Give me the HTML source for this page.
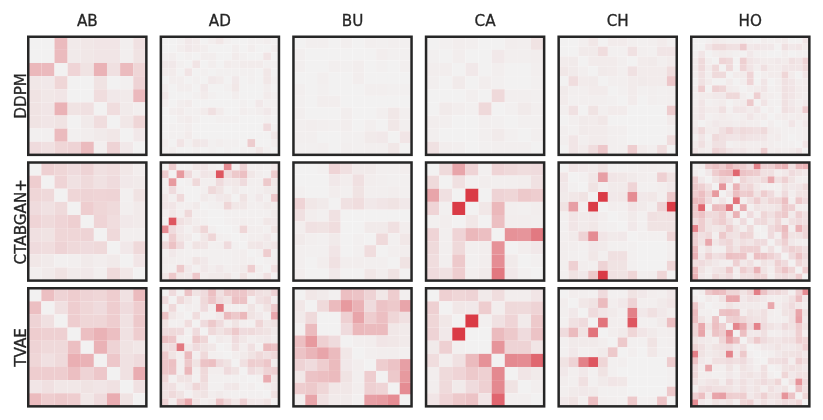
<!DOCTYPE html>
<html lang="en"><head><meta charset="utf-8"><title>Correlation difference heatmaps</title>
<style>html,body{margin:0;padding:0;background:#fff}svg{display:block}text{font-family:"DejaVu Sans","Liberation Sans",sans-serif;font-size:15.2px;fill:#262626;stroke:#262626;stroke-width:0.3px}</style></head><body>
<svg width="823" height="420" viewBox="0 0 823 420">
<rect width="823" height="420" fill="#fff"/>
<text x="87.3" y="25.6" text-anchor="middle">AB</text>
<text x="219.9" y="25.6" text-anchor="middle">AD</text>
<text x="352.5" y="25.6" text-anchor="middle">BU</text>
<text x="485.1" y="25.6" text-anchor="middle">CA</text>
<text x="617.7" y="25.6" text-anchor="middle">CH</text>
<text x="750.3" y="25.6" text-anchor="middle">HO</text>
<text transform="translate(25.5 95.9) rotate(-90)" text-anchor="middle">DDPM</text>
<text transform="translate(25.5 221.65) rotate(-90)" text-anchor="middle">CTABGAN+</text>
<text transform="translate(25.5 347.4) rotate(-90)" text-anchor="middle">TVAE</text>
<g>
<rect x="28.25" y="36.75" width="13.12" height="13.12" fill="#f2f1f1"/>
<rect x="41.37" y="36.75" width="13.12" height="13.12" fill="#f2f1f1"/>
<rect x="54.49" y="36.75" width="13.12" height="13.12" fill="#ebbbbe"/>
<rect x="67.62" y="36.75" width="13.12" height="13.12" fill="#f1eaea"/>
<rect x="80.74" y="36.75" width="13.12" height="13.12" fill="#f1e7e7"/>
<rect x="93.86" y="36.75" width="13.12" height="13.12" fill="#f1e5e6"/>
<rect x="106.98" y="36.75" width="13.12" height="13.12" fill="#f1e5e6"/>
<rect x="120.11" y="36.75" width="13.12" height="13.12" fill="#f2eeee"/>
<rect x="133.23" y="36.75" width="13.12" height="13.12" fill="#f0e1e2"/>
<rect x="28.25" y="49.87" width="13.12" height="13.12" fill="#f2f1f1"/>
<rect x="41.37" y="49.87" width="13.12" height="13.12" fill="#f2f1f1"/>
<rect x="54.49" y="49.87" width="13.12" height="13.12" fill="#ebbbbe"/>
<rect x="67.62" y="49.87" width="13.12" height="13.12" fill="#f1eaea"/>
<rect x="80.74" y="49.87" width="13.12" height="13.12" fill="#f1e7e7"/>
<rect x="93.86" y="49.87" width="13.12" height="13.12" fill="#f1e5e6"/>
<rect x="106.98" y="49.87" width="13.12" height="13.12" fill="#f1e5e6"/>
<rect x="120.11" y="49.87" width="13.12" height="13.12" fill="#f2eeee"/>
<rect x="133.23" y="49.87" width="13.12" height="13.12" fill="#f0e3e3"/>
<rect x="28.25" y="62.99" width="13.12" height="13.12" fill="#ebb8bb"/>
<rect x="41.37" y="62.99" width="13.12" height="13.12" fill="#ebb9bd"/>
<rect x="54.49" y="62.99" width="13.12" height="13.12" fill="#f2f1f1"/>
<rect x="67.62" y="62.99" width="13.12" height="13.12" fill="#efd4d6"/>
<rect x="80.74" y="62.99" width="13.12" height="13.12" fill="#f0e3e3"/>
<rect x="93.86" y="62.99" width="13.12" height="13.12" fill="#eab2b6"/>
<rect x="106.98" y="62.99" width="13.12" height="13.12" fill="#f0e0e1"/>
<rect x="120.11" y="62.99" width="13.12" height="13.12" fill="#ebbbbe"/>
<rect x="133.23" y="62.99" width="13.12" height="13.12" fill="#efd6d7"/>
<rect x="28.25" y="76.12" width="13.12" height="13.12" fill="#f1e7e7"/>
<rect x="41.37" y="76.12" width="13.12" height="13.12" fill="#f1e8e9"/>
<rect x="54.49" y="76.12" width="13.12" height="13.12" fill="#efd6d7"/>
<rect x="67.62" y="76.12" width="13.12" height="13.12" fill="#f2f1f1"/>
<rect x="80.74" y="76.12" width="13.12" height="13.12" fill="#f2f1f1"/>
<rect x="93.86" y="76.12" width="13.12" height="13.12" fill="#f0e3e3"/>
<rect x="106.98" y="76.12" width="13.12" height="13.12" fill="#f2f1f1"/>
<rect x="120.11" y="76.12" width="13.12" height="13.12" fill="#f2efef"/>
<rect x="133.23" y="76.12" width="13.12" height="13.12" fill="#eed3d5"/>
<rect x="28.25" y="89.24" width="13.12" height="13.12" fill="#f0e3e3"/>
<rect x="41.37" y="89.24" width="13.12" height="13.12" fill="#f1e7e7"/>
<rect x="54.49" y="89.24" width="13.12" height="13.12" fill="#f1e5e6"/>
<rect x="67.62" y="89.24" width="13.12" height="13.12" fill="#f2f1f1"/>
<rect x="80.74" y="89.24" width="13.12" height="13.12" fill="#f2f1f1"/>
<rect x="93.86" y="89.24" width="13.12" height="13.12" fill="#f0ddde"/>
<rect x="106.98" y="89.24" width="13.12" height="13.12" fill="#f1e8e9"/>
<rect x="120.11" y="89.24" width="13.12" height="13.12" fill="#f1eaea"/>
<rect x="133.23" y="89.24" width="13.12" height="13.12" fill="#ebb9bd"/>
<rect x="28.25" y="102.36" width="13.12" height="13.12" fill="#f0e3e3"/>
<rect x="41.37" y="102.36" width="13.12" height="13.12" fill="#f1e5e6"/>
<rect x="54.49" y="102.36" width="13.12" height="13.12" fill="#eab2b6"/>
<rect x="67.62" y="102.36" width="13.12" height="13.12" fill="#f0e3e3"/>
<rect x="80.74" y="102.36" width="13.12" height="13.12" fill="#f0e0e1"/>
<rect x="93.86" y="102.36" width="13.12" height="13.12" fill="#f2f1f1"/>
<rect x="106.98" y="102.36" width="13.12" height="13.12" fill="#f0ddde"/>
<rect x="120.11" y="102.36" width="13.12" height="13.12" fill="#f1eaea"/>
<rect x="133.23" y="102.36" width="13.12" height="13.12" fill="#f2eeee"/>
<rect x="28.25" y="115.48" width="13.12" height="13.12" fill="#f0e3e3"/>
<rect x="41.37" y="115.48" width="13.12" height="13.12" fill="#f1e5e6"/>
<rect x="54.49" y="115.48" width="13.12" height="13.12" fill="#f0e3e3"/>
<rect x="67.62" y="115.48" width="13.12" height="13.12" fill="#f2f1f1"/>
<rect x="80.74" y="115.48" width="13.12" height="13.12" fill="#f1eaea"/>
<rect x="93.86" y="115.48" width="13.12" height="13.12" fill="#f0ddde"/>
<rect x="106.98" y="115.48" width="13.12" height="13.12" fill="#f2f1f1"/>
<rect x="120.11" y="115.48" width="13.12" height="13.12" fill="#f1e7e7"/>
<rect x="133.23" y="115.48" width="13.12" height="13.12" fill="#efd6d7"/>
<rect x="28.25" y="128.61" width="13.12" height="13.12" fill="#f2efef"/>
<rect x="41.37" y="128.61" width="13.12" height="13.12" fill="#f2efef"/>
<rect x="54.49" y="128.61" width="13.12" height="13.12" fill="#ebbbbe"/>
<rect x="67.62" y="128.61" width="13.12" height="13.12" fill="#f2efef"/>
<rect x="80.74" y="128.61" width="13.12" height="13.12" fill="#f2eded"/>
<rect x="93.86" y="128.61" width="13.12" height="13.12" fill="#f1eaea"/>
<rect x="106.98" y="128.61" width="13.12" height="13.12" fill="#f1e7e7"/>
<rect x="120.11" y="128.61" width="13.12" height="13.12" fill="#f2f1f1"/>
<rect x="133.23" y="128.61" width="13.12" height="13.12" fill="#f1e8e9"/>
<rect x="28.25" y="141.73" width="13.12" height="13.12" fill="#efdbdd"/>
<rect x="41.37" y="141.73" width="13.12" height="13.12" fill="#f0e0e1"/>
<rect x="54.49" y="141.73" width="13.12" height="13.12" fill="#efd6d7"/>
<rect x="67.62" y="141.73" width="13.12" height="13.12" fill="#eed3d5"/>
<rect x="80.74" y="141.73" width="13.12" height="13.12" fill="#ebbbbe"/>
<rect x="93.86" y="141.73" width="13.12" height="13.12" fill="#f2eeee"/>
<rect x="106.98" y="141.73" width="13.12" height="13.12" fill="#eed3d5"/>
<rect x="120.11" y="141.73" width="13.12" height="13.12" fill="#f1e8e9"/>
<rect x="133.23" y="141.73" width="13.12" height="13.12" fill="#f2f1f1"/>
<rect x="28.25" y="36.75" width="118.1" height="118.1" fill="none" stroke="#262626" stroke-width="2.5"/>
</g>
<g>
<rect x="160.85" y="36.75" width="7.87" height="7.87" fill="#f2f1f1"/>
<rect x="168.72" y="36.75" width="7.87" height="7.87" fill="#f2f1f1"/>
<rect x="176.6" y="36.75" width="7.87" height="7.87" fill="#f2efef"/>
<rect x="184.47" y="36.75" width="7.87" height="7.87" fill="#f1e8e9"/>
<rect x="192.34" y="36.75" width="7.87" height="7.87" fill="#f2ebeb"/>
<rect x="200.22" y="36.75" width="7.87" height="7.87" fill="#f2f1f1"/>
<rect x="208.09" y="36.75" width="7.87" height="7.87" fill="#f2eded"/>
<rect x="215.96" y="36.75" width="7.87" height="7.87" fill="#f1e7e7"/>
<rect x="223.84" y="36.75" width="7.87" height="7.87" fill="#f2efef"/>
<rect x="231.71" y="36.75" width="7.87" height="7.87" fill="#f2f1f1"/>
<rect x="239.58" y="36.75" width="7.87" height="7.87" fill="#f2f1f1"/>
<rect x="247.46" y="36.75" width="7.87" height="7.87" fill="#f2efef"/>
<rect x="255.33" y="36.75" width="7.87" height="7.87" fill="#f2efef"/>
<rect x="263.2" y="36.75" width="7.87" height="7.87" fill="#f2eded"/>
<rect x="271.08" y="36.75" width="7.87" height="7.87" fill="#f2efef"/>
<rect x="160.85" y="44.62" width="7.87" height="7.87" fill="#f2f1f1"/>
<rect x="168.72" y="44.62" width="7.87" height="7.87" fill="#f2f1f1"/>
<rect x="176.6" y="44.62" width="7.87" height="7.87" fill="#f2eded"/>
<rect x="184.47" y="44.62" width="7.87" height="7.87" fill="#f1e8e9"/>
<rect x="192.34" y="44.62" width="7.87" height="7.87" fill="#f2ebeb"/>
<rect x="200.22" y="44.62" width="7.87" height="7.87" fill="#f2eded"/>
<rect x="208.09" y="44.62" width="7.87" height="7.87" fill="#f2f1f1"/>
<rect x="215.96" y="44.62" width="7.87" height="7.87" fill="#f2f1f1"/>
<rect x="223.84" y="44.62" width="7.87" height="7.87" fill="#f2f1f1"/>
<rect x="231.71" y="44.62" width="7.87" height="7.87" fill="#f2eded"/>
<rect x="239.58" y="44.62" width="7.87" height="7.87" fill="#f2f1f1"/>
<rect x="247.46" y="44.62" width="7.87" height="7.87" fill="#f2eded"/>
<rect x="255.33" y="44.62" width="7.87" height="7.87" fill="#f2f1f1"/>
<rect x="263.2" y="44.62" width="7.87" height="7.87" fill="#f2f1f1"/>
<rect x="271.08" y="44.62" width="7.87" height="7.87" fill="#f2eded"/>
<rect x="160.85" y="52.5" width="7.87" height="7.87" fill="#f2efef"/>
<rect x="168.72" y="52.5" width="7.87" height="7.87" fill="#f2eded"/>
<rect x="176.6" y="52.5" width="7.87" height="7.87" fill="#f2f1f1"/>
<rect x="184.47" y="52.5" width="7.87" height="7.87" fill="#f2efef"/>
<rect x="192.34" y="52.5" width="7.87" height="7.87" fill="#f2f1f1"/>
<rect x="200.22" y="52.5" width="7.87" height="7.87" fill="#f2eded"/>
<rect x="208.09" y="52.5" width="7.87" height="7.87" fill="#f2eded"/>
<rect x="215.96" y="52.5" width="7.87" height="7.87" fill="#f2f1f1"/>
<rect x="223.84" y="52.5" width="7.87" height="7.87" fill="#f2f1f1"/>
<rect x="231.71" y="52.5" width="7.87" height="7.87" fill="#f2ebeb"/>
<rect x="239.58" y="52.5" width="7.87" height="7.87" fill="#f2efef"/>
<rect x="247.46" y="52.5" width="7.87" height="7.87" fill="#f2f1f1"/>
<rect x="255.33" y="52.5" width="7.87" height="7.87" fill="#f2f1f1"/>
<rect x="263.2" y="52.5" width="7.87" height="7.87" fill="#f1e4e5"/>
<rect x="271.08" y="52.5" width="7.87" height="7.87" fill="#f2f1f1"/>
<rect x="160.85" y="60.37" width="7.87" height="7.87" fill="#f1e8e9"/>
<rect x="168.72" y="60.37" width="7.87" height="7.87" fill="#f1e8e9"/>
<rect x="176.6" y="60.37" width="7.87" height="7.87" fill="#f2efef"/>
<rect x="184.47" y="60.37" width="7.87" height="7.87" fill="#f2f1f1"/>
<rect x="192.34" y="60.37" width="7.87" height="7.87" fill="#f1e4e5"/>
<rect x="200.22" y="60.37" width="7.87" height="7.87" fill="#f2f1f1"/>
<rect x="208.09" y="60.37" width="7.87" height="7.87" fill="#f2eded"/>
<rect x="215.96" y="60.37" width="7.87" height="7.87" fill="#f2f1f1"/>
<rect x="223.84" y="60.37" width="7.87" height="7.87" fill="#f2ebeb"/>
<rect x="231.71" y="60.37" width="7.87" height="7.87" fill="#f2eded"/>
<rect x="239.58" y="60.37" width="7.87" height="7.87" fill="#f2ebeb"/>
<rect x="247.46" y="60.37" width="7.87" height="7.87" fill="#f2ebeb"/>
<rect x="255.33" y="60.37" width="7.87" height="7.87" fill="#f2ebeb"/>
<rect x="263.2" y="60.37" width="7.87" height="7.87" fill="#f2efef"/>
<rect x="271.08" y="60.37" width="7.87" height="7.87" fill="#f2efef"/>
<rect x="160.85" y="68.24" width="7.87" height="7.87" fill="#f2ebeb"/>
<rect x="168.72" y="68.24" width="7.87" height="7.87" fill="#f2ebeb"/>
<rect x="176.6" y="68.24" width="7.87" height="7.87" fill="#f2f1f1"/>
<rect x="184.47" y="68.24" width="7.87" height="7.87" fill="#f1e4e5"/>
<rect x="192.34" y="68.24" width="7.87" height="7.87" fill="#f2f1f1"/>
<rect x="200.22" y="68.24" width="7.87" height="7.87" fill="#f2efef"/>
<rect x="208.09" y="68.24" width="7.87" height="7.87" fill="#f2f1f1"/>
<rect x="215.96" y="68.24" width="7.87" height="7.87" fill="#f2efef"/>
<rect x="223.84" y="68.24" width="7.87" height="7.87" fill="#f2efef"/>
<rect x="231.71" y="68.24" width="7.87" height="7.87" fill="#f2efef"/>
<rect x="239.58" y="68.24" width="7.87" height="7.87" fill="#f2efef"/>
<rect x="247.46" y="68.24" width="7.87" height="7.87" fill="#f2efef"/>
<rect x="255.33" y="68.24" width="7.87" height="7.87" fill="#f2f1f1"/>
<rect x="263.2" y="68.24" width="7.87" height="7.87" fill="#f1e7e7"/>
<rect x="271.08" y="68.24" width="7.87" height="7.87" fill="#f2f1f1"/>
<rect x="160.85" y="76.12" width="7.87" height="7.87" fill="#f2f1f1"/>
<rect x="168.72" y="76.12" width="7.87" height="7.87" fill="#f2eded"/>
<rect x="176.6" y="76.12" width="7.87" height="7.87" fill="#f2eded"/>
<rect x="184.47" y="76.12" width="7.87" height="7.87" fill="#f2f1f1"/>
<rect x="192.34" y="76.12" width="7.87" height="7.87" fill="#f2efef"/>
<rect x="200.22" y="76.12" width="7.87" height="7.87" fill="#f2f1f1"/>
<rect x="208.09" y="76.12" width="7.87" height="7.87" fill="#f1e8e9"/>
<rect x="215.96" y="76.12" width="7.87" height="7.87" fill="#f2ebeb"/>
<rect x="223.84" y="76.12" width="7.87" height="7.87" fill="#f2f1f1"/>
<rect x="231.71" y="76.12" width="7.87" height="7.87" fill="#f1e8e9"/>
<rect x="239.58" y="76.12" width="7.87" height="7.87" fill="#f2f1f1"/>
<rect x="247.46" y="76.12" width="7.87" height="7.87" fill="#f2efef"/>
<rect x="255.33" y="76.12" width="7.87" height="7.87" fill="#f2f1f1"/>
<rect x="263.2" y="76.12" width="7.87" height="7.87" fill="#f1e7e7"/>
<rect x="271.08" y="76.12" width="7.87" height="7.87" fill="#f2efef"/>
<rect x="160.85" y="83.99" width="7.87" height="7.87" fill="#f2eded"/>
<rect x="168.72" y="83.99" width="7.87" height="7.87" fill="#f2f1f1"/>
<rect x="176.6" y="83.99" width="7.87" height="7.87" fill="#f2eded"/>
<rect x="184.47" y="83.99" width="7.87" height="7.87" fill="#f2eded"/>
<rect x="192.34" y="83.99" width="7.87" height="7.87" fill="#f2f1f1"/>
<rect x="200.22" y="83.99" width="7.87" height="7.87" fill="#f1e8e9"/>
<rect x="208.09" y="83.99" width="7.87" height="7.87" fill="#f2f1f1"/>
<rect x="215.96" y="83.99" width="7.87" height="7.87" fill="#f2f1f1"/>
<rect x="223.84" y="83.99" width="7.87" height="7.87" fill="#f2efef"/>
<rect x="231.71" y="83.99" width="7.87" height="7.87" fill="#f1e7e7"/>
<rect x="239.58" y="83.99" width="7.87" height="7.87" fill="#f2f1f1"/>
<rect x="247.46" y="83.99" width="7.87" height="7.87" fill="#f2f1f1"/>
<rect x="255.33" y="83.99" width="7.87" height="7.87" fill="#f2f1f1"/>
<rect x="263.2" y="83.99" width="7.87" height="7.87" fill="#f2eded"/>
<rect x="271.08" y="83.99" width="7.87" height="7.87" fill="#f2f1f1"/>
<rect x="160.85" y="91.86" width="7.87" height="7.87" fill="#f1e8e9"/>
<rect x="168.72" y="91.86" width="7.87" height="7.87" fill="#f2f1f1"/>
<rect x="176.6" y="91.86" width="7.87" height="7.87" fill="#f2f1f1"/>
<rect x="184.47" y="91.86" width="7.87" height="7.87" fill="#f2f1f1"/>
<rect x="192.34" y="91.86" width="7.87" height="7.87" fill="#f2efef"/>
<rect x="200.22" y="91.86" width="7.87" height="7.87" fill="#f2ebeb"/>
<rect x="208.09" y="91.86" width="7.87" height="7.87" fill="#f2efef"/>
<rect x="215.96" y="91.86" width="7.87" height="7.87" fill="#f2f1f1"/>
<rect x="223.84" y="91.86" width="7.87" height="7.87" fill="#f2f1f1"/>
<rect x="231.71" y="91.86" width="7.87" height="7.87" fill="#f2eded"/>
<rect x="239.58" y="91.86" width="7.87" height="7.87" fill="#f2f1f1"/>
<rect x="247.46" y="91.86" width="7.87" height="7.87" fill="#f2f1f1"/>
<rect x="255.33" y="91.86" width="7.87" height="7.87" fill="#f2f1f1"/>
<rect x="263.2" y="91.86" width="7.87" height="7.87" fill="#f2ebeb"/>
<rect x="271.08" y="91.86" width="7.87" height="7.87" fill="#f2efef"/>
<rect x="160.85" y="99.74" width="7.87" height="7.87" fill="#f2eded"/>
<rect x="168.72" y="99.74" width="7.87" height="7.87" fill="#f2f1f1"/>
<rect x="176.6" y="99.74" width="7.87" height="7.87" fill="#f2eded"/>
<rect x="184.47" y="99.74" width="7.87" height="7.87" fill="#f2ebeb"/>
<rect x="192.34" y="99.74" width="7.87" height="7.87" fill="#f2f1f1"/>
<rect x="200.22" y="99.74" width="7.87" height="7.87" fill="#f2f1f1"/>
<rect x="208.09" y="99.74" width="7.87" height="7.87" fill="#f2f1f1"/>
<rect x="215.96" y="99.74" width="7.87" height="7.87" fill="#f2f1f1"/>
<rect x="223.84" y="99.74" width="7.87" height="7.87" fill="#f2f1f1"/>
<rect x="231.71" y="99.74" width="7.87" height="7.87" fill="#f2f1f1"/>
<rect x="239.58" y="99.74" width="7.87" height="7.87" fill="#f2efef"/>
<rect x="247.46" y="99.74" width="7.87" height="7.87" fill="#f2f1f1"/>
<rect x="255.33" y="99.74" width="7.87" height="7.87" fill="#f1e8e9"/>
<rect x="263.2" y="99.74" width="7.87" height="7.87" fill="#f2efef"/>
<rect x="271.08" y="99.74" width="7.87" height="7.87" fill="#f2efef"/>
<rect x="160.85" y="107.61" width="7.87" height="7.87" fill="#f2f1f1"/>
<rect x="168.72" y="107.61" width="7.87" height="7.87" fill="#f2eded"/>
<rect x="176.6" y="107.61" width="7.87" height="7.87" fill="#f2ebeb"/>
<rect x="184.47" y="107.61" width="7.87" height="7.87" fill="#f2efef"/>
<rect x="192.34" y="107.61" width="7.87" height="7.87" fill="#f2efef"/>
<rect x="200.22" y="107.61" width="7.87" height="7.87" fill="#f2ebeb"/>
<rect x="208.09" y="107.61" width="7.87" height="7.87" fill="#f0e0e1"/>
<rect x="215.96" y="107.61" width="7.87" height="7.87" fill="#f2ebeb"/>
<rect x="223.84" y="107.61" width="7.87" height="7.87" fill="#f2f1f1"/>
<rect x="231.71" y="107.61" width="7.87" height="7.87" fill="#f2f1f1"/>
<rect x="239.58" y="107.61" width="7.87" height="7.87" fill="#f2eded"/>
<rect x="247.46" y="107.61" width="7.87" height="7.87" fill="#f2efef"/>
<rect x="255.33" y="107.61" width="7.87" height="7.87" fill="#f2eded"/>
<rect x="263.2" y="107.61" width="7.87" height="7.87" fill="#f1e8e9"/>
<rect x="271.08" y="107.61" width="7.87" height="7.87" fill="#f2efef"/>
<rect x="160.85" y="115.48" width="7.87" height="7.87" fill="#f2f1f1"/>
<rect x="168.72" y="115.48" width="7.87" height="7.87" fill="#f2f1f1"/>
<rect x="176.6" y="115.48" width="7.87" height="7.87" fill="#f2eded"/>
<rect x="184.47" y="115.48" width="7.87" height="7.87" fill="#f2ebeb"/>
<rect x="192.34" y="115.48" width="7.87" height="7.87" fill="#f2efef"/>
<rect x="200.22" y="115.48" width="7.87" height="7.87" fill="#f2f1f1"/>
<rect x="208.09" y="115.48" width="7.87" height="7.87" fill="#f2f1f1"/>
<rect x="215.96" y="115.48" width="7.87" height="7.87" fill="#f2efef"/>
<rect x="223.84" y="115.48" width="7.87" height="7.87" fill="#f2efef"/>
<rect x="231.71" y="115.48" width="7.87" height="7.87" fill="#f2efef"/>
<rect x="239.58" y="115.48" width="7.87" height="7.87" fill="#f2f1f1"/>
<rect x="247.46" y="115.48" width="7.87" height="7.87" fill="#f2f1f1"/>
<rect x="255.33" y="115.48" width="7.87" height="7.87" fill="#f2f1f1"/>
<rect x="263.2" y="115.48" width="7.87" height="7.87" fill="#f2efef"/>
<rect x="271.08" y="115.48" width="7.87" height="7.87" fill="#f2f1f1"/>
<rect x="160.85" y="123.36" width="7.87" height="7.87" fill="#f2f1f1"/>
<rect x="168.72" y="123.36" width="7.87" height="7.87" fill="#f2efef"/>
<rect x="176.6" y="123.36" width="7.87" height="7.87" fill="#f2efef"/>
<rect x="184.47" y="123.36" width="7.87" height="7.87" fill="#f2eded"/>
<rect x="192.34" y="123.36" width="7.87" height="7.87" fill="#f2f1f1"/>
<rect x="200.22" y="123.36" width="7.87" height="7.87" fill="#f2f1f1"/>
<rect x="208.09" y="123.36" width="7.87" height="7.87" fill="#f2f1f1"/>
<rect x="215.96" y="123.36" width="7.87" height="7.87" fill="#f2f1f1"/>
<rect x="223.84" y="123.36" width="7.87" height="7.87" fill="#f2f1f1"/>
<rect x="231.71" y="123.36" width="7.87" height="7.87" fill="#f2f1f1"/>
<rect x="239.58" y="123.36" width="7.87" height="7.87" fill="#f2f1f1"/>
<rect x="247.46" y="123.36" width="7.87" height="7.87" fill="#f2f1f1"/>
<rect x="255.33" y="123.36" width="7.87" height="7.87" fill="#f2f1f1"/>
<rect x="263.2" y="123.36" width="7.87" height="7.87" fill="#efdbdd"/>
<rect x="271.08" y="123.36" width="7.87" height="7.87" fill="#f2efef"/>
<rect x="160.85" y="131.23" width="7.87" height="7.87" fill="#f2f1f1"/>
<rect x="168.72" y="131.23" width="7.87" height="7.87" fill="#f2efef"/>
<rect x="176.6" y="131.23" width="7.87" height="7.87" fill="#f2efef"/>
<rect x="184.47" y="131.23" width="7.87" height="7.87" fill="#f2ebeb"/>
<rect x="192.34" y="131.23" width="7.87" height="7.87" fill="#f2f1f1"/>
<rect x="200.22" y="131.23" width="7.87" height="7.87" fill="#f2f1f1"/>
<rect x="208.09" y="131.23" width="7.87" height="7.87" fill="#f2f1f1"/>
<rect x="215.96" y="131.23" width="7.87" height="7.87" fill="#f2f1f1"/>
<rect x="223.84" y="131.23" width="7.87" height="7.87" fill="#f2f1f1"/>
<rect x="231.71" y="131.23" width="7.87" height="7.87" fill="#f2f1f1"/>
<rect x="239.58" y="131.23" width="7.87" height="7.87" fill="#f2f1f1"/>
<rect x="247.46" y="131.23" width="7.87" height="7.87" fill="#f2f1f1"/>
<rect x="255.33" y="131.23" width="7.87" height="7.87" fill="#f2f1f1"/>
<rect x="263.2" y="131.23" width="7.87" height="7.87" fill="#f2f1f1"/>
<rect x="271.08" y="131.23" width="7.87" height="7.87" fill="#f1e7e7"/>
<rect x="160.85" y="139.1" width="7.87" height="7.87" fill="#f2eded"/>
<rect x="168.72" y="139.1" width="7.87" height="7.87" fill="#f2f1f1"/>
<rect x="176.6" y="139.1" width="7.87" height="7.87" fill="#f1e4e5"/>
<rect x="184.47" y="139.1" width="7.87" height="7.87" fill="#f2efef"/>
<rect x="192.34" y="139.1" width="7.87" height="7.87" fill="#f1e7e7"/>
<rect x="200.22" y="139.1" width="7.87" height="7.87" fill="#f1e8e9"/>
<rect x="208.09" y="139.1" width="7.87" height="7.87" fill="#f2efef"/>
<rect x="215.96" y="139.1" width="7.87" height="7.87" fill="#f2eded"/>
<rect x="223.84" y="139.1" width="7.87" height="7.87" fill="#f2efef"/>
<rect x="231.71" y="139.1" width="7.87" height="7.87" fill="#f2efef"/>
<rect x="239.58" y="139.1" width="7.87" height="7.87" fill="#f2f1f1"/>
<rect x="247.46" y="139.1" width="7.87" height="7.87" fill="#edccce"/>
<rect x="255.33" y="139.1" width="7.87" height="7.87" fill="#f2f1f1"/>
<rect x="263.2" y="139.1" width="7.87" height="7.87" fill="#f2f1f1"/>
<rect x="271.08" y="139.1" width="7.87" height="7.87" fill="#f2eded"/>
<rect x="160.85" y="146.98" width="7.87" height="7.87" fill="#f2efef"/>
<rect x="168.72" y="146.98" width="7.87" height="7.87" fill="#f2eded"/>
<rect x="176.6" y="146.98" width="7.87" height="7.87" fill="#f2f1f1"/>
<rect x="184.47" y="146.98" width="7.87" height="7.87" fill="#f2f1f1"/>
<rect x="192.34" y="146.98" width="7.87" height="7.87" fill="#f2efef"/>
<rect x="200.22" y="146.98" width="7.87" height="7.87" fill="#f2f1f1"/>
<rect x="208.09" y="146.98" width="7.87" height="7.87" fill="#f2efef"/>
<rect x="215.96" y="146.98" width="7.87" height="7.87" fill="#f2f1f1"/>
<rect x="223.84" y="146.98" width="7.87" height="7.87" fill="#f2efef"/>
<rect x="231.71" y="146.98" width="7.87" height="7.87" fill="#f2f1f1"/>
<rect x="239.58" y="146.98" width="7.87" height="7.87" fill="#f2efef"/>
<rect x="247.46" y="146.98" width="7.87" height="7.87" fill="#f2efef"/>
<rect x="255.33" y="146.98" width="7.87" height="7.87" fill="#f1e7e7"/>
<rect x="263.2" y="146.98" width="7.87" height="7.87" fill="#f2efef"/>
<rect x="271.08" y="146.98" width="7.87" height="7.87" fill="#f2f1f1"/>
<rect x="160.85" y="36.75" width="118.1" height="118.1" fill="none" stroke="#262626" stroke-width="2.5"/>
</g>
<g>
<rect x="293.45" y="36.75" width="11.81" height="11.81" fill="#f2f1f1"/>
<rect x="305.26" y="36.75" width="11.81" height="11.81" fill="#f2eeee"/>
<rect x="317.07" y="36.75" width="11.81" height="11.81" fill="#f2eeee"/>
<rect x="328.88" y="36.75" width="11.81" height="11.81" fill="#f2f1f1"/>
<rect x="340.69" y="36.75" width="11.81" height="11.81" fill="#f2eeee"/>
<rect x="352.5" y="36.75" width="11.81" height="11.81" fill="#f2f1f1"/>
<rect x="364.31" y="36.75" width="11.81" height="11.81" fill="#f2eeee"/>
<rect x="376.12" y="36.75" width="11.81" height="11.81" fill="#f2efef"/>
<rect x="387.93" y="36.75" width="11.81" height="11.81" fill="#f2eeee"/>
<rect x="399.74" y="36.75" width="11.81" height="11.81" fill="#f2efef"/>
<rect x="293.45" y="48.56" width="11.81" height="11.81" fill="#f2eeee"/>
<rect x="305.26" y="48.56" width="11.81" height="11.81" fill="#f2f1f1"/>
<rect x="317.07" y="48.56" width="11.81" height="11.81" fill="#f2f1f1"/>
<rect x="328.88" y="48.56" width="11.81" height="11.81" fill="#f2f1f1"/>
<rect x="340.69" y="48.56" width="11.81" height="11.81" fill="#f2f1f1"/>
<rect x="352.5" y="48.56" width="11.81" height="11.81" fill="#f2f1f1"/>
<rect x="364.31" y="48.56" width="11.81" height="11.81" fill="#f2f1f1"/>
<rect x="376.12" y="48.56" width="11.81" height="11.81" fill="#f2eded"/>
<rect x="387.93" y="48.56" width="11.81" height="11.81" fill="#f2efef"/>
<rect x="399.74" y="48.56" width="11.81" height="11.81" fill="#f2efef"/>
<rect x="293.45" y="60.37" width="11.81" height="11.81" fill="#f2eeee"/>
<rect x="305.26" y="60.37" width="11.81" height="11.81" fill="#f2f1f1"/>
<rect x="317.07" y="60.37" width="11.81" height="11.81" fill="#f2f1f1"/>
<rect x="328.88" y="60.37" width="11.81" height="11.81" fill="#f2eeee"/>
<rect x="340.69" y="60.37" width="11.81" height="11.81" fill="#f2efef"/>
<rect x="352.5" y="60.37" width="11.81" height="11.81" fill="#f2eded"/>
<rect x="364.31" y="60.37" width="11.81" height="11.81" fill="#f2f1f1"/>
<rect x="376.12" y="60.37" width="11.81" height="11.81" fill="#f2efef"/>
<rect x="387.93" y="60.37" width="11.81" height="11.81" fill="#f2f1f1"/>
<rect x="399.74" y="60.37" width="11.81" height="11.81" fill="#f2eeee"/>
<rect x="293.45" y="72.18" width="11.81" height="11.81" fill="#f2f1f1"/>
<rect x="305.26" y="72.18" width="11.81" height="11.81" fill="#f2f1f1"/>
<rect x="317.07" y="72.18" width="11.81" height="11.81" fill="#f2eeee"/>
<rect x="328.88" y="72.18" width="11.81" height="11.81" fill="#f2f1f1"/>
<rect x="340.69" y="72.18" width="11.81" height="11.81" fill="#f2f1f1"/>
<rect x="352.5" y="72.18" width="11.81" height="11.81" fill="#f2eded"/>
<rect x="364.31" y="72.18" width="11.81" height="11.81" fill="#f2f1f1"/>
<rect x="376.12" y="72.18" width="11.81" height="11.81" fill="#f2f1f1"/>
<rect x="387.93" y="72.18" width="11.81" height="11.81" fill="#f2f1f1"/>
<rect x="399.74" y="72.18" width="11.81" height="11.81" fill="#f2f1f1"/>
<rect x="293.45" y="83.99" width="11.81" height="11.81" fill="#f2eeee"/>
<rect x="305.26" y="83.99" width="11.81" height="11.81" fill="#f2f1f1"/>
<rect x="317.07" y="83.99" width="11.81" height="11.81" fill="#f2efef"/>
<rect x="328.88" y="83.99" width="11.81" height="11.81" fill="#f2f1f1"/>
<rect x="340.69" y="83.99" width="11.81" height="11.81" fill="#f2f1f1"/>
<rect x="352.5" y="83.99" width="11.81" height="11.81" fill="#f2f1f1"/>
<rect x="364.31" y="83.99" width="11.81" height="11.81" fill="#f2eeee"/>
<rect x="376.12" y="83.99" width="11.81" height="11.81" fill="#f2eeee"/>
<rect x="387.93" y="83.99" width="11.81" height="11.81" fill="#f2efef"/>
<rect x="399.74" y="83.99" width="11.81" height="11.81" fill="#f2efef"/>
<rect x="293.45" y="95.8" width="11.81" height="11.81" fill="#f2efef"/>
<rect x="305.26" y="95.8" width="11.81" height="11.81" fill="#f2f1f1"/>
<rect x="317.07" y="95.8" width="11.81" height="11.81" fill="#f2eded"/>
<rect x="328.88" y="95.8" width="11.81" height="11.81" fill="#f2eded"/>
<rect x="340.69" y="95.8" width="11.81" height="11.81" fill="#f2f1f1"/>
<rect x="352.5" y="95.8" width="11.81" height="11.81" fill="#f2f1f1"/>
<rect x="364.31" y="95.8" width="11.81" height="11.81" fill="#f2f1f1"/>
<rect x="376.12" y="95.8" width="11.81" height="11.81" fill="#f2f1f1"/>
<rect x="387.93" y="95.8" width="11.81" height="11.81" fill="#f2f1f1"/>
<rect x="399.74" y="95.8" width="11.81" height="11.81" fill="#f2f1f1"/>
<rect x="293.45" y="107.61" width="11.81" height="11.81" fill="#f2eeee"/>
<rect x="305.26" y="107.61" width="11.81" height="11.81" fill="#f2f1f1"/>
<rect x="317.07" y="107.61" width="11.81" height="11.81" fill="#f2f1f1"/>
<rect x="328.88" y="107.61" width="11.81" height="11.81" fill="#f2f1f1"/>
<rect x="340.69" y="107.61" width="11.81" height="11.81" fill="#f2eded"/>
<rect x="352.5" y="107.61" width="11.81" height="11.81" fill="#f2f1f1"/>
<rect x="364.31" y="107.61" width="11.81" height="11.81" fill="#f2f1f1"/>
<rect x="376.12" y="107.61" width="11.81" height="11.81" fill="#f2eeee"/>
<rect x="387.93" y="107.61" width="11.81" height="11.81" fill="#f1e7e7"/>
<rect x="399.74" y="107.61" width="11.81" height="11.81" fill="#f2eeee"/>
<rect x="293.45" y="119.42" width="11.81" height="11.81" fill="#f2eeee"/>
<rect x="305.26" y="119.42" width="11.81" height="11.81" fill="#f2eded"/>
<rect x="317.07" y="119.42" width="11.81" height="11.81" fill="#f2eeee"/>
<rect x="328.88" y="119.42" width="11.81" height="11.81" fill="#f2efef"/>
<rect x="340.69" y="119.42" width="11.81" height="11.81" fill="#f2eded"/>
<rect x="352.5" y="119.42" width="11.81" height="11.81" fill="#f2f1f1"/>
<rect x="364.31" y="119.42" width="11.81" height="11.81" fill="#f2eeee"/>
<rect x="376.12" y="119.42" width="11.81" height="11.81" fill="#f2f1f1"/>
<rect x="387.93" y="119.42" width="11.81" height="11.81" fill="#f1e7e7"/>
<rect x="399.74" y="119.42" width="11.81" height="11.81" fill="#f2eeee"/>
<rect x="293.45" y="131.23" width="11.81" height="11.81" fill="#f2eeee"/>
<rect x="305.26" y="131.23" width="11.81" height="11.81" fill="#f2eeee"/>
<rect x="317.07" y="131.23" width="11.81" height="11.81" fill="#f2f1f1"/>
<rect x="328.88" y="131.23" width="11.81" height="11.81" fill="#f2f1f1"/>
<rect x="340.69" y="131.23" width="11.81" height="11.81" fill="#f2efef"/>
<rect x="352.5" y="131.23" width="11.81" height="11.81" fill="#f2efef"/>
<rect x="364.31" y="131.23" width="11.81" height="11.81" fill="#f1eaea"/>
<rect x="376.12" y="131.23" width="11.81" height="11.81" fill="#f1e8e9"/>
<rect x="387.93" y="131.23" width="11.81" height="11.81" fill="#f2f1f1"/>
<rect x="399.74" y="131.23" width="11.81" height="11.81" fill="#f1e5e6"/>
<rect x="293.45" y="143.04" width="11.81" height="11.81" fill="#f2efef"/>
<rect x="305.26" y="143.04" width="11.81" height="11.81" fill="#f2efef"/>
<rect x="317.07" y="143.04" width="11.81" height="11.81" fill="#f2eeee"/>
<rect x="328.88" y="143.04" width="11.81" height="11.81" fill="#f2f1f1"/>
<rect x="340.69" y="143.04" width="11.81" height="11.81" fill="#f2eeee"/>
<rect x="352.5" y="143.04" width="11.81" height="11.81" fill="#f2efef"/>
<rect x="364.31" y="143.04" width="11.81" height="11.81" fill="#f2eeee"/>
<rect x="376.12" y="143.04" width="11.81" height="11.81" fill="#f2eeee"/>
<rect x="387.93" y="143.04" width="11.81" height="11.81" fill="#f1e7e7"/>
<rect x="399.74" y="143.04" width="11.81" height="11.81" fill="#f2f1f1"/>
<rect x="293.45" y="36.75" width="118.1" height="118.1" fill="none" stroke="#262626" stroke-width="2.5"/>
</g>
<g>
<rect x="426.05" y="36.75" width="13.12" height="13.12" fill="#f2f1f1"/>
<rect x="439.17" y="36.75" width="13.12" height="13.12" fill="#f2efef"/>
<rect x="452.29" y="36.75" width="13.12" height="13.12" fill="#f2eded"/>
<rect x="465.42" y="36.75" width="13.12" height="13.12" fill="#f2eeee"/>
<rect x="478.54" y="36.75" width="13.12" height="13.12" fill="#f2f1f1"/>
<rect x="491.66" y="36.75" width="13.12" height="13.12" fill="#f2f1f1"/>
<rect x="504.78" y="36.75" width="13.12" height="13.12" fill="#f2eded"/>
<rect x="517.91" y="36.75" width="13.12" height="13.12" fill="#f2eeee"/>
<rect x="531.03" y="36.75" width="13.12" height="13.12" fill="#f0e3e3"/>
<rect x="426.05" y="49.87" width="13.12" height="13.12" fill="#f2efef"/>
<rect x="439.17" y="49.87" width="13.12" height="13.12" fill="#f2f1f1"/>
<rect x="452.29" y="49.87" width="13.12" height="13.12" fill="#f2eded"/>
<rect x="465.42" y="49.87" width="13.12" height="13.12" fill="#f2f1f1"/>
<rect x="478.54" y="49.87" width="13.12" height="13.12" fill="#f2f1f1"/>
<rect x="491.66" y="49.87" width="13.12" height="13.12" fill="#f1e8e9"/>
<rect x="504.78" y="49.87" width="13.12" height="13.12" fill="#f2eeee"/>
<rect x="517.91" y="49.87" width="13.12" height="13.12" fill="#f2eeee"/>
<rect x="531.03" y="49.87" width="13.12" height="13.12" fill="#f2eded"/>
<rect x="426.05" y="62.99" width="13.12" height="13.12" fill="#f2eded"/>
<rect x="439.17" y="62.99" width="13.12" height="13.12" fill="#f2eded"/>
<rect x="452.29" y="62.99" width="13.12" height="13.12" fill="#f2f1f1"/>
<rect x="465.42" y="62.99" width="13.12" height="13.12" fill="#f1e8e9"/>
<rect x="478.54" y="62.99" width="13.12" height="13.12" fill="#f2f1f1"/>
<rect x="491.66" y="62.99" width="13.12" height="13.12" fill="#f2eeee"/>
<rect x="504.78" y="62.99" width="13.12" height="13.12" fill="#f2f1f1"/>
<rect x="517.91" y="62.99" width="13.12" height="13.12" fill="#f2f1f1"/>
<rect x="531.03" y="62.99" width="13.12" height="13.12" fill="#f2eeee"/>
<rect x="426.05" y="76.12" width="13.12" height="13.12" fill="#f2eeee"/>
<rect x="439.17" y="76.12" width="13.12" height="13.12" fill="#f2f1f1"/>
<rect x="452.29" y="76.12" width="13.12" height="13.12" fill="#f1eaea"/>
<rect x="465.42" y="76.12" width="13.12" height="13.12" fill="#f2f1f1"/>
<rect x="478.54" y="76.12" width="13.12" height="13.12" fill="#f2eded"/>
<rect x="491.66" y="76.12" width="13.12" height="13.12" fill="#f2efef"/>
<rect x="504.78" y="76.12" width="13.12" height="13.12" fill="#f2f1f1"/>
<rect x="517.91" y="76.12" width="13.12" height="13.12" fill="#f2f1f1"/>
<rect x="531.03" y="76.12" width="13.12" height="13.12" fill="#f2efef"/>
<rect x="426.05" y="89.24" width="13.12" height="13.12" fill="#f2f1f1"/>
<rect x="439.17" y="89.24" width="13.12" height="13.12" fill="#f2f1f1"/>
<rect x="452.29" y="89.24" width="13.12" height="13.12" fill="#f2f1f1"/>
<rect x="465.42" y="89.24" width="13.12" height="13.12" fill="#f2eeee"/>
<rect x="478.54" y="89.24" width="13.12" height="13.12" fill="#f2f1f1"/>
<rect x="491.66" y="89.24" width="13.12" height="13.12" fill="#efd9da"/>
<rect x="504.78" y="89.24" width="13.12" height="13.12" fill="#f2eeee"/>
<rect x="517.91" y="89.24" width="13.12" height="13.12" fill="#f2eeee"/>
<rect x="531.03" y="89.24" width="13.12" height="13.12" fill="#f2efef"/>
<rect x="426.05" y="102.36" width="13.12" height="13.12" fill="#f2f1f1"/>
<rect x="439.17" y="102.36" width="13.12" height="13.12" fill="#f1eaea"/>
<rect x="452.29" y="102.36" width="13.12" height="13.12" fill="#f2eded"/>
<rect x="465.42" y="102.36" width="13.12" height="13.12" fill="#f2efef"/>
<rect x="478.54" y="102.36" width="13.12" height="13.12" fill="#efd9da"/>
<rect x="491.66" y="102.36" width="13.12" height="13.12" fill="#f2f1f1"/>
<rect x="504.78" y="102.36" width="13.12" height="13.12" fill="#f2efef"/>
<rect x="517.91" y="102.36" width="13.12" height="13.12" fill="#f1eaea"/>
<rect x="531.03" y="102.36" width="13.12" height="13.12" fill="#f2eeee"/>
<rect x="426.05" y="115.48" width="13.12" height="13.12" fill="#f2eded"/>
<rect x="439.17" y="115.48" width="13.12" height="13.12" fill="#f2eeee"/>
<rect x="452.29" y="115.48" width="13.12" height="13.12" fill="#f2f1f1"/>
<rect x="465.42" y="115.48" width="13.12" height="13.12" fill="#f2f1f1"/>
<rect x="478.54" y="115.48" width="13.12" height="13.12" fill="#f2eeee"/>
<rect x="491.66" y="115.48" width="13.12" height="13.12" fill="#f2efef"/>
<rect x="504.78" y="115.48" width="13.12" height="13.12" fill="#f2f1f1"/>
<rect x="517.91" y="115.48" width="13.12" height="13.12" fill="#f2efef"/>
<rect x="531.03" y="115.48" width="13.12" height="13.12" fill="#f2efef"/>
<rect x="426.05" y="128.61" width="13.12" height="13.12" fill="#f2eeee"/>
<rect x="439.17" y="128.61" width="13.12" height="13.12" fill="#f2f1f1"/>
<rect x="452.29" y="128.61" width="13.12" height="13.12" fill="#f2f1f1"/>
<rect x="465.42" y="128.61" width="13.12" height="13.12" fill="#f2f1f1"/>
<rect x="478.54" y="128.61" width="13.12" height="13.12" fill="#f2eeee"/>
<rect x="491.66" y="128.61" width="13.12" height="13.12" fill="#f1eaea"/>
<rect x="504.78" y="128.61" width="13.12" height="13.12" fill="#f2efef"/>
<rect x="517.91" y="128.61" width="13.12" height="13.12" fill="#f2f1f1"/>
<rect x="531.03" y="128.61" width="13.12" height="13.12" fill="#f2eeee"/>
<rect x="426.05" y="141.73" width="13.12" height="13.12" fill="#f0e1e2"/>
<rect x="439.17" y="141.73" width="13.12" height="13.12" fill="#f2eded"/>
<rect x="452.29" y="141.73" width="13.12" height="13.12" fill="#f2eeee"/>
<rect x="465.42" y="141.73" width="13.12" height="13.12" fill="#f2f1f1"/>
<rect x="478.54" y="141.73" width="13.12" height="13.12" fill="#f2efef"/>
<rect x="491.66" y="141.73" width="13.12" height="13.12" fill="#f2eeee"/>
<rect x="504.78" y="141.73" width="13.12" height="13.12" fill="#f2eeee"/>
<rect x="517.91" y="141.73" width="13.12" height="13.12" fill="#f2eeee"/>
<rect x="531.03" y="141.73" width="13.12" height="13.12" fill="#f2f1f1"/>
<rect x="426.05" y="36.75" width="118.1" height="118.1" fill="none" stroke="#262626" stroke-width="2.5"/>
</g>
<g>
<rect x="558.65" y="36.75" width="9.84" height="9.84" fill="#f2f1f1"/>
<rect x="568.49" y="36.75" width="9.84" height="9.84" fill="#f2f1f1"/>
<rect x="578.33" y="36.75" width="9.84" height="9.84" fill="#f2eeee"/>
<rect x="588.17" y="36.75" width="9.84" height="9.84" fill="#f1e7e7"/>
<rect x="598.02" y="36.75" width="9.84" height="9.84" fill="#f2f1f1"/>
<rect x="607.86" y="36.75" width="9.84" height="9.84" fill="#f2ebeb"/>
<rect x="617.7" y="36.75" width="9.84" height="9.84" fill="#f2ebeb"/>
<rect x="627.54" y="36.75" width="9.84" height="9.84" fill="#f2eeee"/>
<rect x="637.38" y="36.75" width="9.84" height="9.84" fill="#f2efef"/>
<rect x="647.23" y="36.75" width="9.84" height="9.84" fill="#f2eeee"/>
<rect x="657.07" y="36.75" width="9.84" height="9.84" fill="#f2ebeb"/>
<rect x="666.91" y="36.75" width="9.84" height="9.84" fill="#f2efef"/>
<rect x="558.65" y="46.59" width="9.84" height="9.84" fill="#f2f1f1"/>
<rect x="568.49" y="46.59" width="9.84" height="9.84" fill="#f2f1f1"/>
<rect x="578.33" y="46.59" width="9.84" height="9.84" fill="#f1eaea"/>
<rect x="588.17" y="46.59" width="9.84" height="9.84" fill="#f1eaea"/>
<rect x="598.02" y="46.59" width="9.84" height="9.84" fill="#f0ddde"/>
<rect x="607.86" y="46.59" width="9.84" height="9.84" fill="#f2efef"/>
<rect x="617.7" y="46.59" width="9.84" height="9.84" fill="#f2efef"/>
<rect x="627.54" y="46.59" width="9.84" height="9.84" fill="#f0e1e2"/>
<rect x="637.38" y="46.59" width="9.84" height="9.84" fill="#f2eeee"/>
<rect x="647.23" y="46.59" width="9.84" height="9.84" fill="#f2efef"/>
<rect x="657.07" y="46.59" width="9.84" height="9.84" fill="#f1e5e6"/>
<rect x="666.91" y="46.59" width="9.84" height="9.84" fill="#f1e5e6"/>
<rect x="558.65" y="56.43" width="9.84" height="9.84" fill="#f2ebeb"/>
<rect x="568.49" y="56.43" width="9.84" height="9.84" fill="#f1eaea"/>
<rect x="578.33" y="56.43" width="9.84" height="9.84" fill="#f2f1f1"/>
<rect x="588.17" y="56.43" width="9.84" height="9.84" fill="#f2ebeb"/>
<rect x="598.02" y="56.43" width="9.84" height="9.84" fill="#f2ebeb"/>
<rect x="607.86" y="56.43" width="9.84" height="9.84" fill="#f2ebeb"/>
<rect x="617.7" y="56.43" width="9.84" height="9.84" fill="#f2eeee"/>
<rect x="627.54" y="56.43" width="9.84" height="9.84" fill="#f2f1f1"/>
<rect x="637.38" y="56.43" width="9.84" height="9.84" fill="#f2ebeb"/>
<rect x="647.23" y="56.43" width="9.84" height="9.84" fill="#f1eaea"/>
<rect x="657.07" y="56.43" width="9.84" height="9.84" fill="#f2eeee"/>
<rect x="666.91" y="56.43" width="9.84" height="9.84" fill="#f2ebeb"/>
<rect x="558.65" y="66.28" width="9.84" height="9.84" fill="#f1e7e7"/>
<rect x="568.49" y="66.28" width="9.84" height="9.84" fill="#f1eaea"/>
<rect x="578.33" y="66.28" width="9.84" height="9.84" fill="#f2eeee"/>
<rect x="588.17" y="66.28" width="9.84" height="9.84" fill="#f2f1f1"/>
<rect x="598.02" y="66.28" width="9.84" height="9.84" fill="#f1eaea"/>
<rect x="607.86" y="66.28" width="9.84" height="9.84" fill="#f2ebeb"/>
<rect x="617.7" y="66.28" width="9.84" height="9.84" fill="#f2eeee"/>
<rect x="627.54" y="66.28" width="9.84" height="9.84" fill="#f0e1e2"/>
<rect x="637.38" y="66.28" width="9.84" height="9.84" fill="#f2ebeb"/>
<rect x="647.23" y="66.28" width="9.84" height="9.84" fill="#f2ebeb"/>
<rect x="657.07" y="66.28" width="9.84" height="9.84" fill="#f2ebeb"/>
<rect x="666.91" y="66.28" width="9.84" height="9.84" fill="#f0ddde"/>
<rect x="558.65" y="76.12" width="9.84" height="9.84" fill="#f2f1f1"/>
<rect x="568.49" y="76.12" width="9.84" height="9.84" fill="#f0ddde"/>
<rect x="578.33" y="76.12" width="9.84" height="9.84" fill="#f2ebeb"/>
<rect x="588.17" y="76.12" width="9.84" height="9.84" fill="#f1eaea"/>
<rect x="598.02" y="76.12" width="9.84" height="9.84" fill="#f2f1f1"/>
<rect x="607.86" y="76.12" width="9.84" height="9.84" fill="#f2eeee"/>
<rect x="617.7" y="76.12" width="9.84" height="9.84" fill="#f2eeee"/>
<rect x="627.54" y="76.12" width="9.84" height="9.84" fill="#f2ebeb"/>
<rect x="637.38" y="76.12" width="9.84" height="9.84" fill="#f1eaea"/>
<rect x="647.23" y="76.12" width="9.84" height="9.84" fill="#f2ebeb"/>
<rect x="657.07" y="76.12" width="9.84" height="9.84" fill="#f2ebeb"/>
<rect x="666.91" y="76.12" width="9.84" height="9.84" fill="#edc7ca"/>
<rect x="558.65" y="85.96" width="9.84" height="9.84" fill="#f1eaea"/>
<rect x="568.49" y="85.96" width="9.84" height="9.84" fill="#f2eeee"/>
<rect x="578.33" y="85.96" width="9.84" height="9.84" fill="#f2eeee"/>
<rect x="588.17" y="85.96" width="9.84" height="9.84" fill="#f2ebeb"/>
<rect x="598.02" y="85.96" width="9.84" height="9.84" fill="#f2ebeb"/>
<rect x="607.86" y="85.96" width="9.84" height="9.84" fill="#f2f1f1"/>
<rect x="617.7" y="85.96" width="9.84" height="9.84" fill="#f2efef"/>
<rect x="627.54" y="85.96" width="9.84" height="9.84" fill="#f2ebeb"/>
<rect x="637.38" y="85.96" width="9.84" height="9.84" fill="#f2efef"/>
<rect x="647.23" y="85.96" width="9.84" height="9.84" fill="#f2eeee"/>
<rect x="657.07" y="85.96" width="9.84" height="9.84" fill="#f2efef"/>
<rect x="666.91" y="85.96" width="9.84" height="9.84" fill="#f2eeee"/>
<rect x="558.65" y="95.8" width="9.84" height="9.84" fill="#f2ebeb"/>
<rect x="568.49" y="95.8" width="9.84" height="9.84" fill="#f2efef"/>
<rect x="578.33" y="95.8" width="9.84" height="9.84" fill="#f2eeee"/>
<rect x="588.17" y="95.8" width="9.84" height="9.84" fill="#f2eeee"/>
<rect x="598.02" y="95.8" width="9.84" height="9.84" fill="#f2eeee"/>
<rect x="607.86" y="95.8" width="9.84" height="9.84" fill="#f2efef"/>
<rect x="617.7" y="95.8" width="9.84" height="9.84" fill="#f2f1f1"/>
<rect x="627.54" y="95.8" width="9.84" height="9.84" fill="#f2ebeb"/>
<rect x="637.38" y="95.8" width="9.84" height="9.84" fill="#f2f1f1"/>
<rect x="647.23" y="95.8" width="9.84" height="9.84" fill="#f2eeee"/>
<rect x="657.07" y="95.8" width="9.84" height="9.84" fill="#f2efef"/>
<rect x="666.91" y="95.8" width="9.84" height="9.84" fill="#f2eeee"/>
<rect x="558.65" y="105.64" width="9.84" height="9.84" fill="#f2eeee"/>
<rect x="568.49" y="105.64" width="9.84" height="9.84" fill="#f0e1e2"/>
<rect x="578.33" y="105.64" width="9.84" height="9.84" fill="#f2f1f1"/>
<rect x="588.17" y="105.64" width="9.84" height="9.84" fill="#f0e3e3"/>
<rect x="598.02" y="105.64" width="9.84" height="9.84" fill="#f2eeee"/>
<rect x="607.86" y="105.64" width="9.84" height="9.84" fill="#f2ebeb"/>
<rect x="617.7" y="105.64" width="9.84" height="9.84" fill="#f2ebeb"/>
<rect x="627.54" y="105.64" width="9.84" height="9.84" fill="#f2f1f1"/>
<rect x="637.38" y="105.64" width="9.84" height="9.84" fill="#f2f1f1"/>
<rect x="647.23" y="105.64" width="9.84" height="9.84" fill="#f2f1f1"/>
<rect x="657.07" y="105.64" width="9.84" height="9.84" fill="#f2f1f1"/>
<rect x="666.91" y="105.64" width="9.84" height="9.84" fill="#eecdcf"/>
<rect x="558.65" y="115.48" width="9.84" height="9.84" fill="#f2f1f1"/>
<rect x="568.49" y="115.48" width="9.84" height="9.84" fill="#f2eeee"/>
<rect x="578.33" y="115.48" width="9.84" height="9.84" fill="#f1eaea"/>
<rect x="588.17" y="115.48" width="9.84" height="9.84" fill="#f2ebeb"/>
<rect x="598.02" y="115.48" width="9.84" height="9.84" fill="#f1e7e7"/>
<rect x="607.86" y="115.48" width="9.84" height="9.84" fill="#f2f1f1"/>
<rect x="617.7" y="115.48" width="9.84" height="9.84" fill="#f2f1f1"/>
<rect x="627.54" y="115.48" width="9.84" height="9.84" fill="#f2f1f1"/>
<rect x="637.38" y="115.48" width="9.84" height="9.84" fill="#f2f1f1"/>
<rect x="647.23" y="115.48" width="9.84" height="9.84" fill="#f2f1f1"/>
<rect x="657.07" y="115.48" width="9.84" height="9.84" fill="#f2f1f1"/>
<rect x="666.91" y="115.48" width="9.84" height="9.84" fill="#f2ebeb"/>
<rect x="558.65" y="125.33" width="9.84" height="9.84" fill="#f2eeee"/>
<rect x="568.49" y="125.33" width="9.84" height="9.84" fill="#f2efef"/>
<rect x="578.33" y="125.33" width="9.84" height="9.84" fill="#f1eaea"/>
<rect x="588.17" y="125.33" width="9.84" height="9.84" fill="#f2ebeb"/>
<rect x="598.02" y="125.33" width="9.84" height="9.84" fill="#f2ebeb"/>
<rect x="607.86" y="125.33" width="9.84" height="9.84" fill="#f2eeee"/>
<rect x="617.7" y="125.33" width="9.84" height="9.84" fill="#f2eeee"/>
<rect x="627.54" y="125.33" width="9.84" height="9.84" fill="#f2f1f1"/>
<rect x="637.38" y="125.33" width="9.84" height="9.84" fill="#f2f1f1"/>
<rect x="647.23" y="125.33" width="9.84" height="9.84" fill="#f2f1f1"/>
<rect x="657.07" y="125.33" width="9.84" height="9.84" fill="#f2f1f1"/>
<rect x="666.91" y="125.33" width="9.84" height="9.84" fill="#f2efef"/>
<rect x="558.65" y="135.17" width="9.84" height="9.84" fill="#f2eeee"/>
<rect x="568.49" y="135.17" width="9.84" height="9.84" fill="#f1e5e6"/>
<rect x="578.33" y="135.17" width="9.84" height="9.84" fill="#f2eeee"/>
<rect x="588.17" y="135.17" width="9.84" height="9.84" fill="#f2ebeb"/>
<rect x="598.02" y="135.17" width="9.84" height="9.84" fill="#f2ebeb"/>
<rect x="607.86" y="135.17" width="9.84" height="9.84" fill="#f2eeee"/>
<rect x="617.7" y="135.17" width="9.84" height="9.84" fill="#f2efef"/>
<rect x="627.54" y="135.17" width="9.84" height="9.84" fill="#f2f1f1"/>
<rect x="637.38" y="135.17" width="9.84" height="9.84" fill="#f2f1f1"/>
<rect x="647.23" y="135.17" width="9.84" height="9.84" fill="#f2f1f1"/>
<rect x="657.07" y="135.17" width="9.84" height="9.84" fill="#f2f1f1"/>
<rect x="666.91" y="135.17" width="9.84" height="9.84" fill="#f0ddde"/>
<rect x="558.65" y="145.01" width="9.84" height="9.84" fill="#f2f1f1"/>
<rect x="568.49" y="145.01" width="9.84" height="9.84" fill="#f1e5e6"/>
<rect x="578.33" y="145.01" width="9.84" height="9.84" fill="#f2ebeb"/>
<rect x="588.17" y="145.01" width="9.84" height="9.84" fill="#f0ddde"/>
<rect x="598.02" y="145.01" width="9.84" height="9.84" fill="#edc7ca"/>
<rect x="607.86" y="145.01" width="9.84" height="9.84" fill="#f2eeee"/>
<rect x="617.7" y="145.01" width="9.84" height="9.84" fill="#f2eeee"/>
<rect x="627.54" y="145.01" width="9.84" height="9.84" fill="#eecdcf"/>
<rect x="637.38" y="145.01" width="9.84" height="9.84" fill="#f2ebeb"/>
<rect x="647.23" y="145.01" width="9.84" height="9.84" fill="#f2eeee"/>
<rect x="657.07" y="145.01" width="9.84" height="9.84" fill="#f0ddde"/>
<rect x="666.91" y="145.01" width="9.84" height="9.84" fill="#f2f1f1"/>
<rect x="558.65" y="36.75" width="118.1" height="118.1" fill="none" stroke="#262626" stroke-width="2.5"/>
</g>
<g>
<rect x="691.25" y="36.75" width="6.95" height="6.95" fill="#f2f1f1"/>
<rect x="698.2" y="36.75" width="6.95" height="6.95" fill="#f2f1f1"/>
<rect x="705.14" y="36.75" width="6.95" height="6.95" fill="#f2efef"/>
<rect x="712.09" y="36.75" width="6.95" height="6.95" fill="#f2ebeb"/>
<rect x="719.04" y="36.75" width="6.95" height="6.95" fill="#f2eded"/>
<rect x="725.99" y="36.75" width="6.95" height="6.95" fill="#f2efef"/>
<rect x="732.93" y="36.75" width="6.95" height="6.95" fill="#f2efef"/>
<rect x="739.88" y="36.75" width="6.95" height="6.95" fill="#f2eded"/>
<rect x="746.83" y="36.75" width="6.95" height="6.95" fill="#f2efef"/>
<rect x="753.77" y="36.75" width="6.95" height="6.95" fill="#f2f1f1"/>
<rect x="760.72" y="36.75" width="6.95" height="6.95" fill="#f2eded"/>
<rect x="767.67" y="36.75" width="6.95" height="6.95" fill="#f2efef"/>
<rect x="774.61" y="36.75" width="6.95" height="6.95" fill="#f2eded"/>
<rect x="781.56" y="36.75" width="6.95" height="6.95" fill="#f2ebeb"/>
<rect x="788.51" y="36.75" width="6.95" height="6.95" fill="#f2f1f1"/>
<rect x="795.46" y="36.75" width="6.95" height="6.95" fill="#f2f1f1"/>
<rect x="802.4" y="36.75" width="6.95" height="6.95" fill="#f1e5e6"/>
<rect x="691.25" y="43.7" width="6.95" height="6.95" fill="#f2f1f1"/>
<rect x="698.2" y="43.7" width="6.95" height="6.95" fill="#f2f1f1"/>
<rect x="705.14" y="43.7" width="6.95" height="6.95" fill="#f1e5e6"/>
<rect x="712.09" y="43.7" width="6.95" height="6.95" fill="#efdadb"/>
<rect x="719.04" y="43.7" width="6.95" height="6.95" fill="#efdadb"/>
<rect x="725.99" y="43.7" width="6.95" height="6.95" fill="#f0e0e1"/>
<rect x="732.93" y="43.7" width="6.95" height="6.95" fill="#f0e1e2"/>
<rect x="739.88" y="43.7" width="6.95" height="6.95" fill="#edcacd"/>
<rect x="746.83" y="43.7" width="6.95" height="6.95" fill="#f1e8e9"/>
<rect x="753.77" y="43.7" width="6.95" height="6.95" fill="#f1e5e6"/>
<rect x="760.72" y="43.7" width="6.95" height="6.95" fill="#f1e8e9"/>
<rect x="767.67" y="43.7" width="6.95" height="6.95" fill="#f1e8e9"/>
<rect x="774.61" y="43.7" width="6.95" height="6.95" fill="#f2f1f1"/>
<rect x="781.56" y="43.7" width="6.95" height="6.95" fill="#f0e0e1"/>
<rect x="788.51" y="43.7" width="6.95" height="6.95" fill="#f1e8e9"/>
<rect x="795.46" y="43.7" width="6.95" height="6.95" fill="#f1e5e6"/>
<rect x="802.4" y="43.7" width="6.95" height="6.95" fill="#f2ebeb"/>
<rect x="691.25" y="50.64" width="6.95" height="6.95" fill="#f2efef"/>
<rect x="698.2" y="50.64" width="6.95" height="6.95" fill="#f1e5e6"/>
<rect x="705.14" y="50.64" width="6.95" height="6.95" fill="#f2f1f1"/>
<rect x="712.09" y="50.64" width="6.95" height="6.95" fill="#f2eded"/>
<rect x="719.04" y="50.64" width="6.95" height="6.95" fill="#f2ebeb"/>
<rect x="725.99" y="50.64" width="6.95" height="6.95" fill="#f2eded"/>
<rect x="732.93" y="50.64" width="6.95" height="6.95" fill="#f2efef"/>
<rect x="739.88" y="50.64" width="6.95" height="6.95" fill="#f2f1f1"/>
<rect x="746.83" y="50.64" width="6.95" height="6.95" fill="#f1e8e9"/>
<rect x="753.77" y="50.64" width="6.95" height="6.95" fill="#f2efef"/>
<rect x="760.72" y="50.64" width="6.95" height="6.95" fill="#f2efef"/>
<rect x="767.67" y="50.64" width="6.95" height="6.95" fill="#f2f1f1"/>
<rect x="774.61" y="50.64" width="6.95" height="6.95" fill="#f2f1f1"/>
<rect x="781.56" y="50.64" width="6.95" height="6.95" fill="#f2eded"/>
<rect x="788.51" y="50.64" width="6.95" height="6.95" fill="#f2f1f1"/>
<rect x="795.46" y="50.64" width="6.95" height="6.95" fill="#f2efef"/>
<rect x="802.4" y="50.64" width="6.95" height="6.95" fill="#f2efef"/>
<rect x="691.25" y="57.59" width="6.95" height="6.95" fill="#f2ebeb"/>
<rect x="698.2" y="57.59" width="6.95" height="6.95" fill="#efdadb"/>
<rect x="705.14" y="57.59" width="6.95" height="6.95" fill="#f2eded"/>
<rect x="712.09" y="57.59" width="6.95" height="6.95" fill="#f2f1f1"/>
<rect x="719.04" y="57.59" width="6.95" height="6.95" fill="#efd4d6"/>
<rect x="725.99" y="57.59" width="6.95" height="6.95" fill="#efd9da"/>
<rect x="732.93" y="57.59" width="6.95" height="6.95" fill="#f2f1f1"/>
<rect x="739.88" y="57.59" width="6.95" height="6.95" fill="#eecfd1"/>
<rect x="746.83" y="57.59" width="6.95" height="6.95" fill="#f1e4e5"/>
<rect x="753.77" y="57.59" width="6.95" height="6.95" fill="#f1e8e9"/>
<rect x="760.72" y="57.59" width="6.95" height="6.95" fill="#f2ebeb"/>
<rect x="767.67" y="57.59" width="6.95" height="6.95" fill="#f2ebeb"/>
<rect x="774.61" y="57.59" width="6.95" height="6.95" fill="#f1e8e9"/>
<rect x="781.56" y="57.59" width="6.95" height="6.95" fill="#f2ebeb"/>
<rect x="788.51" y="57.59" width="6.95" height="6.95" fill="#f0e0e1"/>
<rect x="795.46" y="57.59" width="6.95" height="6.95" fill="#f1e5e6"/>
<rect x="802.4" y="57.59" width="6.95" height="6.95" fill="#efd4d6"/>
<rect x="691.25" y="64.54" width="6.95" height="6.95" fill="#f2ebeb"/>
<rect x="698.2" y="64.54" width="6.95" height="6.95" fill="#efdadb"/>
<rect x="705.14" y="64.54" width="6.95" height="6.95" fill="#f2ebeb"/>
<rect x="712.09" y="64.54" width="6.95" height="6.95" fill="#efd9da"/>
<rect x="719.04" y="64.54" width="6.95" height="6.95" fill="#f2f1f1"/>
<rect x="725.99" y="64.54" width="6.95" height="6.95" fill="#efd9da"/>
<rect x="732.93" y="64.54" width="6.95" height="6.95" fill="#f2f1f1"/>
<rect x="739.88" y="64.54" width="6.95" height="6.95" fill="#efd4d6"/>
<rect x="746.83" y="64.54" width="6.95" height="6.95" fill="#f1e4e5"/>
<rect x="753.77" y="64.54" width="6.95" height="6.95" fill="#f2eded"/>
<rect x="760.72" y="64.54" width="6.95" height="6.95" fill="#f0e0e1"/>
<rect x="767.67" y="64.54" width="6.95" height="6.95" fill="#f2ebeb"/>
<rect x="774.61" y="64.54" width="6.95" height="6.95" fill="#f2ebeb"/>
<rect x="781.56" y="64.54" width="6.95" height="6.95" fill="#f1e5e6"/>
<rect x="788.51" y="64.54" width="6.95" height="6.95" fill="#f1e5e6"/>
<rect x="795.46" y="64.54" width="6.95" height="6.95" fill="#f1e5e6"/>
<rect x="802.4" y="64.54" width="6.95" height="6.95" fill="#efdadb"/>
<rect x="691.25" y="71.49" width="6.95" height="6.95" fill="#f2eded"/>
<rect x="698.2" y="71.49" width="6.95" height="6.95" fill="#f0e0e1"/>
<rect x="705.14" y="71.49" width="6.95" height="6.95" fill="#f2eded"/>
<rect x="712.09" y="71.49" width="6.95" height="6.95" fill="#efdadb"/>
<rect x="719.04" y="71.49" width="6.95" height="6.95" fill="#efdadb"/>
<rect x="725.99" y="71.49" width="6.95" height="6.95" fill="#f2f1f1"/>
<rect x="732.93" y="71.49" width="6.95" height="6.95" fill="#f2ebeb"/>
<rect x="739.88" y="71.49" width="6.95" height="6.95" fill="#f2ebeb"/>
<rect x="746.83" y="71.49" width="6.95" height="6.95" fill="#efd4d6"/>
<rect x="753.77" y="71.49" width="6.95" height="6.95" fill="#f2f1f1"/>
<rect x="760.72" y="71.49" width="6.95" height="6.95" fill="#f2eded"/>
<rect x="767.67" y="71.49" width="6.95" height="6.95" fill="#f2ebeb"/>
<rect x="774.61" y="71.49" width="6.95" height="6.95" fill="#f2ebeb"/>
<rect x="781.56" y="71.49" width="6.95" height="6.95" fill="#efd6d7"/>
<rect x="788.51" y="71.49" width="6.95" height="6.95" fill="#f2ebeb"/>
<rect x="795.46" y="71.49" width="6.95" height="6.95" fill="#f2f1f1"/>
<rect x="802.4" y="71.49" width="6.95" height="6.95" fill="#f1e5e6"/>
<rect x="691.25" y="78.43" width="6.95" height="6.95" fill="#f2efef"/>
<rect x="698.2" y="78.43" width="6.95" height="6.95" fill="#f0e1e2"/>
<rect x="705.14" y="78.43" width="6.95" height="6.95" fill="#f2ebeb"/>
<rect x="712.09" y="78.43" width="6.95" height="6.95" fill="#f2f1f1"/>
<rect x="719.04" y="78.43" width="6.95" height="6.95" fill="#f2f1f1"/>
<rect x="725.99" y="78.43" width="6.95" height="6.95" fill="#f2ebeb"/>
<rect x="732.93" y="78.43" width="6.95" height="6.95" fill="#f2f1f1"/>
<rect x="739.88" y="78.43" width="6.95" height="6.95" fill="#f2eded"/>
<rect x="746.83" y="78.43" width="6.95" height="6.95" fill="#efd4d6"/>
<rect x="753.77" y="78.43" width="6.95" height="6.95" fill="#f2f1f1"/>
<rect x="760.72" y="78.43" width="6.95" height="6.95" fill="#f1e5e6"/>
<rect x="767.67" y="78.43" width="6.95" height="6.95" fill="#f2f1f1"/>
<rect x="774.61" y="78.43" width="6.95" height="6.95" fill="#f2eded"/>
<rect x="781.56" y="78.43" width="6.95" height="6.95" fill="#f0e1e2"/>
<rect x="788.51" y="78.43" width="6.95" height="6.95" fill="#f1e5e6"/>
<rect x="795.46" y="78.43" width="6.95" height="6.95" fill="#f2eded"/>
<rect x="802.4" y="78.43" width="6.95" height="6.95" fill="#f2ebeb"/>
<rect x="691.25" y="85.38" width="6.95" height="6.95" fill="#f2eded"/>
<rect x="698.2" y="85.38" width="6.95" height="6.95" fill="#eecdcf"/>
<rect x="705.14" y="85.38" width="6.95" height="6.95" fill="#f2f1f1"/>
<rect x="712.09" y="85.38" width="6.95" height="6.95" fill="#eed1d3"/>
<rect x="719.04" y="85.38" width="6.95" height="6.95" fill="#efd6d7"/>
<rect x="725.99" y="85.38" width="6.95" height="6.95" fill="#f2ebeb"/>
<rect x="732.93" y="85.38" width="6.95" height="6.95" fill="#f2eded"/>
<rect x="739.88" y="85.38" width="6.95" height="6.95" fill="#f2f1f1"/>
<rect x="746.83" y="85.38" width="6.95" height="6.95" fill="#f2eded"/>
<rect x="753.77" y="85.38" width="6.95" height="6.95" fill="#f2ebeb"/>
<rect x="760.72" y="85.38" width="6.95" height="6.95" fill="#f1e5e6"/>
<rect x="767.67" y="85.38" width="6.95" height="6.95" fill="#f2efef"/>
<rect x="774.61" y="85.38" width="6.95" height="6.95" fill="#f2eded"/>
<rect x="781.56" y="85.38" width="6.95" height="6.95" fill="#f0e1e2"/>
<rect x="788.51" y="85.38" width="6.95" height="6.95" fill="#f1e4e5"/>
<rect x="795.46" y="85.38" width="6.95" height="6.95" fill="#f2ebeb"/>
<rect x="802.4" y="85.38" width="6.95" height="6.95" fill="#f2ebeb"/>
<rect x="691.25" y="92.33" width="6.95" height="6.95" fill="#f2efef"/>
<rect x="698.2" y="92.33" width="6.95" height="6.95" fill="#f2ebeb"/>
<rect x="705.14" y="92.33" width="6.95" height="6.95" fill="#f2ebeb"/>
<rect x="712.09" y="92.33" width="6.95" height="6.95" fill="#f1e8e9"/>
<rect x="719.04" y="92.33" width="6.95" height="6.95" fill="#f1e8e9"/>
<rect x="725.99" y="92.33" width="6.95" height="6.95" fill="#efd9da"/>
<rect x="732.93" y="92.33" width="6.95" height="6.95" fill="#efd9da"/>
<rect x="739.88" y="92.33" width="6.95" height="6.95" fill="#f2eded"/>
<rect x="746.83" y="92.33" width="6.95" height="6.95" fill="#f2f1f1"/>
<rect x="753.77" y="92.33" width="6.95" height="6.95" fill="#eecfd1"/>
<rect x="760.72" y="92.33" width="6.95" height="6.95" fill="#f2ebeb"/>
<rect x="767.67" y="92.33" width="6.95" height="6.95" fill="#f2eded"/>
<rect x="774.61" y="92.33" width="6.95" height="6.95" fill="#f2efef"/>
<rect x="781.56" y="92.33" width="6.95" height="6.95" fill="#f0e1e2"/>
<rect x="788.51" y="92.33" width="6.95" height="6.95" fill="#f1e5e6"/>
<rect x="795.46" y="92.33" width="6.95" height="6.95" fill="#f2ebeb"/>
<rect x="802.4" y="92.33" width="6.95" height="6.95" fill="#f2eded"/>
<rect x="691.25" y="99.27" width="6.95" height="6.95" fill="#f2eded"/>
<rect x="698.2" y="99.27" width="6.95" height="6.95" fill="#f1e5e6"/>
<rect x="705.14" y="99.27" width="6.95" height="6.95" fill="#f2efef"/>
<rect x="712.09" y="99.27" width="6.95" height="6.95" fill="#f2eded"/>
<rect x="719.04" y="99.27" width="6.95" height="6.95" fill="#f2ebeb"/>
<rect x="725.99" y="99.27" width="6.95" height="6.95" fill="#f2f1f1"/>
<rect x="732.93" y="99.27" width="6.95" height="6.95" fill="#f2eded"/>
<rect x="739.88" y="99.27" width="6.95" height="6.95" fill="#f2ebeb"/>
<rect x="746.83" y="99.27" width="6.95" height="6.95" fill="#edc9cb"/>
<rect x="753.77" y="99.27" width="6.95" height="6.95" fill="#f2f1f1"/>
<rect x="760.72" y="99.27" width="6.95" height="6.95" fill="#f1e4e5"/>
<rect x="767.67" y="99.27" width="6.95" height="6.95" fill="#f2efef"/>
<rect x="774.61" y="99.27" width="6.95" height="6.95" fill="#f2efef"/>
<rect x="781.56" y="99.27" width="6.95" height="6.95" fill="#f0e1e2"/>
<rect x="788.51" y="99.27" width="6.95" height="6.95" fill="#f1e8e9"/>
<rect x="795.46" y="99.27" width="6.95" height="6.95" fill="#f2eded"/>
<rect x="802.4" y="99.27" width="6.95" height="6.95" fill="#f1e8e9"/>
<rect x="691.25" y="106.22" width="6.95" height="6.95" fill="#f2ebeb"/>
<rect x="698.2" y="106.22" width="6.95" height="6.95" fill="#f1e5e6"/>
<rect x="705.14" y="106.22" width="6.95" height="6.95" fill="#f2ebeb"/>
<rect x="712.09" y="106.22" width="6.95" height="6.95" fill="#f2ebeb"/>
<rect x="719.04" y="106.22" width="6.95" height="6.95" fill="#f0e0e1"/>
<rect x="725.99" y="106.22" width="6.95" height="6.95" fill="#f2efef"/>
<rect x="732.93" y="106.22" width="6.95" height="6.95" fill="#f1e5e6"/>
<rect x="739.88" y="106.22" width="6.95" height="6.95" fill="#f1e5e6"/>
<rect x="746.83" y="106.22" width="6.95" height="6.95" fill="#f2ebeb"/>
<rect x="753.77" y="106.22" width="6.95" height="6.95" fill="#f1e5e6"/>
<rect x="760.72" y="106.22" width="6.95" height="6.95" fill="#f2f1f1"/>
<rect x="767.67" y="106.22" width="6.95" height="6.95" fill="#f2eded"/>
<rect x="774.61" y="106.22" width="6.95" height="6.95" fill="#f2f1f1"/>
<rect x="781.56" y="106.22" width="6.95" height="6.95" fill="#f0e0e1"/>
<rect x="788.51" y="106.22" width="6.95" height="6.95" fill="#f1e5e6"/>
<rect x="795.46" y="106.22" width="6.95" height="6.95" fill="#f2ebeb"/>
<rect x="802.4" y="106.22" width="6.95" height="6.95" fill="#edcacd"/>
<rect x="691.25" y="113.17" width="6.95" height="6.95" fill="#f2ebeb"/>
<rect x="698.2" y="113.17" width="6.95" height="6.95" fill="#f1e5e6"/>
<rect x="705.14" y="113.17" width="6.95" height="6.95" fill="#f2efef"/>
<rect x="712.09" y="113.17" width="6.95" height="6.95" fill="#f2eded"/>
<rect x="719.04" y="113.17" width="6.95" height="6.95" fill="#f2ebeb"/>
<rect x="725.99" y="113.17" width="6.95" height="6.95" fill="#f2eded"/>
<rect x="732.93" y="113.17" width="6.95" height="6.95" fill="#f2efef"/>
<rect x="739.88" y="113.17" width="6.95" height="6.95" fill="#f2eded"/>
<rect x="746.83" y="113.17" width="6.95" height="6.95" fill="#f1e5e6"/>
<rect x="753.77" y="113.17" width="6.95" height="6.95" fill="#f2eded"/>
<rect x="760.72" y="113.17" width="6.95" height="6.95" fill="#f2ebeb"/>
<rect x="767.67" y="113.17" width="6.95" height="6.95" fill="#f2f1f1"/>
<rect x="774.61" y="113.17" width="6.95" height="6.95" fill="#f2eded"/>
<rect x="781.56" y="113.17" width="6.95" height="6.95" fill="#f2ebeb"/>
<rect x="788.51" y="113.17" width="6.95" height="6.95" fill="#f2eded"/>
<rect x="795.46" y="113.17" width="6.95" height="6.95" fill="#f2ebeb"/>
<rect x="802.4" y="113.17" width="6.95" height="6.95" fill="#f2ebeb"/>
<rect x="691.25" y="120.11" width="6.95" height="6.95" fill="#f2eded"/>
<rect x="698.2" y="120.11" width="6.95" height="6.95" fill="#f2f1f1"/>
<rect x="705.14" y="120.11" width="6.95" height="6.95" fill="#f2eded"/>
<rect x="712.09" y="120.11" width="6.95" height="6.95" fill="#f1e8e9"/>
<rect x="719.04" y="120.11" width="6.95" height="6.95" fill="#f2ebeb"/>
<rect x="725.99" y="120.11" width="6.95" height="6.95" fill="#f2ebeb"/>
<rect x="732.93" y="120.11" width="6.95" height="6.95" fill="#f2eded"/>
<rect x="739.88" y="120.11" width="6.95" height="6.95" fill="#f2ebeb"/>
<rect x="746.83" y="120.11" width="6.95" height="6.95" fill="#f2eded"/>
<rect x="753.77" y="120.11" width="6.95" height="6.95" fill="#f2eded"/>
<rect x="760.72" y="120.11" width="6.95" height="6.95" fill="#f2f1f1"/>
<rect x="767.67" y="120.11" width="6.95" height="6.95" fill="#f2eded"/>
<rect x="774.61" y="120.11" width="6.95" height="6.95" fill="#f2f1f1"/>
<rect x="781.56" y="120.11" width="6.95" height="6.95" fill="#f2efef"/>
<rect x="788.51" y="120.11" width="6.95" height="6.95" fill="#f1e5e6"/>
<rect x="795.46" y="120.11" width="6.95" height="6.95" fill="#f2efef"/>
<rect x="802.4" y="120.11" width="6.95" height="6.95" fill="#f1e8e9"/>
<rect x="691.25" y="127.06" width="6.95" height="6.95" fill="#f1e8e9"/>
<rect x="698.2" y="127.06" width="6.95" height="6.95" fill="#efdadb"/>
<rect x="705.14" y="127.06" width="6.95" height="6.95" fill="#f2ebeb"/>
<rect x="712.09" y="127.06" width="6.95" height="6.95" fill="#f2ebeb"/>
<rect x="719.04" y="127.06" width="6.95" height="6.95" fill="#f0e0e1"/>
<rect x="725.99" y="127.06" width="6.95" height="6.95" fill="#efd4d6"/>
<rect x="732.93" y="127.06" width="6.95" height="6.95" fill="#f0e0e1"/>
<rect x="739.88" y="127.06" width="6.95" height="6.95" fill="#efdadb"/>
<rect x="746.83" y="127.06" width="6.95" height="6.95" fill="#f0ddde"/>
<rect x="753.77" y="127.06" width="6.95" height="6.95" fill="#f0e0e1"/>
<rect x="760.72" y="127.06" width="6.95" height="6.95" fill="#efdadb"/>
<rect x="767.67" y="127.06" width="6.95" height="6.95" fill="#f2ebeb"/>
<rect x="774.61" y="127.06" width="6.95" height="6.95" fill="#f2eded"/>
<rect x="781.56" y="127.06" width="6.95" height="6.95" fill="#f2efef"/>
<rect x="788.51" y="127.06" width="6.95" height="6.95" fill="#f2efef"/>
<rect x="795.46" y="127.06" width="6.95" height="6.95" fill="#f2efef"/>
<rect x="802.4" y="127.06" width="6.95" height="6.95" fill="#f2eded"/>
<rect x="691.25" y="134.01" width="6.95" height="6.95" fill="#f2efef"/>
<rect x="698.2" y="134.01" width="6.95" height="6.95" fill="#f1e5e6"/>
<rect x="705.14" y="134.01" width="6.95" height="6.95" fill="#f2efef"/>
<rect x="712.09" y="134.01" width="6.95" height="6.95" fill="#efdadb"/>
<rect x="719.04" y="134.01" width="6.95" height="6.95" fill="#f0e0e1"/>
<rect x="725.99" y="134.01" width="6.95" height="6.95" fill="#f1e4e5"/>
<rect x="732.93" y="134.01" width="6.95" height="6.95" fill="#f1e5e6"/>
<rect x="739.88" y="134.01" width="6.95" height="6.95" fill="#f0e0e1"/>
<rect x="746.83" y="134.01" width="6.95" height="6.95" fill="#f1e4e5"/>
<rect x="753.77" y="134.01" width="6.95" height="6.95" fill="#f1e5e6"/>
<rect x="760.72" y="134.01" width="6.95" height="6.95" fill="#f1e5e6"/>
<rect x="767.67" y="134.01" width="6.95" height="6.95" fill="#f2eded"/>
<rect x="774.61" y="134.01" width="6.95" height="6.95" fill="#f2ebeb"/>
<rect x="781.56" y="134.01" width="6.95" height="6.95" fill="#f2efef"/>
<rect x="788.51" y="134.01" width="6.95" height="6.95" fill="#f2f1f1"/>
<rect x="795.46" y="134.01" width="6.95" height="6.95" fill="#f2efef"/>
<rect x="802.4" y="134.01" width="6.95" height="6.95" fill="#f2eded"/>
<rect x="691.25" y="140.96" width="6.95" height="6.95" fill="#f2ebeb"/>
<rect x="698.2" y="140.96" width="6.95" height="6.95" fill="#f0e0e1"/>
<rect x="705.14" y="140.96" width="6.95" height="6.95" fill="#f2eded"/>
<rect x="712.09" y="140.96" width="6.95" height="6.95" fill="#f0e1e2"/>
<rect x="719.04" y="140.96" width="6.95" height="6.95" fill="#f0e1e2"/>
<rect x="725.99" y="140.96" width="6.95" height="6.95" fill="#f2efef"/>
<rect x="732.93" y="140.96" width="6.95" height="6.95" fill="#f2eded"/>
<rect x="739.88" y="140.96" width="6.95" height="6.95" fill="#f2ebeb"/>
<rect x="746.83" y="140.96" width="6.95" height="6.95" fill="#f2eded"/>
<rect x="753.77" y="140.96" width="6.95" height="6.95" fill="#f2eded"/>
<rect x="760.72" y="140.96" width="6.95" height="6.95" fill="#f2ebeb"/>
<rect x="767.67" y="140.96" width="6.95" height="6.95" fill="#f2eded"/>
<rect x="774.61" y="140.96" width="6.95" height="6.95" fill="#f2efef"/>
<rect x="781.56" y="140.96" width="6.95" height="6.95" fill="#f2efef"/>
<rect x="788.51" y="140.96" width="6.95" height="6.95" fill="#f2efef"/>
<rect x="795.46" y="140.96" width="6.95" height="6.95" fill="#f2f1f1"/>
<rect x="802.4" y="140.96" width="6.95" height="6.95" fill="#f1e5e6"/>
<rect x="691.25" y="147.9" width="6.95" height="6.95" fill="#f1e5e6"/>
<rect x="698.2" y="147.9" width="6.95" height="6.95" fill="#f2ebeb"/>
<rect x="705.14" y="147.9" width="6.95" height="6.95" fill="#f2eded"/>
<rect x="712.09" y="147.9" width="6.95" height="6.95" fill="#efd4d6"/>
<rect x="719.04" y="147.9" width="6.95" height="6.95" fill="#efdadb"/>
<rect x="725.99" y="147.9" width="6.95" height="6.95" fill="#f1e4e5"/>
<rect x="732.93" y="147.9" width="6.95" height="6.95" fill="#f1e8e9"/>
<rect x="739.88" y="147.9" width="6.95" height="6.95" fill="#f1e5e6"/>
<rect x="746.83" y="147.9" width="6.95" height="6.95" fill="#f2ebeb"/>
<rect x="753.77" y="147.9" width="6.95" height="6.95" fill="#f2ebeb"/>
<rect x="760.72" y="147.9" width="6.95" height="6.95" fill="#eecdcf"/>
<rect x="767.67" y="147.9" width="6.95" height="6.95" fill="#f2eded"/>
<rect x="774.61" y="147.9" width="6.95" height="6.95" fill="#f2ebeb"/>
<rect x="781.56" y="147.9" width="6.95" height="6.95" fill="#f2eded"/>
<rect x="788.51" y="147.9" width="6.95" height="6.95" fill="#f2ebeb"/>
<rect x="795.46" y="147.9" width="6.95" height="6.95" fill="#f1e5e6"/>
<rect x="802.4" y="147.9" width="6.95" height="6.95" fill="#f2f1f1"/>
<rect x="691.25" y="36.75" width="118.1" height="118.1" fill="none" stroke="#262626" stroke-width="2.5"/>
</g>
<g>
<rect x="28.25" y="162.5" width="13.12" height="13.12" fill="#f2f1f1"/>
<rect x="41.37" y="162.5" width="13.12" height="13.12" fill="#eed0d2"/>
<rect x="54.49" y="162.5" width="13.12" height="13.12" fill="#efd6d7"/>
<rect x="67.62" y="162.5" width="13.12" height="13.12" fill="#efdbdd"/>
<rect x="80.74" y="162.5" width="13.12" height="13.12" fill="#eed3d5"/>
<rect x="93.86" y="162.5" width="13.12" height="13.12" fill="#f0e0e1"/>
<rect x="106.98" y="162.5" width="13.12" height="13.12" fill="#f0ddde"/>
<rect x="120.11" y="162.5" width="13.12" height="13.12" fill="#f1e7e7"/>
<rect x="133.23" y="162.5" width="13.12" height="13.12" fill="#f2eded"/>
<rect x="28.25" y="175.62" width="13.12" height="13.12" fill="#eecdcf"/>
<rect x="41.37" y="175.62" width="13.12" height="13.12" fill="#f2f1f1"/>
<rect x="54.49" y="175.62" width="13.12" height="13.12" fill="#efd4d6"/>
<rect x="67.62" y="175.62" width="13.12" height="13.12" fill="#f0e1e2"/>
<rect x="80.74" y="175.62" width="13.12" height="13.12" fill="#efdadb"/>
<rect x="93.86" y="175.62" width="13.12" height="13.12" fill="#f0e1e2"/>
<rect x="106.98" y="175.62" width="13.12" height="13.12" fill="#efdbdd"/>
<rect x="120.11" y="175.62" width="13.12" height="13.12" fill="#f1e8e9"/>
<rect x="133.23" y="175.62" width="13.12" height="13.12" fill="#f1eaea"/>
<rect x="28.25" y="188.74" width="13.12" height="13.12" fill="#efd6d7"/>
<rect x="41.37" y="188.74" width="13.12" height="13.12" fill="#efd9da"/>
<rect x="54.49" y="188.74" width="13.12" height="13.12" fill="#f2f1f1"/>
<rect x="67.62" y="188.74" width="13.12" height="13.12" fill="#efd6d7"/>
<rect x="80.74" y="188.74" width="13.12" height="13.12" fill="#eed3d5"/>
<rect x="93.86" y="188.74" width="13.12" height="13.12" fill="#efd4d6"/>
<rect x="106.98" y="188.74" width="13.12" height="13.12" fill="#eed3d5"/>
<rect x="120.11" y="188.74" width="13.12" height="13.12" fill="#f2efef"/>
<rect x="133.23" y="188.74" width="13.12" height="13.12" fill="#f0e3e3"/>
<rect x="28.25" y="201.87" width="13.12" height="13.12" fill="#efdbdd"/>
<rect x="41.37" y="201.87" width="13.12" height="13.12" fill="#f0e1e2"/>
<rect x="54.49" y="201.87" width="13.12" height="13.12" fill="#efdadb"/>
<rect x="67.62" y="201.87" width="13.12" height="13.12" fill="#f2f1f1"/>
<rect x="80.74" y="201.87" width="13.12" height="13.12" fill="#eecdcf"/>
<rect x="93.86" y="201.87" width="13.12" height="13.12" fill="#efd6d7"/>
<rect x="106.98" y="201.87" width="13.12" height="13.12" fill="#efdadb"/>
<rect x="120.11" y="201.87" width="13.12" height="13.12" fill="#f2eeee"/>
<rect x="133.23" y="201.87" width="13.12" height="13.12" fill="#f1eaea"/>
<rect x="28.25" y="214.99" width="13.12" height="13.12" fill="#efd4d6"/>
<rect x="41.37" y="214.99" width="13.12" height="13.12" fill="#efdadb"/>
<rect x="54.49" y="214.99" width="13.12" height="13.12" fill="#efd4d6"/>
<rect x="67.62" y="214.99" width="13.12" height="13.12" fill="#eecfd1"/>
<rect x="80.74" y="214.99" width="13.12" height="13.12" fill="#f2f1f1"/>
<rect x="93.86" y="214.99" width="13.12" height="13.12" fill="#efd4d6"/>
<rect x="106.98" y="214.99" width="13.12" height="13.12" fill="#f0ddde"/>
<rect x="120.11" y="214.99" width="13.12" height="13.12" fill="#f1e8e9"/>
<rect x="133.23" y="214.99" width="13.12" height="13.12" fill="#f1eaea"/>
<rect x="28.25" y="228.11" width="13.12" height="13.12" fill="#f0e0e1"/>
<rect x="41.37" y="228.11" width="13.12" height="13.12" fill="#f0e3e3"/>
<rect x="54.49" y="228.11" width="13.12" height="13.12" fill="#efd6d7"/>
<rect x="67.62" y="228.11" width="13.12" height="13.12" fill="#efd6d7"/>
<rect x="80.74" y="228.11" width="13.12" height="13.12" fill="#eed3d5"/>
<rect x="93.86" y="228.11" width="13.12" height="13.12" fill="#f2f1f1"/>
<rect x="106.98" y="228.11" width="13.12" height="13.12" fill="#efd9da"/>
<rect x="120.11" y="228.11" width="13.12" height="13.12" fill="#f2eeee"/>
<rect x="133.23" y="228.11" width="13.12" height="13.12" fill="#f2eeee"/>
<rect x="28.25" y="241.23" width="13.12" height="13.12" fill="#efdbdd"/>
<rect x="41.37" y="241.23" width="13.12" height="13.12" fill="#f0ddde"/>
<rect x="54.49" y="241.23" width="13.12" height="13.12" fill="#eed3d5"/>
<rect x="67.62" y="241.23" width="13.12" height="13.12" fill="#efd9da"/>
<rect x="80.74" y="241.23" width="13.12" height="13.12" fill="#efdbdd"/>
<rect x="93.86" y="241.23" width="13.12" height="13.12" fill="#efd9da"/>
<rect x="106.98" y="241.23" width="13.12" height="13.12" fill="#f2f1f1"/>
<rect x="120.11" y="241.23" width="13.12" height="13.12" fill="#f1e8e9"/>
<rect x="133.23" y="241.23" width="13.12" height="13.12" fill="#efd9da"/>
<rect x="28.25" y="254.36" width="13.12" height="13.12" fill="#f1e7e7"/>
<rect x="41.37" y="254.36" width="13.12" height="13.12" fill="#f1eaea"/>
<rect x="54.49" y="254.36" width="13.12" height="13.12" fill="#f2efef"/>
<rect x="67.62" y="254.36" width="13.12" height="13.12" fill="#f2eeee"/>
<rect x="80.74" y="254.36" width="13.12" height="13.12" fill="#f1eaea"/>
<rect x="93.86" y="254.36" width="13.12" height="13.12" fill="#f2eded"/>
<rect x="106.98" y="254.36" width="13.12" height="13.12" fill="#f1eaea"/>
<rect x="120.11" y="254.36" width="13.12" height="13.12" fill="#f2f1f1"/>
<rect x="133.23" y="254.36" width="13.12" height="13.12" fill="#f1e5e6"/>
<rect x="28.25" y="267.48" width="13.12" height="13.12" fill="#f2eeee"/>
<rect x="41.37" y="267.48" width="13.12" height="13.12" fill="#f1eaea"/>
<rect x="54.49" y="267.48" width="13.12" height="13.12" fill="#f0e3e3"/>
<rect x="67.62" y="267.48" width="13.12" height="13.12" fill="#f1eaea"/>
<rect x="80.74" y="267.48" width="13.12" height="13.12" fill="#f1e8e9"/>
<rect x="93.86" y="267.48" width="13.12" height="13.12" fill="#f2eeee"/>
<rect x="106.98" y="267.48" width="13.12" height="13.12" fill="#efdadb"/>
<rect x="120.11" y="267.48" width="13.12" height="13.12" fill="#f1e7e7"/>
<rect x="133.23" y="267.48" width="13.12" height="13.12" fill="#f2f1f1"/>
<rect x="28.25" y="162.5" width="118.1" height="118.1" fill="none" stroke="#262626" stroke-width="2.5"/>
</g>
<g>
<rect x="160.85" y="162.5" width="7.87" height="7.87" fill="#f2f1f1"/>
<rect x="168.72" y="162.5" width="7.87" height="7.87" fill="#eecdcf"/>
<rect x="176.6" y="162.5" width="7.87" height="7.87" fill="#f2efef"/>
<rect x="184.47" y="162.5" width="7.87" height="7.87" fill="#f2efef"/>
<rect x="192.34" y="162.5" width="7.87" height="7.87" fill="#f1e7e7"/>
<rect x="200.22" y="162.5" width="7.87" height="7.87" fill="#f1e5e6"/>
<rect x="208.09" y="162.5" width="7.87" height="7.87" fill="#f2eded"/>
<rect x="215.96" y="162.5" width="7.87" height="7.87" fill="#f2efef"/>
<rect x="223.84" y="162.5" width="7.87" height="7.87" fill="#e58c93"/>
<rect x="231.71" y="162.5" width="7.87" height="7.87" fill="#f2efef"/>
<rect x="239.58" y="162.5" width="7.87" height="7.87" fill="#eed3d5"/>
<rect x="247.46" y="162.5" width="7.87" height="7.87" fill="#f2eeee"/>
<rect x="255.33" y="162.5" width="7.87" height="7.87" fill="#f2eded"/>
<rect x="263.2" y="162.5" width="7.87" height="7.87" fill="#f2eeee"/>
<rect x="271.08" y="162.5" width="7.87" height="7.87" fill="#f1e8e9"/>
<rect x="160.85" y="170.37" width="7.87" height="7.87" fill="#eecdcf"/>
<rect x="168.72" y="170.37" width="7.87" height="7.87" fill="#f2f1f1"/>
<rect x="176.6" y="170.37" width="7.87" height="7.87" fill="#e79a9f"/>
<rect x="184.47" y="170.37" width="7.87" height="7.87" fill="#efdbdd"/>
<rect x="192.34" y="170.37" width="7.87" height="7.87" fill="#f2eeee"/>
<rect x="200.22" y="170.37" width="7.87" height="7.87" fill="#f1e5e6"/>
<rect x="208.09" y="170.37" width="7.87" height="7.87" fill="#f1e7e7"/>
<rect x="215.96" y="170.37" width="7.87" height="7.87" fill="#de5660"/>
<rect x="223.84" y="170.37" width="7.87" height="7.87" fill="#efdbdd"/>
<rect x="231.71" y="170.37" width="7.87" height="7.87" fill="#edc9cb"/>
<rect x="239.58" y="170.37" width="7.87" height="7.87" fill="#ecc0c3"/>
<rect x="247.46" y="170.37" width="7.87" height="7.87" fill="#f1e7e7"/>
<rect x="255.33" y="170.37" width="7.87" height="7.87" fill="#f2eded"/>
<rect x="263.2" y="170.37" width="7.87" height="7.87" fill="#f2efef"/>
<rect x="271.08" y="170.37" width="7.87" height="7.87" fill="#eecdcf"/>
<rect x="160.85" y="178.25" width="7.87" height="7.87" fill="#f2eeee"/>
<rect x="168.72" y="178.25" width="7.87" height="7.87" fill="#e79a9f"/>
<rect x="176.6" y="178.25" width="7.87" height="7.87" fill="#f2f1f1"/>
<rect x="184.47" y="178.25" width="7.87" height="7.87" fill="#f2efef"/>
<rect x="192.34" y="178.25" width="7.87" height="7.87" fill="#efd9da"/>
<rect x="200.22" y="178.25" width="7.87" height="7.87" fill="#f2eeee"/>
<rect x="208.09" y="178.25" width="7.87" height="7.87" fill="#f2eeee"/>
<rect x="215.96" y="178.25" width="7.87" height="7.87" fill="#efdbdd"/>
<rect x="223.84" y="178.25" width="7.87" height="7.87" fill="#f1e8e9"/>
<rect x="231.71" y="178.25" width="7.87" height="7.87" fill="#f1e7e7"/>
<rect x="239.58" y="178.25" width="7.87" height="7.87" fill="#efdbdd"/>
<rect x="247.46" y="178.25" width="7.87" height="7.87" fill="#f2eeee"/>
<rect x="255.33" y="178.25" width="7.87" height="7.87" fill="#f2eeee"/>
<rect x="263.2" y="178.25" width="7.87" height="7.87" fill="#edc9cb"/>
<rect x="271.08" y="178.25" width="7.87" height="7.87" fill="#f1e7e7"/>
<rect x="160.85" y="186.12" width="7.87" height="7.87" fill="#f2eded"/>
<rect x="168.72" y="186.12" width="7.87" height="7.87" fill="#efdbdd"/>
<rect x="176.6" y="186.12" width="7.87" height="7.87" fill="#f2efef"/>
<rect x="184.47" y="186.12" width="7.87" height="7.87" fill="#f2f1f1"/>
<rect x="192.34" y="186.12" width="7.87" height="7.87" fill="#f2f1f1"/>
<rect x="200.22" y="186.12" width="7.87" height="7.87" fill="#f2eeee"/>
<rect x="208.09" y="186.12" width="7.87" height="7.87" fill="#efd9da"/>
<rect x="215.96" y="186.12" width="7.87" height="7.87" fill="#f0e3e3"/>
<rect x="223.84" y="186.12" width="7.87" height="7.87" fill="#f2efef"/>
<rect x="231.71" y="186.12" width="7.87" height="7.87" fill="#f1eaea"/>
<rect x="239.58" y="186.12" width="7.87" height="7.87" fill="#f2efef"/>
<rect x="247.46" y="186.12" width="7.87" height="7.87" fill="#f2efef"/>
<rect x="255.33" y="186.12" width="7.87" height="7.87" fill="#f2eeee"/>
<rect x="263.2" y="186.12" width="7.87" height="7.87" fill="#f1eaea"/>
<rect x="271.08" y="186.12" width="7.87" height="7.87" fill="#f1eaea"/>
<rect x="160.85" y="193.99" width="7.87" height="7.87" fill="#f1e7e7"/>
<rect x="168.72" y="193.99" width="7.87" height="7.87" fill="#f2eeee"/>
<rect x="176.6" y="193.99" width="7.87" height="7.87" fill="#efd9da"/>
<rect x="184.47" y="193.99" width="7.87" height="7.87" fill="#f2f1f1"/>
<rect x="192.34" y="193.99" width="7.87" height="7.87" fill="#f2f1f1"/>
<rect x="200.22" y="193.99" width="7.87" height="7.87" fill="#f1eaea"/>
<rect x="208.09" y="193.99" width="7.87" height="7.87" fill="#f2eeee"/>
<rect x="215.96" y="193.99" width="7.87" height="7.87" fill="#f1e8e9"/>
<rect x="223.84" y="193.99" width="7.87" height="7.87" fill="#f1e7e7"/>
<rect x="231.71" y="193.99" width="7.87" height="7.87" fill="#f2f1f1"/>
<rect x="239.58" y="193.99" width="7.87" height="7.87" fill="#f0e3e3"/>
<rect x="247.46" y="193.99" width="7.87" height="7.87" fill="#f2efef"/>
<rect x="255.33" y="193.99" width="7.87" height="7.87" fill="#f1e8e9"/>
<rect x="263.2" y="193.99" width="7.87" height="7.87" fill="#f2efef"/>
<rect x="271.08" y="193.99" width="7.87" height="7.87" fill="#edc7ca"/>
<rect x="160.85" y="201.87" width="7.87" height="7.87" fill="#f1e5e6"/>
<rect x="168.72" y="201.87" width="7.87" height="7.87" fill="#f1e5e6"/>
<rect x="176.6" y="201.87" width="7.87" height="7.87" fill="#f2eeee"/>
<rect x="184.47" y="201.87" width="7.87" height="7.87" fill="#f2eeee"/>
<rect x="192.34" y="201.87" width="7.87" height="7.87" fill="#f1eaea"/>
<rect x="200.22" y="201.87" width="7.87" height="7.87" fill="#f2f1f1"/>
<rect x="208.09" y="201.87" width="7.87" height="7.87" fill="#f2efef"/>
<rect x="215.96" y="201.87" width="7.87" height="7.87" fill="#f2eeee"/>
<rect x="223.84" y="201.87" width="7.87" height="7.87" fill="#efd6d7"/>
<rect x="231.71" y="201.87" width="7.87" height="7.87" fill="#f1e7e7"/>
<rect x="239.58" y="201.87" width="7.87" height="7.87" fill="#f1e7e7"/>
<rect x="247.46" y="201.87" width="7.87" height="7.87" fill="#f2eeee"/>
<rect x="255.33" y="201.87" width="7.87" height="7.87" fill="#f2eeee"/>
<rect x="263.2" y="201.87" width="7.87" height="7.87" fill="#f1eaea"/>
<rect x="271.08" y="201.87" width="7.87" height="7.87" fill="#f2eded"/>
<rect x="160.85" y="209.74" width="7.87" height="7.87" fill="#f2eded"/>
<rect x="168.72" y="209.74" width="7.87" height="7.87" fill="#f1e7e7"/>
<rect x="176.6" y="209.74" width="7.87" height="7.87" fill="#f2eeee"/>
<rect x="184.47" y="209.74" width="7.87" height="7.87" fill="#efd9da"/>
<rect x="192.34" y="209.74" width="7.87" height="7.87" fill="#f2efef"/>
<rect x="200.22" y="209.74" width="7.87" height="7.87" fill="#f2efef"/>
<rect x="208.09" y="209.74" width="7.87" height="7.87" fill="#f2f1f1"/>
<rect x="215.96" y="209.74" width="7.87" height="7.87" fill="#f2f1f1"/>
<rect x="223.84" y="209.74" width="7.87" height="7.87" fill="#f2efef"/>
<rect x="231.71" y="209.74" width="7.87" height="7.87" fill="#f2efef"/>
<rect x="239.58" y="209.74" width="7.87" height="7.87" fill="#f2efef"/>
<rect x="247.46" y="209.74" width="7.87" height="7.87" fill="#f2efef"/>
<rect x="255.33" y="209.74" width="7.87" height="7.87" fill="#f2efef"/>
<rect x="263.2" y="209.74" width="7.87" height="7.87" fill="#f2efef"/>
<rect x="271.08" y="209.74" width="7.87" height="7.87" fill="#f1eaea"/>
<rect x="160.85" y="217.61" width="7.87" height="7.87" fill="#f2efef"/>
<rect x="168.72" y="217.61" width="7.87" height="7.87" fill="#de5660"/>
<rect x="176.6" y="217.61" width="7.87" height="7.87" fill="#f0e0e1"/>
<rect x="184.47" y="217.61" width="7.87" height="7.87" fill="#f1e7e7"/>
<rect x="192.34" y="217.61" width="7.87" height="7.87" fill="#f2eded"/>
<rect x="200.22" y="217.61" width="7.87" height="7.87" fill="#f2efef"/>
<rect x="208.09" y="217.61" width="7.87" height="7.87" fill="#f2f1f1"/>
<rect x="215.96" y="217.61" width="7.87" height="7.87" fill="#f2f1f1"/>
<rect x="223.84" y="217.61" width="7.87" height="7.87" fill="#f2efef"/>
<rect x="231.71" y="217.61" width="7.87" height="7.87" fill="#f2eeee"/>
<rect x="239.58" y="217.61" width="7.87" height="7.87" fill="#f2eded"/>
<rect x="247.46" y="217.61" width="7.87" height="7.87" fill="#f2eeee"/>
<rect x="255.33" y="217.61" width="7.87" height="7.87" fill="#f2efef"/>
<rect x="263.2" y="217.61" width="7.87" height="7.87" fill="#f1e7e7"/>
<rect x="271.08" y="217.61" width="7.87" height="7.87" fill="#f1e8e9"/>
<rect x="160.85" y="225.49" width="7.87" height="7.87" fill="#e58c93"/>
<rect x="168.72" y="225.49" width="7.87" height="7.87" fill="#efdbdd"/>
<rect x="176.6" y="225.49" width="7.87" height="7.87" fill="#f1e8e9"/>
<rect x="184.47" y="225.49" width="7.87" height="7.87" fill="#f2efef"/>
<rect x="192.34" y="225.49" width="7.87" height="7.87" fill="#f1e7e7"/>
<rect x="200.22" y="225.49" width="7.87" height="7.87" fill="#efd6d7"/>
<rect x="208.09" y="225.49" width="7.87" height="7.87" fill="#f2eeee"/>
<rect x="215.96" y="225.49" width="7.87" height="7.87" fill="#f2f1f1"/>
<rect x="223.84" y="225.49" width="7.87" height="7.87" fill="#f2f1f1"/>
<rect x="231.71" y="225.49" width="7.87" height="7.87" fill="#f2efef"/>
<rect x="239.58" y="225.49" width="7.87" height="7.87" fill="#efd6d7"/>
<rect x="247.46" y="225.49" width="7.87" height="7.87" fill="#f2eded"/>
<rect x="255.33" y="225.49" width="7.87" height="7.87" fill="#f2eded"/>
<rect x="263.2" y="225.49" width="7.87" height="7.87" fill="#f2efef"/>
<rect x="271.08" y="225.49" width="7.87" height="7.87" fill="#f0e3e3"/>
<rect x="160.85" y="233.36" width="7.87" height="7.87" fill="#f2efef"/>
<rect x="168.72" y="233.36" width="7.87" height="7.87" fill="#eecdcf"/>
<rect x="176.6" y="233.36" width="7.87" height="7.87" fill="#f1e7e7"/>
<rect x="184.47" y="233.36" width="7.87" height="7.87" fill="#f1eaea"/>
<rect x="192.34" y="233.36" width="7.87" height="7.87" fill="#f2f1f1"/>
<rect x="200.22" y="233.36" width="7.87" height="7.87" fill="#f1e7e7"/>
<rect x="208.09" y="233.36" width="7.87" height="7.87" fill="#efd6d7"/>
<rect x="215.96" y="233.36" width="7.87" height="7.87" fill="#f2eeee"/>
<rect x="223.84" y="233.36" width="7.87" height="7.87" fill="#f2efef"/>
<rect x="231.71" y="233.36" width="7.87" height="7.87" fill="#f2f1f1"/>
<rect x="239.58" y="233.36" width="7.87" height="7.87" fill="#f2efef"/>
<rect x="247.46" y="233.36" width="7.87" height="7.87" fill="#f2eded"/>
<rect x="255.33" y="233.36" width="7.87" height="7.87" fill="#f2eded"/>
<rect x="263.2" y="233.36" width="7.87" height="7.87" fill="#f1e8e9"/>
<rect x="271.08" y="233.36" width="7.87" height="7.87" fill="#f2efef"/>
<rect x="160.85" y="241.23" width="7.87" height="7.87" fill="#efd9da"/>
<rect x="168.72" y="241.23" width="7.87" height="7.87" fill="#ecc2c5"/>
<rect x="176.6" y="241.23" width="7.87" height="7.87" fill="#efdbdd"/>
<rect x="184.47" y="241.23" width="7.87" height="7.87" fill="#f2efef"/>
<rect x="192.34" y="241.23" width="7.87" height="7.87" fill="#f0e3e3"/>
<rect x="200.22" y="241.23" width="7.87" height="7.87" fill="#f1e5e6"/>
<rect x="208.09" y="241.23" width="7.87" height="7.87" fill="#f2efef"/>
<rect x="215.96" y="241.23" width="7.87" height="7.87" fill="#f2eeee"/>
<rect x="223.84" y="241.23" width="7.87" height="7.87" fill="#efdbdd"/>
<rect x="231.71" y="241.23" width="7.87" height="7.87" fill="#f2efef"/>
<rect x="239.58" y="241.23" width="7.87" height="7.87" fill="#f2f1f1"/>
<rect x="247.46" y="241.23" width="7.87" height="7.87" fill="#f1e7e7"/>
<rect x="255.33" y="241.23" width="7.87" height="7.87" fill="#f1e5e6"/>
<rect x="263.2" y="241.23" width="7.87" height="7.87" fill="#f1eaea"/>
<rect x="271.08" y="241.23" width="7.87" height="7.87" fill="#f1e5e6"/>
<rect x="160.85" y="249.11" width="7.87" height="7.87" fill="#f2efef"/>
<rect x="168.72" y="249.11" width="7.87" height="7.87" fill="#f1e8e9"/>
<rect x="176.6" y="249.11" width="7.87" height="7.87" fill="#f2eeee"/>
<rect x="184.47" y="249.11" width="7.87" height="7.87" fill="#f2efef"/>
<rect x="192.34" y="249.11" width="7.87" height="7.87" fill="#f2efef"/>
<rect x="200.22" y="249.11" width="7.87" height="7.87" fill="#f2efef"/>
<rect x="208.09" y="249.11" width="7.87" height="7.87" fill="#f2efef"/>
<rect x="215.96" y="249.11" width="7.87" height="7.87" fill="#f2efef"/>
<rect x="223.84" y="249.11" width="7.87" height="7.87" fill="#f2efef"/>
<rect x="231.71" y="249.11" width="7.87" height="7.87" fill="#f2eeee"/>
<rect x="239.58" y="249.11" width="7.87" height="7.87" fill="#f2eded"/>
<rect x="247.46" y="249.11" width="7.87" height="7.87" fill="#f2f1f1"/>
<rect x="255.33" y="249.11" width="7.87" height="7.87" fill="#f2efef"/>
<rect x="263.2" y="249.11" width="7.87" height="7.87" fill="#eecdcf"/>
<rect x="271.08" y="249.11" width="7.87" height="7.87" fill="#f2efef"/>
<rect x="160.85" y="256.98" width="7.87" height="7.87" fill="#f2eded"/>
<rect x="168.72" y="256.98" width="7.87" height="7.87" fill="#f2eded"/>
<rect x="176.6" y="256.98" width="7.87" height="7.87" fill="#f2eeee"/>
<rect x="184.47" y="256.98" width="7.87" height="7.87" fill="#f2eeee"/>
<rect x="192.34" y="256.98" width="7.87" height="7.87" fill="#f0e3e3"/>
<rect x="200.22" y="256.98" width="7.87" height="7.87" fill="#f1e8e9"/>
<rect x="208.09" y="256.98" width="7.87" height="7.87" fill="#f2efef"/>
<rect x="215.96" y="256.98" width="7.87" height="7.87" fill="#f2efef"/>
<rect x="223.84" y="256.98" width="7.87" height="7.87" fill="#f2efef"/>
<rect x="231.71" y="256.98" width="7.87" height="7.87" fill="#f2eeee"/>
<rect x="239.58" y="256.98" width="7.87" height="7.87" fill="#f2eded"/>
<rect x="247.46" y="256.98" width="7.87" height="7.87" fill="#f2eeee"/>
<rect x="255.33" y="256.98" width="7.87" height="7.87" fill="#f2f1f1"/>
<rect x="263.2" y="256.98" width="7.87" height="7.87" fill="#f2efef"/>
<rect x="271.08" y="256.98" width="7.87" height="7.87" fill="#f2eeee"/>
<rect x="160.85" y="264.85" width="7.87" height="7.87" fill="#f2eeee"/>
<rect x="168.72" y="264.85" width="7.87" height="7.87" fill="#f2efef"/>
<rect x="176.6" y="264.85" width="7.87" height="7.87" fill="#edc9cb"/>
<rect x="184.47" y="264.85" width="7.87" height="7.87" fill="#f1e8e9"/>
<rect x="192.34" y="264.85" width="7.87" height="7.87" fill="#f2efef"/>
<rect x="200.22" y="264.85" width="7.87" height="7.87" fill="#f1e8e9"/>
<rect x="208.09" y="264.85" width="7.87" height="7.87" fill="#f2eded"/>
<rect x="215.96" y="264.85" width="7.87" height="7.87" fill="#f1e8e9"/>
<rect x="223.84" y="264.85" width="7.87" height="7.87" fill="#f2eeee"/>
<rect x="231.71" y="264.85" width="7.87" height="7.87" fill="#f2eded"/>
<rect x="239.58" y="264.85" width="7.87" height="7.87" fill="#f1eaea"/>
<rect x="247.46" y="264.85" width="7.87" height="7.87" fill="#eecdcf"/>
<rect x="255.33" y="264.85" width="7.87" height="7.87" fill="#f2eded"/>
<rect x="263.2" y="264.85" width="7.87" height="7.87" fill="#f2f1f1"/>
<rect x="271.08" y="264.85" width="7.87" height="7.87" fill="#f0e0e1"/>
<rect x="160.85" y="272.73" width="7.87" height="7.87" fill="#f1e7e7"/>
<rect x="168.72" y="272.73" width="7.87" height="7.87" fill="#edc9cb"/>
<rect x="176.6" y="272.73" width="7.87" height="7.87" fill="#f1e7e7"/>
<rect x="184.47" y="272.73" width="7.87" height="7.87" fill="#f1e8e9"/>
<rect x="192.34" y="272.73" width="7.87" height="7.87" fill="#edc7ca"/>
<rect x="200.22" y="272.73" width="7.87" height="7.87" fill="#f2eded"/>
<rect x="208.09" y="272.73" width="7.87" height="7.87" fill="#f1eaea"/>
<rect x="215.96" y="272.73" width="7.87" height="7.87" fill="#f1eaea"/>
<rect x="223.84" y="272.73" width="7.87" height="7.87" fill="#f1e7e7"/>
<rect x="231.71" y="272.73" width="7.87" height="7.87" fill="#f2efef"/>
<rect x="239.58" y="272.73" width="7.87" height="7.87" fill="#f0e3e3"/>
<rect x="247.46" y="272.73" width="7.87" height="7.87" fill="#f2efef"/>
<rect x="255.33" y="272.73" width="7.87" height="7.87" fill="#f2eeee"/>
<rect x="263.2" y="272.73" width="7.87" height="7.87" fill="#f0e0e1"/>
<rect x="271.08" y="272.73" width="7.87" height="7.87" fill="#f2f1f1"/>
<rect x="160.85" y="162.5" width="118.1" height="118.1" fill="none" stroke="#262626" stroke-width="2.5"/>
</g>
<g>
<rect x="293.45" y="162.5" width="11.81" height="11.81" fill="#f2f1f1"/>
<rect x="305.26" y="162.5" width="11.81" height="11.81" fill="#f2f1f1"/>
<rect x="317.07" y="162.5" width="11.81" height="11.81" fill="#f2efef"/>
<rect x="328.88" y="162.5" width="11.81" height="11.81" fill="#efd4d6"/>
<rect x="340.69" y="162.5" width="11.81" height="11.81" fill="#f0e0e1"/>
<rect x="352.5" y="162.5" width="11.81" height="11.81" fill="#f1eaea"/>
<rect x="364.31" y="162.5" width="11.81" height="11.81" fill="#f1eaea"/>
<rect x="376.12" y="162.5" width="11.81" height="11.81" fill="#f2eeee"/>
<rect x="387.93" y="162.5" width="11.81" height="11.81" fill="#f2eeee"/>
<rect x="399.74" y="162.5" width="11.81" height="11.81" fill="#f2eded"/>
<rect x="293.45" y="174.31" width="11.81" height="11.81" fill="#f2f1f1"/>
<rect x="305.26" y="174.31" width="11.81" height="11.81" fill="#f2f1f1"/>
<rect x="317.07" y="174.31" width="11.81" height="11.81" fill="#f2f1f1"/>
<rect x="328.88" y="174.31" width="11.81" height="11.81" fill="#f1e8e9"/>
<rect x="340.69" y="174.31" width="11.81" height="11.81" fill="#f2eded"/>
<rect x="352.5" y="174.31" width="11.81" height="11.81" fill="#f0e0e1"/>
<rect x="364.31" y="174.31" width="11.81" height="11.81" fill="#f2eded"/>
<rect x="376.12" y="174.31" width="11.81" height="11.81" fill="#f2eeee"/>
<rect x="387.93" y="174.31" width="11.81" height="11.81" fill="#f2efef"/>
<rect x="399.74" y="174.31" width="11.81" height="11.81" fill="#f2efef"/>
<rect x="293.45" y="186.12" width="11.81" height="11.81" fill="#f2efef"/>
<rect x="305.26" y="186.12" width="11.81" height="11.81" fill="#f2f1f1"/>
<rect x="317.07" y="186.12" width="11.81" height="11.81" fill="#f2f1f1"/>
<rect x="328.88" y="186.12" width="11.81" height="11.81" fill="#f2eded"/>
<rect x="340.69" y="186.12" width="11.81" height="11.81" fill="#f2efef"/>
<rect x="352.5" y="186.12" width="11.81" height="11.81" fill="#f0e3e3"/>
<rect x="364.31" y="186.12" width="11.81" height="11.81" fill="#f2eeee"/>
<rect x="376.12" y="186.12" width="11.81" height="11.81" fill="#f2eeee"/>
<rect x="387.93" y="186.12" width="11.81" height="11.81" fill="#f2eded"/>
<rect x="399.74" y="186.12" width="11.81" height="11.81" fill="#f2efef"/>
<rect x="293.45" y="197.93" width="11.81" height="11.81" fill="#efd4d6"/>
<rect x="305.26" y="197.93" width="11.81" height="11.81" fill="#f1e7e7"/>
<rect x="317.07" y="197.93" width="11.81" height="11.81" fill="#f1eaea"/>
<rect x="328.88" y="197.93" width="11.81" height="11.81" fill="#f2f1f1"/>
<rect x="340.69" y="197.93" width="11.81" height="11.81" fill="#f0e1e2"/>
<rect x="352.5" y="197.93" width="11.81" height="11.81" fill="#f0ddde"/>
<rect x="364.31" y="197.93" width="11.81" height="11.81" fill="#f1e8e9"/>
<rect x="376.12" y="197.93" width="11.81" height="11.81" fill="#f1e5e6"/>
<rect x="387.93" y="197.93" width="11.81" height="11.81" fill="#f0e3e3"/>
<rect x="399.74" y="197.93" width="11.81" height="11.81" fill="#f1e8e9"/>
<rect x="293.45" y="209.74" width="11.81" height="11.81" fill="#f0e0e1"/>
<rect x="305.26" y="209.74" width="11.81" height="11.81" fill="#f2eded"/>
<rect x="317.07" y="209.74" width="11.81" height="11.81" fill="#f2efef"/>
<rect x="328.88" y="209.74" width="11.81" height="11.81" fill="#f0e1e2"/>
<rect x="340.69" y="209.74" width="11.81" height="11.81" fill="#f2f1f1"/>
<rect x="352.5" y="209.74" width="11.81" height="11.81" fill="#f2f1f1"/>
<rect x="364.31" y="209.74" width="11.81" height="11.81" fill="#f2f1f1"/>
<rect x="376.12" y="209.74" width="11.81" height="11.81" fill="#f2f1f1"/>
<rect x="387.93" y="209.74" width="11.81" height="11.81" fill="#f2f1f1"/>
<rect x="399.74" y="209.74" width="11.81" height="11.81" fill="#f2f1f1"/>
<rect x="293.45" y="221.55" width="11.81" height="11.81" fill="#f2eded"/>
<rect x="305.26" y="221.55" width="11.81" height="11.81" fill="#f0e1e2"/>
<rect x="317.07" y="221.55" width="11.81" height="11.81" fill="#f0e3e3"/>
<rect x="328.88" y="221.55" width="11.81" height="11.81" fill="#f0ddde"/>
<rect x="340.69" y="221.55" width="11.81" height="11.81" fill="#f2f1f1"/>
<rect x="352.5" y="221.55" width="11.81" height="11.81" fill="#f2f1f1"/>
<rect x="364.31" y="221.55" width="11.81" height="11.81" fill="#f1eaea"/>
<rect x="376.12" y="221.55" width="11.81" height="11.81" fill="#f1eaea"/>
<rect x="387.93" y="221.55" width="11.81" height="11.81" fill="#f0e0e1"/>
<rect x="399.74" y="221.55" width="11.81" height="11.81" fill="#f2eded"/>
<rect x="293.45" y="233.36" width="11.81" height="11.81" fill="#f1eaea"/>
<rect x="305.26" y="233.36" width="11.81" height="11.81" fill="#f2eeee"/>
<rect x="317.07" y="233.36" width="11.81" height="11.81" fill="#f2efef"/>
<rect x="328.88" y="233.36" width="11.81" height="11.81" fill="#f1eaea"/>
<rect x="340.69" y="233.36" width="11.81" height="11.81" fill="#f2f1f1"/>
<rect x="352.5" y="233.36" width="11.81" height="11.81" fill="#f2efef"/>
<rect x="364.31" y="233.36" width="11.81" height="11.81" fill="#f2f1f1"/>
<rect x="376.12" y="233.36" width="11.81" height="11.81" fill="#efdadb"/>
<rect x="387.93" y="233.36" width="11.81" height="11.81" fill="#f2efef"/>
<rect x="399.74" y="233.36" width="11.81" height="11.81" fill="#f1e7e7"/>
<rect x="293.45" y="245.17" width="11.81" height="11.81" fill="#f2eeee"/>
<rect x="305.26" y="245.17" width="11.81" height="11.81" fill="#f2efef"/>
<rect x="317.07" y="245.17" width="11.81" height="11.81" fill="#f2efef"/>
<rect x="328.88" y="245.17" width="11.81" height="11.81" fill="#f1e5e6"/>
<rect x="340.69" y="245.17" width="11.81" height="11.81" fill="#f2f1f1"/>
<rect x="352.5" y="245.17" width="11.81" height="11.81" fill="#f2efef"/>
<rect x="364.31" y="245.17" width="11.81" height="11.81" fill="#f0ddde"/>
<rect x="376.12" y="245.17" width="11.81" height="11.81" fill="#f2f1f1"/>
<rect x="387.93" y="245.17" width="11.81" height="11.81" fill="#f2eeee"/>
<rect x="399.74" y="245.17" width="11.81" height="11.81" fill="#f2eded"/>
<rect x="293.45" y="256.98" width="11.81" height="11.81" fill="#f2eeee"/>
<rect x="305.26" y="256.98" width="11.81" height="11.81" fill="#f2f1f1"/>
<rect x="317.07" y="256.98" width="11.81" height="11.81" fill="#f2eded"/>
<rect x="328.88" y="256.98" width="11.81" height="11.81" fill="#f0e1e2"/>
<rect x="340.69" y="256.98" width="11.81" height="11.81" fill="#f2eded"/>
<rect x="352.5" y="256.98" width="11.81" height="11.81" fill="#f2eded"/>
<rect x="364.31" y="256.98" width="11.81" height="11.81" fill="#f2eeee"/>
<rect x="376.12" y="256.98" width="11.81" height="11.81" fill="#f2eeee"/>
<rect x="387.93" y="256.98" width="11.81" height="11.81" fill="#f2f1f1"/>
<rect x="399.74" y="256.98" width="11.81" height="11.81" fill="#f0e3e3"/>
<rect x="293.45" y="268.79" width="11.81" height="11.81" fill="#f2eded"/>
<rect x="305.26" y="268.79" width="11.81" height="11.81" fill="#f2f1f1"/>
<rect x="317.07" y="268.79" width="11.81" height="11.81" fill="#f2f1f1"/>
<rect x="328.88" y="268.79" width="11.81" height="11.81" fill="#f1e8e9"/>
<rect x="340.69" y="268.79" width="11.81" height="11.81" fill="#f2f1f1"/>
<rect x="352.5" y="268.79" width="11.81" height="11.81" fill="#f2f1f1"/>
<rect x="364.31" y="268.79" width="11.81" height="11.81" fill="#f1e7e7"/>
<rect x="376.12" y="268.79" width="11.81" height="11.81" fill="#f2eded"/>
<rect x="387.93" y="268.79" width="11.81" height="11.81" fill="#f0e3e3"/>
<rect x="399.74" y="268.79" width="11.81" height="11.81" fill="#f2f1f1"/>
<rect x="293.45" y="162.5" width="118.1" height="118.1" fill="none" stroke="#262626" stroke-width="2.5"/>
</g>
<g>
<rect x="426.05" y="162.5" width="13.12" height="13.12" fill="#f2f1f1"/>
<rect x="439.17" y="162.5" width="13.12" height="13.12" fill="#efdadb"/>
<rect x="452.29" y="162.5" width="13.12" height="13.12" fill="#e8a5aa"/>
<rect x="465.42" y="162.5" width="13.12" height="13.12" fill="#efd4d6"/>
<rect x="478.54" y="162.5" width="13.12" height="13.12" fill="#f2efef"/>
<rect x="491.66" y="162.5" width="13.12" height="13.12" fill="#efd4d6"/>
<rect x="504.78" y="162.5" width="13.12" height="13.12" fill="#efd9da"/>
<rect x="517.91" y="162.5" width="13.12" height="13.12" fill="#f0ddde"/>
<rect x="531.03" y="162.5" width="13.12" height="13.12" fill="#efdbdd"/>
<rect x="426.05" y="175.62" width="13.12" height="13.12" fill="#efdadb"/>
<rect x="439.17" y="175.62" width="13.12" height="13.12" fill="#f2f1f1"/>
<rect x="452.29" y="175.62" width="13.12" height="13.12" fill="#f0e0e1"/>
<rect x="465.42" y="175.62" width="13.12" height="13.12" fill="#f2efef"/>
<rect x="478.54" y="175.62" width="13.12" height="13.12" fill="#f2eded"/>
<rect x="491.66" y="175.62" width="13.12" height="13.12" fill="#f2eeee"/>
<rect x="504.78" y="175.62" width="13.12" height="13.12" fill="#f2eeee"/>
<rect x="517.91" y="175.62" width="13.12" height="13.12" fill="#f2eded"/>
<rect x="531.03" y="175.62" width="13.12" height="13.12" fill="#f0e1e2"/>
<rect x="426.05" y="188.74" width="13.12" height="13.12" fill="#e8a5aa"/>
<rect x="439.17" y="188.74" width="13.12" height="13.12" fill="#f0e0e1"/>
<rect x="452.29" y="188.74" width="13.12" height="13.12" fill="#f2f1f1"/>
<rect x="465.42" y="188.74" width="13.12" height="13.12" fill="#da3b46"/>
<rect x="478.54" y="188.74" width="13.12" height="13.12" fill="#f2f1f1"/>
<rect x="491.66" y="188.74" width="13.12" height="13.12" fill="#eed3d5"/>
<rect x="504.78" y="188.74" width="13.12" height="13.12" fill="#efd6d7"/>
<rect x="517.91" y="188.74" width="13.12" height="13.12" fill="#edc9cb"/>
<rect x="531.03" y="188.74" width="13.12" height="13.12" fill="#eecdcf"/>
<rect x="426.05" y="201.87" width="13.12" height="13.12" fill="#efd4d6"/>
<rect x="439.17" y="201.87" width="13.12" height="13.12" fill="#f2efef"/>
<rect x="452.29" y="201.87" width="13.12" height="13.12" fill="#da3b46"/>
<rect x="465.42" y="201.87" width="13.12" height="13.12" fill="#f2f1f1"/>
<rect x="478.54" y="201.87" width="13.12" height="13.12" fill="#f1e7e7"/>
<rect x="491.66" y="201.87" width="13.12" height="13.12" fill="#ebb8bb"/>
<rect x="504.78" y="201.87" width="13.12" height="13.12" fill="#f2eeee"/>
<rect x="517.91" y="201.87" width="13.12" height="13.12" fill="#f2efef"/>
<rect x="531.03" y="201.87" width="13.12" height="13.12" fill="#f2eded"/>
<rect x="426.05" y="214.99" width="13.12" height="13.12" fill="#f2efef"/>
<rect x="439.17" y="214.99" width="13.12" height="13.12" fill="#f2eded"/>
<rect x="452.29" y="214.99" width="13.12" height="13.12" fill="#f2f1f1"/>
<rect x="465.42" y="214.99" width="13.12" height="13.12" fill="#f1e7e7"/>
<rect x="478.54" y="214.99" width="13.12" height="13.12" fill="#f2f1f1"/>
<rect x="491.66" y="214.99" width="13.12" height="13.12" fill="#ecbfc2"/>
<rect x="504.78" y="214.99" width="13.12" height="13.12" fill="#f2eded"/>
<rect x="517.91" y="214.99" width="13.12" height="13.12" fill="#f2eded"/>
<rect x="531.03" y="214.99" width="13.12" height="13.12" fill="#f2eeee"/>
<rect x="426.05" y="228.11" width="13.12" height="13.12" fill="#efd4d6"/>
<rect x="439.17" y="228.11" width="13.12" height="13.12" fill="#f2eeee"/>
<rect x="452.29" y="228.11" width="13.12" height="13.12" fill="#efd4d6"/>
<rect x="465.42" y="228.11" width="13.12" height="13.12" fill="#ebb8bb"/>
<rect x="478.54" y="228.11" width="13.12" height="13.12" fill="#ecbfc2"/>
<rect x="491.66" y="228.11" width="13.12" height="13.12" fill="#f2f1f1"/>
<rect x="504.78" y="228.11" width="13.12" height="13.12" fill="#e69298"/>
<rect x="517.91" y="228.11" width="13.12" height="13.12" fill="#e6959b"/>
<rect x="531.03" y="228.11" width="13.12" height="13.12" fill="#e27981"/>
<rect x="426.05" y="241.23" width="13.12" height="13.12" fill="#efdadb"/>
<rect x="439.17" y="241.23" width="13.12" height="13.12" fill="#f2eeee"/>
<rect x="452.29" y="241.23" width="13.12" height="13.12" fill="#efd9da"/>
<rect x="465.42" y="241.23" width="13.12" height="13.12" fill="#f2eeee"/>
<rect x="478.54" y="241.23" width="13.12" height="13.12" fill="#f2eded"/>
<rect x="491.66" y="241.23" width="13.12" height="13.12" fill="#e69298"/>
<rect x="504.78" y="241.23" width="13.12" height="13.12" fill="#f2f1f1"/>
<rect x="517.91" y="241.23" width="13.12" height="13.12" fill="#f2eded"/>
<rect x="531.03" y="241.23" width="13.12" height="13.12" fill="#f1e8e9"/>
<rect x="426.05" y="254.36" width="13.12" height="13.12" fill="#f0ddde"/>
<rect x="439.17" y="254.36" width="13.12" height="13.12" fill="#f2eeee"/>
<rect x="452.29" y="254.36" width="13.12" height="13.12" fill="#edc9cb"/>
<rect x="465.42" y="254.36" width="13.12" height="13.12" fill="#f2efef"/>
<rect x="478.54" y="254.36" width="13.12" height="13.12" fill="#f2eded"/>
<rect x="491.66" y="254.36" width="13.12" height="13.12" fill="#e58d94"/>
<rect x="504.78" y="254.36" width="13.12" height="13.12" fill="#f1eaea"/>
<rect x="517.91" y="254.36" width="13.12" height="13.12" fill="#f2f1f1"/>
<rect x="531.03" y="254.36" width="13.12" height="13.12" fill="#f2efef"/>
<rect x="426.05" y="267.48" width="13.12" height="13.12" fill="#efdbdd"/>
<rect x="439.17" y="267.48" width="13.12" height="13.12" fill="#f0e1e2"/>
<rect x="452.29" y="267.48" width="13.12" height="13.12" fill="#eecdcf"/>
<rect x="465.42" y="267.48" width="13.12" height="13.12" fill="#f2eeee"/>
<rect x="478.54" y="267.48" width="13.12" height="13.12" fill="#f1eaea"/>
<rect x="491.66" y="267.48" width="13.12" height="13.12" fill="#e27880"/>
<rect x="504.78" y="267.48" width="13.12" height="13.12" fill="#f1e8e9"/>
<rect x="517.91" y="267.48" width="13.12" height="13.12" fill="#f2efef"/>
<rect x="531.03" y="267.48" width="13.12" height="13.12" fill="#f2f1f1"/>
<rect x="426.05" y="162.5" width="118.1" height="118.1" fill="none" stroke="#262626" stroke-width="2.5"/>
</g>
<g>
<rect x="558.65" y="162.5" width="9.84" height="9.84" fill="#f2f1f1"/>
<rect x="568.49" y="162.5" width="9.84" height="9.84" fill="#f1e5e6"/>
<rect x="578.33" y="162.5" width="9.84" height="9.84" fill="#f1e8e9"/>
<rect x="588.17" y="162.5" width="9.84" height="9.84" fill="#f1eaea"/>
<rect x="598.02" y="162.5" width="9.84" height="9.84" fill="#f0e3e3"/>
<rect x="607.86" y="162.5" width="9.84" height="9.84" fill="#f2efef"/>
<rect x="617.7" y="162.5" width="9.84" height="9.84" fill="#f2efef"/>
<rect x="627.54" y="162.5" width="9.84" height="9.84" fill="#f2eeee"/>
<rect x="637.38" y="162.5" width="9.84" height="9.84" fill="#f2eded"/>
<rect x="647.23" y="162.5" width="9.84" height="9.84" fill="#f2eded"/>
<rect x="657.07" y="162.5" width="9.84" height="9.84" fill="#f2eeee"/>
<rect x="666.91" y="162.5" width="9.84" height="9.84" fill="#f2efef"/>
<rect x="558.65" y="172.34" width="9.84" height="9.84" fill="#f1e5e6"/>
<rect x="568.49" y="172.34" width="9.84" height="9.84" fill="#f2f1f1"/>
<rect x="578.33" y="172.34" width="9.84" height="9.84" fill="#f2efef"/>
<rect x="588.17" y="172.34" width="9.84" height="9.84" fill="#f1e7e7"/>
<rect x="598.02" y="172.34" width="9.84" height="9.84" fill="#e79fa5"/>
<rect x="607.86" y="172.34" width="9.84" height="9.84" fill="#f1e5e6"/>
<rect x="617.7" y="172.34" width="9.84" height="9.84" fill="#f1e7e7"/>
<rect x="627.54" y="172.34" width="9.84" height="9.84" fill="#f1eaea"/>
<rect x="637.38" y="172.34" width="9.84" height="9.84" fill="#f2eded"/>
<rect x="647.23" y="172.34" width="9.84" height="9.84" fill="#f2eeee"/>
<rect x="657.07" y="172.34" width="9.84" height="9.84" fill="#eed0d2"/>
<rect x="666.91" y="172.34" width="9.84" height="9.84" fill="#f0e3e3"/>
<rect x="558.65" y="182.18" width="9.84" height="9.84" fill="#f1e8e9"/>
<rect x="568.49" y="182.18" width="9.84" height="9.84" fill="#f2efef"/>
<rect x="578.33" y="182.18" width="9.84" height="9.84" fill="#f2f1f1"/>
<rect x="588.17" y="182.18" width="9.84" height="9.84" fill="#f0e3e3"/>
<rect x="598.02" y="182.18" width="9.84" height="9.84" fill="#f2eeee"/>
<rect x="607.86" y="182.18" width="9.84" height="9.84" fill="#f1eaea"/>
<rect x="617.7" y="182.18" width="9.84" height="9.84" fill="#f1eaea"/>
<rect x="627.54" y="182.18" width="9.84" height="9.84" fill="#efd4d6"/>
<rect x="637.38" y="182.18" width="9.84" height="9.84" fill="#f2efef"/>
<rect x="647.23" y="182.18" width="9.84" height="9.84" fill="#f2efef"/>
<rect x="657.07" y="182.18" width="9.84" height="9.84" fill="#f2eded"/>
<rect x="666.91" y="182.18" width="9.84" height="9.84" fill="#f1e8e9"/>
<rect x="558.65" y="192.03" width="9.84" height="9.84" fill="#f1eaea"/>
<rect x="568.49" y="192.03" width="9.84" height="9.84" fill="#f1e7e7"/>
<rect x="578.33" y="192.03" width="9.84" height="9.84" fill="#f0e3e3"/>
<rect x="588.17" y="192.03" width="9.84" height="9.84" fill="#f2f1f1"/>
<rect x="598.02" y="192.03" width="9.84" height="9.84" fill="#da3b46"/>
<rect x="607.86" y="192.03" width="9.84" height="9.84" fill="#f1e8e9"/>
<rect x="617.7" y="192.03" width="9.84" height="9.84" fill="#f1e7e7"/>
<rect x="627.54" y="192.03" width="9.84" height="9.84" fill="#e58c93"/>
<rect x="637.38" y="192.03" width="9.84" height="9.84" fill="#f1e8e9"/>
<rect x="647.23" y="192.03" width="9.84" height="9.84" fill="#f1e7e7"/>
<rect x="657.07" y="192.03" width="9.84" height="9.84" fill="#f2eeee"/>
<rect x="666.91" y="192.03" width="9.84" height="9.84" fill="#edc9cb"/>
<rect x="558.65" y="201.87" width="9.84" height="9.84" fill="#f0e3e3"/>
<rect x="568.49" y="201.87" width="9.84" height="9.84" fill="#e79fa5"/>
<rect x="578.33" y="201.87" width="9.84" height="9.84" fill="#f2eeee"/>
<rect x="588.17" y="201.87" width="9.84" height="9.84" fill="#da3b46"/>
<rect x="598.02" y="201.87" width="9.84" height="9.84" fill="#f2f1f1"/>
<rect x="607.86" y="201.87" width="9.84" height="9.84" fill="#f2eded"/>
<rect x="617.7" y="201.87" width="9.84" height="9.84" fill="#f2eeee"/>
<rect x="627.54" y="201.87" width="9.84" height="9.84" fill="#f1e5e6"/>
<rect x="637.38" y="201.87" width="9.84" height="9.84" fill="#f1eaea"/>
<rect x="647.23" y="201.87" width="9.84" height="9.84" fill="#f2eeee"/>
<rect x="657.07" y="201.87" width="9.84" height="9.84" fill="#eed3d5"/>
<rect x="666.91" y="201.87" width="9.84" height="9.84" fill="#da3b46"/>
<rect x="558.65" y="211.71" width="9.84" height="9.84" fill="#f2efef"/>
<rect x="568.49" y="211.71" width="9.84" height="9.84" fill="#f1e5e6"/>
<rect x="578.33" y="211.71" width="9.84" height="9.84" fill="#f1eaea"/>
<rect x="588.17" y="211.71" width="9.84" height="9.84" fill="#f1e8e9"/>
<rect x="598.02" y="211.71" width="9.84" height="9.84" fill="#f2eded"/>
<rect x="607.86" y="211.71" width="9.84" height="9.84" fill="#f2f1f1"/>
<rect x="617.7" y="211.71" width="9.84" height="9.84" fill="#f2efef"/>
<rect x="627.54" y="211.71" width="9.84" height="9.84" fill="#f1eaea"/>
<rect x="637.38" y="211.71" width="9.84" height="9.84" fill="#f2efef"/>
<rect x="647.23" y="211.71" width="9.84" height="9.84" fill="#f0e0e1"/>
<rect x="657.07" y="211.71" width="9.84" height="9.84" fill="#f0e3e3"/>
<rect x="666.91" y="211.71" width="9.84" height="9.84" fill="#f0e1e2"/>
<rect x="558.65" y="221.55" width="9.84" height="9.84" fill="#f2efef"/>
<rect x="568.49" y="221.55" width="9.84" height="9.84" fill="#f1e5e6"/>
<rect x="578.33" y="221.55" width="9.84" height="9.84" fill="#f1eaea"/>
<rect x="588.17" y="221.55" width="9.84" height="9.84" fill="#f1e7e7"/>
<rect x="598.02" y="221.55" width="9.84" height="9.84" fill="#f2eeee"/>
<rect x="607.86" y="221.55" width="9.84" height="9.84" fill="#f2efef"/>
<rect x="617.7" y="221.55" width="9.84" height="9.84" fill="#f2f1f1"/>
<rect x="627.54" y="221.55" width="9.84" height="9.84" fill="#f1e8e9"/>
<rect x="637.38" y="221.55" width="9.84" height="9.84" fill="#f2efef"/>
<rect x="647.23" y="221.55" width="9.84" height="9.84" fill="#f0e3e3"/>
<rect x="657.07" y="221.55" width="9.84" height="9.84" fill="#f0e3e3"/>
<rect x="666.91" y="221.55" width="9.84" height="9.84" fill="#f0e3e3"/>
<rect x="558.65" y="231.39" width="9.84" height="9.84" fill="#f2eeee"/>
<rect x="568.49" y="231.39" width="9.84" height="9.84" fill="#f1eaea"/>
<rect x="578.33" y="231.39" width="9.84" height="9.84" fill="#eed3d5"/>
<rect x="588.17" y="231.39" width="9.84" height="9.84" fill="#e58c93"/>
<rect x="598.02" y="231.39" width="9.84" height="9.84" fill="#f1e5e6"/>
<rect x="607.86" y="231.39" width="9.84" height="9.84" fill="#f1eaea"/>
<rect x="617.7" y="231.39" width="9.84" height="9.84" fill="#f1e8e9"/>
<rect x="627.54" y="231.39" width="9.84" height="9.84" fill="#f2f1f1"/>
<rect x="637.38" y="231.39" width="9.84" height="9.84" fill="#f2efef"/>
<rect x="647.23" y="231.39" width="9.84" height="9.84" fill="#f2efef"/>
<rect x="657.07" y="231.39" width="9.84" height="9.84" fill="#f2efef"/>
<rect x="666.91" y="231.39" width="9.84" height="9.84" fill="#efd6d7"/>
<rect x="558.65" y="241.23" width="9.84" height="9.84" fill="#f2eded"/>
<rect x="568.49" y="241.23" width="9.84" height="9.84" fill="#f2eded"/>
<rect x="578.33" y="241.23" width="9.84" height="9.84" fill="#f2efef"/>
<rect x="588.17" y="241.23" width="9.84" height="9.84" fill="#f1e8e9"/>
<rect x="598.02" y="241.23" width="9.84" height="9.84" fill="#f1eaea"/>
<rect x="607.86" y="241.23" width="9.84" height="9.84" fill="#f2efef"/>
<rect x="617.7" y="241.23" width="9.84" height="9.84" fill="#f2efef"/>
<rect x="627.54" y="241.23" width="9.84" height="9.84" fill="#f2efef"/>
<rect x="637.38" y="241.23" width="9.84" height="9.84" fill="#f2f1f1"/>
<rect x="647.23" y="241.23" width="9.84" height="9.84" fill="#f2f1f1"/>
<rect x="657.07" y="241.23" width="9.84" height="9.84" fill="#f2f1f1"/>
<rect x="666.91" y="241.23" width="9.84" height="9.84" fill="#f2eeee"/>
<rect x="558.65" y="251.07" width="9.84" height="9.84" fill="#f2eded"/>
<rect x="568.49" y="251.07" width="9.84" height="9.84" fill="#f2eeee"/>
<rect x="578.33" y="251.07" width="9.84" height="9.84" fill="#f2efef"/>
<rect x="588.17" y="251.07" width="9.84" height="9.84" fill="#f1e7e7"/>
<rect x="598.02" y="251.07" width="9.84" height="9.84" fill="#f2eeee"/>
<rect x="607.86" y="251.07" width="9.84" height="9.84" fill="#f0e0e1"/>
<rect x="617.7" y="251.07" width="9.84" height="9.84" fill="#f0e0e1"/>
<rect x="627.54" y="251.07" width="9.84" height="9.84" fill="#f2efef"/>
<rect x="637.38" y="251.07" width="9.84" height="9.84" fill="#f2f1f1"/>
<rect x="647.23" y="251.07" width="9.84" height="9.84" fill="#f2f1f1"/>
<rect x="657.07" y="251.07" width="9.84" height="9.84" fill="#f2f1f1"/>
<rect x="666.91" y="251.07" width="9.84" height="9.84" fill="#f2eded"/>
<rect x="558.65" y="260.92" width="9.84" height="9.84" fill="#f2eeee"/>
<rect x="568.49" y="260.92" width="9.84" height="9.84" fill="#eed0d2"/>
<rect x="578.33" y="260.92" width="9.84" height="9.84" fill="#f2eded"/>
<rect x="588.17" y="260.92" width="9.84" height="9.84" fill="#f2eeee"/>
<rect x="598.02" y="260.92" width="9.84" height="9.84" fill="#eed3d5"/>
<rect x="607.86" y="260.92" width="9.84" height="9.84" fill="#f0e3e3"/>
<rect x="617.7" y="260.92" width="9.84" height="9.84" fill="#f0e3e3"/>
<rect x="627.54" y="260.92" width="9.84" height="9.84" fill="#f2efef"/>
<rect x="637.38" y="260.92" width="9.84" height="9.84" fill="#f2f1f1"/>
<rect x="647.23" y="260.92" width="9.84" height="9.84" fill="#f2f1f1"/>
<rect x="657.07" y="260.92" width="9.84" height="9.84" fill="#f2f1f1"/>
<rect x="666.91" y="260.92" width="9.84" height="9.84" fill="#efd6d7"/>
<rect x="558.65" y="270.76" width="9.84" height="9.84" fill="#f2efef"/>
<rect x="568.49" y="270.76" width="9.84" height="9.84" fill="#f0e3e3"/>
<rect x="578.33" y="270.76" width="9.84" height="9.84" fill="#f1e8e9"/>
<rect x="588.17" y="270.76" width="9.84" height="9.84" fill="#edc9cb"/>
<rect x="598.02" y="270.76" width="9.84" height="9.84" fill="#da3b46"/>
<rect x="607.86" y="270.76" width="9.84" height="9.84" fill="#f0e1e2"/>
<rect x="617.7" y="270.76" width="9.84" height="9.84" fill="#f0e3e3"/>
<rect x="627.54" y="270.76" width="9.84" height="9.84" fill="#efd6d7"/>
<rect x="637.38" y="270.76" width="9.84" height="9.84" fill="#f2eeee"/>
<rect x="647.23" y="270.76" width="9.84" height="9.84" fill="#f2eded"/>
<rect x="657.07" y="270.76" width="9.84" height="9.84" fill="#efd6d7"/>
<rect x="666.91" y="270.76" width="9.84" height="9.84" fill="#f2f1f1"/>
<rect x="558.65" y="162.5" width="118.1" height="118.1" fill="none" stroke="#262626" stroke-width="2.5"/>
</g>
<g>
<rect x="691.25" y="162.5" width="6.95" height="6.95" fill="#f2f1f1"/>
<rect x="698.2" y="162.5" width="6.95" height="6.95" fill="#f2eded"/>
<rect x="705.14" y="162.5" width="6.95" height="6.95" fill="#eecdcf"/>
<rect x="712.09" y="162.5" width="6.95" height="6.95" fill="#ecc3c6"/>
<rect x="719.04" y="162.5" width="6.95" height="6.95" fill="#eecdcf"/>
<rect x="725.99" y="162.5" width="6.95" height="6.95" fill="#eab5b9"/>
<rect x="732.93" y="162.5" width="6.95" height="6.95" fill="#edc9cb"/>
<rect x="739.88" y="162.5" width="6.95" height="6.95" fill="#eecdcf"/>
<rect x="746.83" y="162.5" width="6.95" height="6.95" fill="#efdbdd"/>
<rect x="753.77" y="162.5" width="6.95" height="6.95" fill="#e4838b"/>
<rect x="760.72" y="162.5" width="6.95" height="6.95" fill="#eed0d2"/>
<rect x="767.67" y="162.5" width="6.95" height="6.95" fill="#eed0d2"/>
<rect x="774.61" y="162.5" width="6.95" height="6.95" fill="#ebbbbe"/>
<rect x="781.56" y="162.5" width="6.95" height="6.95" fill="#eab2b6"/>
<rect x="788.51" y="162.5" width="6.95" height="6.95" fill="#f0e0e1"/>
<rect x="795.46" y="162.5" width="6.95" height="6.95" fill="#ebbbbe"/>
<rect x="802.4" y="162.5" width="6.95" height="6.95" fill="#eab2b6"/>
<rect x="691.25" y="169.45" width="6.95" height="6.95" fill="#f2eded"/>
<rect x="698.2" y="169.45" width="6.95" height="6.95" fill="#f2f1f1"/>
<rect x="705.14" y="169.45" width="6.95" height="6.95" fill="#f1e8e9"/>
<rect x="712.09" y="169.45" width="6.95" height="6.95" fill="#eecdcf"/>
<rect x="719.04" y="169.45" width="6.95" height="6.95" fill="#ecbfc2"/>
<rect x="725.99" y="169.45" width="6.95" height="6.95" fill="#ebbbbe"/>
<rect x="732.93" y="169.45" width="6.95" height="6.95" fill="#e06770"/>
<rect x="739.88" y="169.45" width="6.95" height="6.95" fill="#ecc3c6"/>
<rect x="746.83" y="169.45" width="6.95" height="6.95" fill="#edc9cb"/>
<rect x="753.77" y="169.45" width="6.95" height="6.95" fill="#eecdcf"/>
<rect x="760.72" y="169.45" width="6.95" height="6.95" fill="#f0e0e1"/>
<rect x="767.67" y="169.45" width="6.95" height="6.95" fill="#f0e0e1"/>
<rect x="774.61" y="169.45" width="6.95" height="6.95" fill="#f2eded"/>
<rect x="781.56" y="169.45" width="6.95" height="6.95" fill="#f1e8e9"/>
<rect x="788.51" y="169.45" width="6.95" height="6.95" fill="#efdbdd"/>
<rect x="795.46" y="169.45" width="6.95" height="6.95" fill="#f0e3e3"/>
<rect x="802.4" y="169.45" width="6.95" height="6.95" fill="#f1e8e9"/>
<rect x="691.25" y="176.39" width="6.95" height="6.95" fill="#eecdcf"/>
<rect x="698.2" y="176.39" width="6.95" height="6.95" fill="#f1e8e9"/>
<rect x="705.14" y="176.39" width="6.95" height="6.95" fill="#f2f1f1"/>
<rect x="712.09" y="176.39" width="6.95" height="6.95" fill="#f0e3e3"/>
<rect x="719.04" y="176.39" width="6.95" height="6.95" fill="#efd6d7"/>
<rect x="725.99" y="176.39" width="6.95" height="6.95" fill="#efdbdd"/>
<rect x="732.93" y="176.39" width="6.95" height="6.95" fill="#f2f1f1"/>
<rect x="739.88" y="176.39" width="6.95" height="6.95" fill="#efd6d7"/>
<rect x="746.83" y="176.39" width="6.95" height="6.95" fill="#f0e0e1"/>
<rect x="753.77" y="176.39" width="6.95" height="6.95" fill="#f0e3e3"/>
<rect x="760.72" y="176.39" width="6.95" height="6.95" fill="#efd9da"/>
<rect x="767.67" y="176.39" width="6.95" height="6.95" fill="#e9a8ad"/>
<rect x="774.61" y="176.39" width="6.95" height="6.95" fill="#f0e0e1"/>
<rect x="781.56" y="176.39" width="6.95" height="6.95" fill="#eed0d2"/>
<rect x="788.51" y="176.39" width="6.95" height="6.95" fill="#f0e3e3"/>
<rect x="795.46" y="176.39" width="6.95" height="6.95" fill="#f2eded"/>
<rect x="802.4" y="176.39" width="6.95" height="6.95" fill="#f2eded"/>
<rect x="691.25" y="183.34" width="6.95" height="6.95" fill="#edc9cb"/>
<rect x="698.2" y="183.34" width="6.95" height="6.95" fill="#eed0d2"/>
<rect x="705.14" y="183.34" width="6.95" height="6.95" fill="#f0e0e1"/>
<rect x="712.09" y="183.34" width="6.95" height="6.95" fill="#f2f1f1"/>
<rect x="719.04" y="183.34" width="6.95" height="6.95" fill="#e6959b"/>
<rect x="725.99" y="183.34" width="6.95" height="6.95" fill="#f2eeee"/>
<rect x="732.93" y="183.34" width="6.95" height="6.95" fill="#eab2b6"/>
<rect x="739.88" y="183.34" width="6.95" height="6.95" fill="#efdbdd"/>
<rect x="746.83" y="183.34" width="6.95" height="6.95" fill="#efd6d7"/>
<rect x="753.77" y="183.34" width="6.95" height="6.95" fill="#f1e7e7"/>
<rect x="760.72" y="183.34" width="6.95" height="6.95" fill="#f2eeee"/>
<rect x="767.67" y="183.34" width="6.95" height="6.95" fill="#f2efef"/>
<rect x="774.61" y="183.34" width="6.95" height="6.95" fill="#f2efef"/>
<rect x="781.56" y="183.34" width="6.95" height="6.95" fill="#f0e3e3"/>
<rect x="788.51" y="183.34" width="6.95" height="6.95" fill="#f1e8e9"/>
<rect x="795.46" y="183.34" width="6.95" height="6.95" fill="#f1e5e6"/>
<rect x="802.4" y="183.34" width="6.95" height="6.95" fill="#efdadb"/>
<rect x="691.25" y="190.29" width="6.95" height="6.95" fill="#eecdcf"/>
<rect x="698.2" y="190.29" width="6.95" height="6.95" fill="#ecbfc2"/>
<rect x="705.14" y="190.29" width="6.95" height="6.95" fill="#efd6d7"/>
<rect x="712.09" y="190.29" width="6.95" height="6.95" fill="#e79a9f"/>
<rect x="719.04" y="190.29" width="6.95" height="6.95" fill="#f2f1f1"/>
<rect x="725.99" y="190.29" width="6.95" height="6.95" fill="#f1e5e6"/>
<rect x="732.93" y="190.29" width="6.95" height="6.95" fill="#ecbfc2"/>
<rect x="739.88" y="190.29" width="6.95" height="6.95" fill="#eecdcf"/>
<rect x="746.83" y="190.29" width="6.95" height="6.95" fill="#edc9cb"/>
<rect x="753.77" y="190.29" width="6.95" height="6.95" fill="#f0e3e3"/>
<rect x="760.72" y="190.29" width="6.95" height="6.95" fill="#eecdcf"/>
<rect x="767.67" y="190.29" width="6.95" height="6.95" fill="#efdbdd"/>
<rect x="774.61" y="190.29" width="6.95" height="6.95" fill="#f2eded"/>
<rect x="781.56" y="190.29" width="6.95" height="6.95" fill="#efdbdd"/>
<rect x="788.51" y="190.29" width="6.95" height="6.95" fill="#f2eded"/>
<rect x="795.46" y="190.29" width="6.95" height="6.95" fill="#f0e3e3"/>
<rect x="802.4" y="190.29" width="6.95" height="6.95" fill="#f0e3e3"/>
<rect x="691.25" y="197.24" width="6.95" height="6.95" fill="#ebbbbe"/>
<rect x="698.2" y="197.24" width="6.95" height="6.95" fill="#ecbfc2"/>
<rect x="705.14" y="197.24" width="6.95" height="6.95" fill="#efdbdd"/>
<rect x="712.09" y="197.24" width="6.95" height="6.95" fill="#f2eeee"/>
<rect x="719.04" y="197.24" width="6.95" height="6.95" fill="#f1e5e6"/>
<rect x="725.99" y="197.24" width="6.95" height="6.95" fill="#f2f1f1"/>
<rect x="732.93" y="197.24" width="6.95" height="6.95" fill="#e2747c"/>
<rect x="739.88" y="197.24" width="6.95" height="6.95" fill="#f2eded"/>
<rect x="746.83" y="197.24" width="6.95" height="6.95" fill="#f0e0e1"/>
<rect x="753.77" y="197.24" width="6.95" height="6.95" fill="#eecdcf"/>
<rect x="760.72" y="197.24" width="6.95" height="6.95" fill="#f0e3e3"/>
<rect x="767.67" y="197.24" width="6.95" height="6.95" fill="#efd6d7"/>
<rect x="774.61" y="197.24" width="6.95" height="6.95" fill="#efd6d7"/>
<rect x="781.56" y="197.24" width="6.95" height="6.95" fill="#ecbfc2"/>
<rect x="788.51" y="197.24" width="6.95" height="6.95" fill="#f2eeee"/>
<rect x="795.46" y="197.24" width="6.95" height="6.95" fill="#edc9cb"/>
<rect x="802.4" y="197.24" width="6.95" height="6.95" fill="#efdbdd"/>
<rect x="691.25" y="204.18" width="6.95" height="6.95" fill="#edc9cb"/>
<rect x="698.2" y="204.18" width="6.95" height="6.95" fill="#e06770"/>
<rect x="705.14" y="204.18" width="6.95" height="6.95" fill="#f2f1f1"/>
<rect x="712.09" y="204.18" width="6.95" height="6.95" fill="#ebbbbe"/>
<rect x="719.04" y="204.18" width="6.95" height="6.95" fill="#ecbfc2"/>
<rect x="725.99" y="204.18" width="6.95" height="6.95" fill="#e27981"/>
<rect x="732.93" y="204.18" width="6.95" height="6.95" fill="#f2f1f1"/>
<rect x="739.88" y="204.18" width="6.95" height="6.95" fill="#e9acb1"/>
<rect x="746.83" y="204.18" width="6.95" height="6.95" fill="#f2eeee"/>
<rect x="753.77" y="204.18" width="6.95" height="6.95" fill="#f0e3e3"/>
<rect x="760.72" y="204.18" width="6.95" height="6.95" fill="#f1e7e7"/>
<rect x="767.67" y="204.18" width="6.95" height="6.95" fill="#f1e7e7"/>
<rect x="774.61" y="204.18" width="6.95" height="6.95" fill="#f0e3e3"/>
<rect x="781.56" y="204.18" width="6.95" height="6.95" fill="#edc9cb"/>
<rect x="788.51" y="204.18" width="6.95" height="6.95" fill="#eed0d2"/>
<rect x="795.46" y="204.18" width="6.95" height="6.95" fill="#f2eded"/>
<rect x="802.4" y="204.18" width="6.95" height="6.95" fill="#f2eded"/>
<rect x="691.25" y="211.13" width="6.95" height="6.95" fill="#eecdcf"/>
<rect x="698.2" y="211.13" width="6.95" height="6.95" fill="#ecc3c6"/>
<rect x="705.14" y="211.13" width="6.95" height="6.95" fill="#efdadb"/>
<rect x="712.09" y="211.13" width="6.95" height="6.95" fill="#efdadb"/>
<rect x="719.04" y="211.13" width="6.95" height="6.95" fill="#eecdcf"/>
<rect x="725.99" y="211.13" width="6.95" height="6.95" fill="#f1e8e9"/>
<rect x="732.93" y="211.13" width="6.95" height="6.95" fill="#eab2b6"/>
<rect x="739.88" y="211.13" width="6.95" height="6.95" fill="#f2f1f1"/>
<rect x="746.83" y="211.13" width="6.95" height="6.95" fill="#efdbdd"/>
<rect x="753.77" y="211.13" width="6.95" height="6.95" fill="#f2eded"/>
<rect x="760.72" y="211.13" width="6.95" height="6.95" fill="#efd6d7"/>
<rect x="767.67" y="211.13" width="6.95" height="6.95" fill="#f0e0e1"/>
<rect x="774.61" y="211.13" width="6.95" height="6.95" fill="#eed0d2"/>
<rect x="781.56" y="211.13" width="6.95" height="6.95" fill="#edc9cb"/>
<rect x="788.51" y="211.13" width="6.95" height="6.95" fill="#f1eaea"/>
<rect x="795.46" y="211.13" width="6.95" height="6.95" fill="#eed0d2"/>
<rect x="802.4" y="211.13" width="6.95" height="6.95" fill="#f0e0e1"/>
<rect x="691.25" y="218.08" width="6.95" height="6.95" fill="#efdbdd"/>
<rect x="698.2" y="218.08" width="6.95" height="6.95" fill="#eecdcf"/>
<rect x="705.14" y="218.08" width="6.95" height="6.95" fill="#f0e3e3"/>
<rect x="712.09" y="218.08" width="6.95" height="6.95" fill="#efd6d7"/>
<rect x="719.04" y="218.08" width="6.95" height="6.95" fill="#eecdcf"/>
<rect x="725.99" y="218.08" width="6.95" height="6.95" fill="#f0e0e1"/>
<rect x="732.93" y="218.08" width="6.95" height="6.95" fill="#f2eeee"/>
<rect x="739.88" y="218.08" width="6.95" height="6.95" fill="#efdbdd"/>
<rect x="746.83" y="218.08" width="6.95" height="6.95" fill="#f2f1f1"/>
<rect x="753.77" y="218.08" width="6.95" height="6.95" fill="#efdbdd"/>
<rect x="760.72" y="218.08" width="6.95" height="6.95" fill="#efd9da"/>
<rect x="767.67" y="218.08" width="6.95" height="6.95" fill="#f1e7e7"/>
<rect x="774.61" y="218.08" width="6.95" height="6.95" fill="#efd6d7"/>
<rect x="781.56" y="218.08" width="6.95" height="6.95" fill="#f2eded"/>
<rect x="788.51" y="218.08" width="6.95" height="6.95" fill="#f0e0e1"/>
<rect x="795.46" y="218.08" width="6.95" height="6.95" fill="#efdbdd"/>
<rect x="802.4" y="218.08" width="6.95" height="6.95" fill="#f0e0e1"/>
<rect x="691.25" y="225.02" width="6.95" height="6.95" fill="#e4838b"/>
<rect x="698.2" y="225.02" width="6.95" height="6.95" fill="#eecdcf"/>
<rect x="705.14" y="225.02" width="6.95" height="6.95" fill="#f0e3e3"/>
<rect x="712.09" y="225.02" width="6.95" height="6.95" fill="#f1e7e7"/>
<rect x="719.04" y="225.02" width="6.95" height="6.95" fill="#f0e3e3"/>
<rect x="725.99" y="225.02" width="6.95" height="6.95" fill="#eecdcf"/>
<rect x="732.93" y="225.02" width="6.95" height="6.95" fill="#f0e3e3"/>
<rect x="739.88" y="225.02" width="6.95" height="6.95" fill="#f2eded"/>
<rect x="746.83" y="225.02" width="6.95" height="6.95" fill="#efdadb"/>
<rect x="753.77" y="225.02" width="6.95" height="6.95" fill="#f2f1f1"/>
<rect x="760.72" y="225.02" width="6.95" height="6.95" fill="#f2efef"/>
<rect x="767.67" y="225.02" width="6.95" height="6.95" fill="#efdbdd"/>
<rect x="774.61" y="225.02" width="6.95" height="6.95" fill="#eed0d2"/>
<rect x="781.56" y="225.02" width="6.95" height="6.95" fill="#ebbbbe"/>
<rect x="788.51" y="225.02" width="6.95" height="6.95" fill="#f2eeee"/>
<rect x="795.46" y="225.02" width="6.95" height="6.95" fill="#eab2b6"/>
<rect x="802.4" y="225.02" width="6.95" height="6.95" fill="#efd6d7"/>
<rect x="691.25" y="231.97" width="6.95" height="6.95" fill="#eed0d2"/>
<rect x="698.2" y="231.97" width="6.95" height="6.95" fill="#f0e0e1"/>
<rect x="705.14" y="231.97" width="6.95" height="6.95" fill="#efd9da"/>
<rect x="712.09" y="231.97" width="6.95" height="6.95" fill="#f2eeee"/>
<rect x="719.04" y="231.97" width="6.95" height="6.95" fill="#edc9cb"/>
<rect x="725.99" y="231.97" width="6.95" height="6.95" fill="#f0e0e1"/>
<rect x="732.93" y="231.97" width="6.95" height="6.95" fill="#f0e3e3"/>
<rect x="739.88" y="231.97" width="6.95" height="6.95" fill="#eed3d5"/>
<rect x="746.83" y="231.97" width="6.95" height="6.95" fill="#efd6d7"/>
<rect x="753.77" y="231.97" width="6.95" height="6.95" fill="#f2efef"/>
<rect x="760.72" y="231.97" width="6.95" height="6.95" fill="#f2f1f1"/>
<rect x="767.67" y="231.97" width="6.95" height="6.95" fill="#efdbdd"/>
<rect x="774.61" y="231.97" width="6.95" height="6.95" fill="#f2eeee"/>
<rect x="781.56" y="231.97" width="6.95" height="6.95" fill="#ecc3c6"/>
<rect x="788.51" y="231.97" width="6.95" height="6.95" fill="#f0e3e3"/>
<rect x="795.46" y="231.97" width="6.95" height="6.95" fill="#f0e3e3"/>
<rect x="802.4" y="231.97" width="6.95" height="6.95" fill="#efd6d7"/>
<rect x="691.25" y="238.92" width="6.95" height="6.95" fill="#eed0d2"/>
<rect x="698.2" y="238.92" width="6.95" height="6.95" fill="#f0e3e3"/>
<rect x="705.14" y="238.92" width="6.95" height="6.95" fill="#e9a8ad"/>
<rect x="712.09" y="238.92" width="6.95" height="6.95" fill="#f1e7e7"/>
<rect x="719.04" y="238.92" width="6.95" height="6.95" fill="#efdbdd"/>
<rect x="725.99" y="238.92" width="6.95" height="6.95" fill="#efd6d7"/>
<rect x="732.93" y="238.92" width="6.95" height="6.95" fill="#f1e7e7"/>
<rect x="739.88" y="238.92" width="6.95" height="6.95" fill="#f0e0e1"/>
<rect x="746.83" y="238.92" width="6.95" height="6.95" fill="#f1e5e6"/>
<rect x="753.77" y="238.92" width="6.95" height="6.95" fill="#efdbdd"/>
<rect x="760.72" y="238.92" width="6.95" height="6.95" fill="#efdbdd"/>
<rect x="767.67" y="238.92" width="6.95" height="6.95" fill="#f2f1f1"/>
<rect x="774.61" y="238.92" width="6.95" height="6.95" fill="#f0e0e1"/>
<rect x="781.56" y="238.92" width="6.95" height="6.95" fill="#eed0d2"/>
<rect x="788.51" y="238.92" width="6.95" height="6.95" fill="#f1e8e9"/>
<rect x="795.46" y="238.92" width="6.95" height="6.95" fill="#f2eded"/>
<rect x="802.4" y="238.92" width="6.95" height="6.95" fill="#f2eeee"/>
<rect x="691.25" y="245.86" width="6.95" height="6.95" fill="#ebbbbe"/>
<rect x="698.2" y="245.86" width="6.95" height="6.95" fill="#f2eded"/>
<rect x="705.14" y="245.86" width="6.95" height="6.95" fill="#f0e3e3"/>
<rect x="712.09" y="245.86" width="6.95" height="6.95" fill="#f2efef"/>
<rect x="719.04" y="245.86" width="6.95" height="6.95" fill="#f2eeee"/>
<rect x="725.99" y="245.86" width="6.95" height="6.95" fill="#efd6d7"/>
<rect x="732.93" y="245.86" width="6.95" height="6.95" fill="#f0e3e3"/>
<rect x="739.88" y="245.86" width="6.95" height="6.95" fill="#eed0d2"/>
<rect x="746.83" y="245.86" width="6.95" height="6.95" fill="#eed0d2"/>
<rect x="753.77" y="245.86" width="6.95" height="6.95" fill="#eed0d2"/>
<rect x="760.72" y="245.86" width="6.95" height="6.95" fill="#f2eeee"/>
<rect x="767.67" y="245.86" width="6.95" height="6.95" fill="#f0e0e1"/>
<rect x="774.61" y="245.86" width="6.95" height="6.95" fill="#f2f1f1"/>
<rect x="781.56" y="245.86" width="6.95" height="6.95" fill="#efdbdd"/>
<rect x="788.51" y="245.86" width="6.95" height="6.95" fill="#eed0d2"/>
<rect x="795.46" y="245.86" width="6.95" height="6.95" fill="#efd6d7"/>
<rect x="802.4" y="245.86" width="6.95" height="6.95" fill="#f0e0e1"/>
<rect x="691.25" y="252.81" width="6.95" height="6.95" fill="#eab2b6"/>
<rect x="698.2" y="252.81" width="6.95" height="6.95" fill="#f1e8e9"/>
<rect x="705.14" y="252.81" width="6.95" height="6.95" fill="#eed0d2"/>
<rect x="712.09" y="252.81" width="6.95" height="6.95" fill="#f0e0e1"/>
<rect x="719.04" y="252.81" width="6.95" height="6.95" fill="#efdbdd"/>
<rect x="725.99" y="252.81" width="6.95" height="6.95" fill="#ecbfc2"/>
<rect x="732.93" y="252.81" width="6.95" height="6.95" fill="#ecc3c6"/>
<rect x="739.88" y="252.81" width="6.95" height="6.95" fill="#ecc3c6"/>
<rect x="746.83" y="252.81" width="6.95" height="6.95" fill="#f2eded"/>
<rect x="753.77" y="252.81" width="6.95" height="6.95" fill="#ecbfc2"/>
<rect x="760.72" y="252.81" width="6.95" height="6.95" fill="#ecc3c6"/>
<rect x="767.67" y="252.81" width="6.95" height="6.95" fill="#eed0d2"/>
<rect x="774.61" y="252.81" width="6.95" height="6.95" fill="#efdbdd"/>
<rect x="781.56" y="252.81" width="6.95" height="6.95" fill="#f2f1f1"/>
<rect x="788.51" y="252.81" width="6.95" height="6.95" fill="#efdbdd"/>
<rect x="795.46" y="252.81" width="6.95" height="6.95" fill="#ecc3c6"/>
<rect x="802.4" y="252.81" width="6.95" height="6.95" fill="#efdbdd"/>
<rect x="691.25" y="259.76" width="6.95" height="6.95" fill="#f0e0e1"/>
<rect x="698.2" y="259.76" width="6.95" height="6.95" fill="#efdbdd"/>
<rect x="705.14" y="259.76" width="6.95" height="6.95" fill="#f0e3e3"/>
<rect x="712.09" y="259.76" width="6.95" height="6.95" fill="#f1e8e9"/>
<rect x="719.04" y="259.76" width="6.95" height="6.95" fill="#f2eded"/>
<rect x="725.99" y="259.76" width="6.95" height="6.95" fill="#f2eeee"/>
<rect x="732.93" y="259.76" width="6.95" height="6.95" fill="#eed0d2"/>
<rect x="739.88" y="259.76" width="6.95" height="6.95" fill="#f1e8e9"/>
<rect x="746.83" y="259.76" width="6.95" height="6.95" fill="#f0e0e1"/>
<rect x="753.77" y="259.76" width="6.95" height="6.95" fill="#f2eeee"/>
<rect x="760.72" y="259.76" width="6.95" height="6.95" fill="#f0e3e3"/>
<rect x="767.67" y="259.76" width="6.95" height="6.95" fill="#f1e8e9"/>
<rect x="774.61" y="259.76" width="6.95" height="6.95" fill="#eed0d2"/>
<rect x="781.56" y="259.76" width="6.95" height="6.95" fill="#efdbdd"/>
<rect x="788.51" y="259.76" width="6.95" height="6.95" fill="#f2f1f1"/>
<rect x="795.46" y="259.76" width="6.95" height="6.95" fill="#efd6d7"/>
<rect x="802.4" y="259.76" width="6.95" height="6.95" fill="#f0e3e3"/>
<rect x="691.25" y="266.71" width="6.95" height="6.95" fill="#ebbbbe"/>
<rect x="698.2" y="266.71" width="6.95" height="6.95" fill="#f0e3e3"/>
<rect x="705.14" y="266.71" width="6.95" height="6.95" fill="#f2eded"/>
<rect x="712.09" y="266.71" width="6.95" height="6.95" fill="#f1e5e6"/>
<rect x="719.04" y="266.71" width="6.95" height="6.95" fill="#f0e3e3"/>
<rect x="725.99" y="266.71" width="6.95" height="6.95" fill="#edc9cb"/>
<rect x="732.93" y="266.71" width="6.95" height="6.95" fill="#f2eded"/>
<rect x="739.88" y="266.71" width="6.95" height="6.95" fill="#eecdcf"/>
<rect x="746.83" y="266.71" width="6.95" height="6.95" fill="#efdbdd"/>
<rect x="753.77" y="266.71" width="6.95" height="6.95" fill="#eab2b6"/>
<rect x="760.72" y="266.71" width="6.95" height="6.95" fill="#f0e3e3"/>
<rect x="767.67" y="266.71" width="6.95" height="6.95" fill="#f2eded"/>
<rect x="774.61" y="266.71" width="6.95" height="6.95" fill="#efd6d7"/>
<rect x="781.56" y="266.71" width="6.95" height="6.95" fill="#ecc3c6"/>
<rect x="788.51" y="266.71" width="6.95" height="6.95" fill="#efd6d7"/>
<rect x="795.46" y="266.71" width="6.95" height="6.95" fill="#f2f1f1"/>
<rect x="802.4" y="266.71" width="6.95" height="6.95" fill="#eecdcf"/>
<rect x="691.25" y="273.65" width="6.95" height="6.95" fill="#eab2b6"/>
<rect x="698.2" y="273.65" width="6.95" height="6.95" fill="#f1e8e9"/>
<rect x="705.14" y="273.65" width="6.95" height="6.95" fill="#f2eded"/>
<rect x="712.09" y="273.65" width="6.95" height="6.95" fill="#efdadb"/>
<rect x="719.04" y="273.65" width="6.95" height="6.95" fill="#f0e3e3"/>
<rect x="725.99" y="273.65" width="6.95" height="6.95" fill="#efdbdd"/>
<rect x="732.93" y="273.65" width="6.95" height="6.95" fill="#f2eded"/>
<rect x="739.88" y="273.65" width="6.95" height="6.95" fill="#f0e0e1"/>
<rect x="746.83" y="273.65" width="6.95" height="6.95" fill="#f0e0e1"/>
<rect x="753.77" y="273.65" width="6.95" height="6.95" fill="#efd6d7"/>
<rect x="760.72" y="273.65" width="6.95" height="6.95" fill="#efd6d7"/>
<rect x="767.67" y="273.65" width="6.95" height="6.95" fill="#f2eeee"/>
<rect x="774.61" y="273.65" width="6.95" height="6.95" fill="#f0e0e1"/>
<rect x="781.56" y="273.65" width="6.95" height="6.95" fill="#efdbdd"/>
<rect x="788.51" y="273.65" width="6.95" height="6.95" fill="#f0e3e3"/>
<rect x="795.46" y="273.65" width="6.95" height="6.95" fill="#eecdcf"/>
<rect x="802.4" y="273.65" width="6.95" height="6.95" fill="#f2f1f1"/>
<rect x="691.25" y="162.5" width="118.1" height="118.1" fill="none" stroke="#262626" stroke-width="2.5"/>
</g>
<g>
<rect x="28.25" y="288.25" width="13.12" height="13.12" fill="#f2f1f1"/>
<rect x="41.37" y="288.25" width="13.12" height="13.12" fill="#ecbfc2"/>
<rect x="54.49" y="288.25" width="13.12" height="13.12" fill="#eed3d5"/>
<rect x="67.62" y="288.25" width="13.12" height="13.12" fill="#eecdcf"/>
<rect x="80.74" y="288.25" width="13.12" height="13.12" fill="#eed3d5"/>
<rect x="93.86" y="288.25" width="13.12" height="13.12" fill="#efd6d7"/>
<rect x="106.98" y="288.25" width="13.12" height="13.12" fill="#eecdcf"/>
<rect x="120.11" y="288.25" width="13.12" height="13.12" fill="#f0e1e2"/>
<rect x="133.23" y="288.25" width="13.12" height="13.12" fill="#ebbbbe"/>
<rect x="28.25" y="301.37" width="13.12" height="13.12" fill="#ecbfc2"/>
<rect x="41.37" y="301.37" width="13.12" height="13.12" fill="#f2f1f1"/>
<rect x="54.49" y="301.37" width="13.12" height="13.12" fill="#f0e0e1"/>
<rect x="67.62" y="301.37" width="13.12" height="13.12" fill="#eecdcf"/>
<rect x="80.74" y="301.37" width="13.12" height="13.12" fill="#efd6d7"/>
<rect x="93.86" y="301.37" width="13.12" height="13.12" fill="#efdbdd"/>
<rect x="106.98" y="301.37" width="13.12" height="13.12" fill="#eecdcf"/>
<rect x="120.11" y="301.37" width="13.12" height="13.12" fill="#efdbdd"/>
<rect x="133.23" y="301.37" width="13.12" height="13.12" fill="#eecdcf"/>
<rect x="28.25" y="314.49" width="13.12" height="13.12" fill="#eed3d5"/>
<rect x="41.37" y="314.49" width="13.12" height="13.12" fill="#f0e0e1"/>
<rect x="54.49" y="314.49" width="13.12" height="13.12" fill="#f2f1f1"/>
<rect x="67.62" y="314.49" width="13.12" height="13.12" fill="#eecdcf"/>
<rect x="80.74" y="314.49" width="13.12" height="13.12" fill="#efd6d7"/>
<rect x="93.86" y="314.49" width="13.12" height="13.12" fill="#efd6d7"/>
<rect x="106.98" y="314.49" width="13.12" height="13.12" fill="#eecdcf"/>
<rect x="120.11" y="314.49" width="13.12" height="13.12" fill="#f0e1e2"/>
<rect x="133.23" y="314.49" width="13.12" height="13.12" fill="#edc9cb"/>
<rect x="28.25" y="327.62" width="13.12" height="13.12" fill="#eecdcf"/>
<rect x="41.37" y="327.62" width="13.12" height="13.12" fill="#eed0d2"/>
<rect x="54.49" y="327.62" width="13.12" height="13.12" fill="#eed0d2"/>
<rect x="67.62" y="327.62" width="13.12" height="13.12" fill="#f2f1f1"/>
<rect x="80.74" y="327.62" width="13.12" height="13.12" fill="#ecbfc2"/>
<rect x="93.86" y="327.62" width="13.12" height="13.12" fill="#eab2b6"/>
<rect x="106.98" y="327.62" width="13.12" height="13.12" fill="#ecbfc2"/>
<rect x="120.11" y="327.62" width="13.12" height="13.12" fill="#f0e1e2"/>
<rect x="133.23" y="327.62" width="13.12" height="13.12" fill="#eecdcf"/>
<rect x="28.25" y="340.74" width="13.12" height="13.12" fill="#eed3d5"/>
<rect x="41.37" y="340.74" width="13.12" height="13.12" fill="#efd9da"/>
<rect x="54.49" y="340.74" width="13.12" height="13.12" fill="#efd9da"/>
<rect x="67.62" y="340.74" width="13.12" height="13.12" fill="#ecbfc2"/>
<rect x="80.74" y="340.74" width="13.12" height="13.12" fill="#f2f1f1"/>
<rect x="93.86" y="340.74" width="13.12" height="13.12" fill="#eab2b6"/>
<rect x="106.98" y="340.74" width="13.12" height="13.12" fill="#eed3d5"/>
<rect x="120.11" y="340.74" width="13.12" height="13.12" fill="#f0e3e3"/>
<rect x="133.23" y="340.74" width="13.12" height="13.12" fill="#f1e7e7"/>
<rect x="28.25" y="353.86" width="13.12" height="13.12" fill="#efd6d7"/>
<rect x="41.37" y="353.86" width="13.12" height="13.12" fill="#f0e0e1"/>
<rect x="54.49" y="353.86" width="13.12" height="13.12" fill="#efdadb"/>
<rect x="67.62" y="353.86" width="13.12" height="13.12" fill="#eaafb3"/>
<rect x="80.74" y="353.86" width="13.12" height="13.12" fill="#eab2b6"/>
<rect x="93.86" y="353.86" width="13.12" height="13.12" fill="#f2f1f1"/>
<rect x="106.98" y="353.86" width="13.12" height="13.12" fill="#edc7ca"/>
<rect x="120.11" y="353.86" width="13.12" height="13.12" fill="#f0e1e2"/>
<rect x="133.23" y="353.86" width="13.12" height="13.12" fill="#efdbdd"/>
<rect x="28.25" y="366.98" width="13.12" height="13.12" fill="#eecdcf"/>
<rect x="41.37" y="366.98" width="13.12" height="13.12" fill="#eecdcf"/>
<rect x="54.49" y="366.98" width="13.12" height="13.12" fill="#eecdcf"/>
<rect x="67.62" y="366.98" width="13.12" height="13.12" fill="#ecbfc2"/>
<rect x="80.74" y="366.98" width="13.12" height="13.12" fill="#eed3d5"/>
<rect x="93.86" y="366.98" width="13.12" height="13.12" fill="#edc7ca"/>
<rect x="106.98" y="366.98" width="13.12" height="13.12" fill="#f2f1f1"/>
<rect x="120.11" y="366.98" width="13.12" height="13.12" fill="#f0e1e2"/>
<rect x="133.23" y="366.98" width="13.12" height="13.12" fill="#e9acb1"/>
<rect x="28.25" y="380.11" width="13.12" height="13.12" fill="#f1e5e6"/>
<rect x="41.37" y="380.11" width="13.12" height="13.12" fill="#f0e0e1"/>
<rect x="54.49" y="380.11" width="13.12" height="13.12" fill="#f1e7e7"/>
<rect x="67.62" y="380.11" width="13.12" height="13.12" fill="#f1e7e7"/>
<rect x="80.74" y="380.11" width="13.12" height="13.12" fill="#f0e3e3"/>
<rect x="93.86" y="380.11" width="13.12" height="13.12" fill="#f1e5e6"/>
<rect x="106.98" y="380.11" width="13.12" height="13.12" fill="#f0e1e2"/>
<rect x="120.11" y="380.11" width="13.12" height="13.12" fill="#f2f1f1"/>
<rect x="133.23" y="380.11" width="13.12" height="13.12" fill="#f0e1e2"/>
<rect x="28.25" y="393.23" width="13.12" height="13.12" fill="#ebbbbe"/>
<rect x="41.37" y="393.23" width="13.12" height="13.12" fill="#eecdcf"/>
<rect x="54.49" y="393.23" width="13.12" height="13.12" fill="#edc9cb"/>
<rect x="67.62" y="393.23" width="13.12" height="13.12" fill="#eecdcf"/>
<rect x="80.74" y="393.23" width="13.12" height="13.12" fill="#f1e7e7"/>
<rect x="93.86" y="393.23" width="13.12" height="13.12" fill="#efdbdd"/>
<rect x="106.98" y="393.23" width="13.12" height="13.12" fill="#e9acb1"/>
<rect x="120.11" y="393.23" width="13.12" height="13.12" fill="#f0e3e3"/>
<rect x="133.23" y="393.23" width="13.12" height="13.12" fill="#f2f1f1"/>
<rect x="28.25" y="288.25" width="118.1" height="118.1" fill="none" stroke="#262626" stroke-width="2.5"/>
</g>
<g>
<rect x="160.85" y="288.25" width="7.87" height="7.87" fill="#f2f1f1"/>
<rect x="168.72" y="288.25" width="7.87" height="7.87" fill="#efdbdd"/>
<rect x="176.6" y="288.25" width="7.87" height="7.87" fill="#f2efef"/>
<rect x="184.47" y="288.25" width="7.87" height="7.87" fill="#ecc3c6"/>
<rect x="192.34" y="288.25" width="7.87" height="7.87" fill="#f0e3e3"/>
<rect x="200.22" y="288.25" width="7.87" height="7.87" fill="#efdbdd"/>
<rect x="208.09" y="288.25" width="7.87" height="7.87" fill="#ecbfc2"/>
<rect x="215.96" y="288.25" width="7.87" height="7.87" fill="#f0e0e1"/>
<rect x="223.84" y="288.25" width="7.87" height="7.87" fill="#edc9cb"/>
<rect x="231.71" y="288.25" width="7.87" height="7.87" fill="#edc6c9"/>
<rect x="239.58" y="288.25" width="7.87" height="7.87" fill="#edc6c9"/>
<rect x="247.46" y="288.25" width="7.87" height="7.87" fill="#efd6d7"/>
<rect x="255.33" y="288.25" width="7.87" height="7.87" fill="#f0e0e1"/>
<rect x="263.2" y="288.25" width="7.87" height="7.87" fill="#f0e3e3"/>
<rect x="271.08" y="288.25" width="7.87" height="7.87" fill="#eed3d5"/>
<rect x="160.85" y="296.12" width="7.87" height="7.87" fill="#efdbdd"/>
<rect x="168.72" y="296.12" width="7.87" height="7.87" fill="#f2f1f1"/>
<rect x="176.6" y="296.12" width="7.87" height="7.87" fill="#efd9da"/>
<rect x="184.47" y="296.12" width="7.87" height="7.87" fill="#f1e7e7"/>
<rect x="192.34" y="296.12" width="7.87" height="7.87" fill="#f2efef"/>
<rect x="200.22" y="296.12" width="7.87" height="7.87" fill="#efd9da"/>
<rect x="208.09" y="296.12" width="7.87" height="7.87" fill="#edc6c9"/>
<rect x="215.96" y="296.12" width="7.87" height="7.87" fill="#efdbdd"/>
<rect x="223.84" y="296.12" width="7.87" height="7.87" fill="#f0e3e3"/>
<rect x="231.71" y="296.12" width="7.87" height="7.87" fill="#ecc0c3"/>
<rect x="239.58" y="296.12" width="7.87" height="7.87" fill="#ecc2c5"/>
<rect x="247.46" y="296.12" width="7.87" height="7.87" fill="#f2efef"/>
<rect x="255.33" y="296.12" width="7.87" height="7.87" fill="#f0e0e1"/>
<rect x="263.2" y="296.12" width="7.87" height="7.87" fill="#efdadb"/>
<rect x="271.08" y="296.12" width="7.87" height="7.87" fill="#f2eded"/>
<rect x="160.85" y="304" width="7.87" height="7.87" fill="#f2efef"/>
<rect x="168.72" y="304" width="7.87" height="7.87" fill="#efd9da"/>
<rect x="176.6" y="304" width="7.87" height="7.87" fill="#f2f1f1"/>
<rect x="184.47" y="304" width="7.87" height="7.87" fill="#f2eded"/>
<rect x="192.34" y="304" width="7.87" height="7.87" fill="#f2eeee"/>
<rect x="200.22" y="304" width="7.87" height="7.87" fill="#efdbdd"/>
<rect x="208.09" y="304" width="7.87" height="7.87" fill="#f2eeee"/>
<rect x="215.96" y="304" width="7.87" height="7.87" fill="#e27981"/>
<rect x="223.84" y="304" width="7.87" height="7.87" fill="#f2eded"/>
<rect x="231.71" y="304" width="7.87" height="7.87" fill="#f2eeee"/>
<rect x="239.58" y="304" width="7.87" height="7.87" fill="#f2eeee"/>
<rect x="247.46" y="304" width="7.87" height="7.87" fill="#f0e3e3"/>
<rect x="255.33" y="304" width="7.87" height="7.87" fill="#f2eeee"/>
<rect x="263.2" y="304" width="7.87" height="7.87" fill="#f0e3e3"/>
<rect x="271.08" y="304" width="7.87" height="7.87" fill="#edc9cb"/>
<rect x="160.85" y="311.87" width="7.87" height="7.87" fill="#ecc3c6"/>
<rect x="168.72" y="311.87" width="7.87" height="7.87" fill="#f1e7e7"/>
<rect x="176.6" y="311.87" width="7.87" height="7.87" fill="#f2eded"/>
<rect x="184.47" y="311.87" width="7.87" height="7.87" fill="#f2f1f1"/>
<rect x="192.34" y="311.87" width="7.87" height="7.87" fill="#f0ddde"/>
<rect x="200.22" y="311.87" width="7.87" height="7.87" fill="#f2efef"/>
<rect x="208.09" y="311.87" width="7.87" height="7.87" fill="#f2efef"/>
<rect x="215.96" y="311.87" width="7.87" height="7.87" fill="#f1e8e9"/>
<rect x="223.84" y="311.87" width="7.87" height="7.87" fill="#ebbbbe"/>
<rect x="231.71" y="311.87" width="7.87" height="7.87" fill="#edc9cb"/>
<rect x="239.58" y="311.87" width="7.87" height="7.87" fill="#ebb8bb"/>
<rect x="247.46" y="311.87" width="7.87" height="7.87" fill="#f0e3e3"/>
<rect x="255.33" y="311.87" width="7.87" height="7.87" fill="#f1e8e9"/>
<rect x="263.2" y="311.87" width="7.87" height="7.87" fill="#f2efef"/>
<rect x="271.08" y="311.87" width="7.87" height="7.87" fill="#e9a8ad"/>
<rect x="160.85" y="319.74" width="7.87" height="7.87" fill="#f0e3e3"/>
<rect x="168.72" y="319.74" width="7.87" height="7.87" fill="#f2efef"/>
<rect x="176.6" y="319.74" width="7.87" height="7.87" fill="#f2eeee"/>
<rect x="184.47" y="319.74" width="7.87" height="7.87" fill="#f0ddde"/>
<rect x="192.34" y="319.74" width="7.87" height="7.87" fill="#f2f1f1"/>
<rect x="200.22" y="319.74" width="7.87" height="7.87" fill="#efdbdd"/>
<rect x="208.09" y="319.74" width="7.87" height="7.87" fill="#edc9cb"/>
<rect x="215.96" y="319.74" width="7.87" height="7.87" fill="#efdbdd"/>
<rect x="223.84" y="319.74" width="7.87" height="7.87" fill="#f2eded"/>
<rect x="231.71" y="319.74" width="7.87" height="7.87" fill="#f0e3e3"/>
<rect x="239.58" y="319.74" width="7.87" height="7.87" fill="#f2eeee"/>
<rect x="247.46" y="319.74" width="7.87" height="7.87" fill="#f2efef"/>
<rect x="255.33" y="319.74" width="7.87" height="7.87" fill="#efd6d7"/>
<rect x="263.2" y="319.74" width="7.87" height="7.87" fill="#f1e7e7"/>
<rect x="271.08" y="319.74" width="7.87" height="7.87" fill="#f0e3e3"/>
<rect x="160.85" y="327.62" width="7.87" height="7.87" fill="#efdbdd"/>
<rect x="168.72" y="327.62" width="7.87" height="7.87" fill="#efd9da"/>
<rect x="176.6" y="327.62" width="7.87" height="7.87" fill="#efdbdd"/>
<rect x="184.47" y="327.62" width="7.87" height="7.87" fill="#f2efef"/>
<rect x="192.34" y="327.62" width="7.87" height="7.87" fill="#efdbdd"/>
<rect x="200.22" y="327.62" width="7.87" height="7.87" fill="#f2f1f1"/>
<rect x="208.09" y="327.62" width="7.87" height="7.87" fill="#efd9da"/>
<rect x="215.96" y="327.62" width="7.87" height="7.87" fill="#f0e3e3"/>
<rect x="223.84" y="327.62" width="7.87" height="7.87" fill="#efd9da"/>
<rect x="231.71" y="327.62" width="7.87" height="7.87" fill="#edc9cb"/>
<rect x="239.58" y="327.62" width="7.87" height="7.87" fill="#efdbdd"/>
<rect x="247.46" y="327.62" width="7.87" height="7.87" fill="#efdadb"/>
<rect x="255.33" y="327.62" width="7.87" height="7.87" fill="#f0e0e1"/>
<rect x="263.2" y="327.62" width="7.87" height="7.87" fill="#f0e3e3"/>
<rect x="271.08" y="327.62" width="7.87" height="7.87" fill="#f1eaea"/>
<rect x="160.85" y="335.49" width="7.87" height="7.87" fill="#ecbfc2"/>
<rect x="168.72" y="335.49" width="7.87" height="7.87" fill="#edc6c9"/>
<rect x="176.6" y="335.49" width="7.87" height="7.87" fill="#f2eeee"/>
<rect x="184.47" y="335.49" width="7.87" height="7.87" fill="#f2efef"/>
<rect x="192.34" y="335.49" width="7.87" height="7.87" fill="#edc9cb"/>
<rect x="200.22" y="335.49" width="7.87" height="7.87" fill="#efd6d7"/>
<rect x="208.09" y="335.49" width="7.87" height="7.87" fill="#f2f1f1"/>
<rect x="215.96" y="335.49" width="7.87" height="7.87" fill="#f1eaea"/>
<rect x="223.84" y="335.49" width="7.87" height="7.87" fill="#f2eded"/>
<rect x="231.71" y="335.49" width="7.87" height="7.87" fill="#efdbdd"/>
<rect x="239.58" y="335.49" width="7.87" height="7.87" fill="#f1e7e7"/>
<rect x="247.46" y="335.49" width="7.87" height="7.87" fill="#f2eded"/>
<rect x="255.33" y="335.49" width="7.87" height="7.87" fill="#f1eaea"/>
<rect x="263.2" y="335.49" width="7.87" height="7.87" fill="#f1e8e9"/>
<rect x="271.08" y="335.49" width="7.87" height="7.87" fill="#f2eded"/>
<rect x="160.85" y="343.36" width="7.87" height="7.87" fill="#f0e0e1"/>
<rect x="168.72" y="343.36" width="7.87" height="7.87" fill="#efdbdd"/>
<rect x="176.6" y="343.36" width="7.87" height="7.87" fill="#e27981"/>
<rect x="184.47" y="343.36" width="7.87" height="7.87" fill="#f1e8e9"/>
<rect x="192.34" y="343.36" width="7.87" height="7.87" fill="#efdbdd"/>
<rect x="200.22" y="343.36" width="7.87" height="7.87" fill="#f0e3e3"/>
<rect x="208.09" y="343.36" width="7.87" height="7.87" fill="#f1e7e7"/>
<rect x="215.96" y="343.36" width="7.87" height="7.87" fill="#f2f1f1"/>
<rect x="223.84" y="343.36" width="7.87" height="7.87" fill="#f2efef"/>
<rect x="231.71" y="343.36" width="7.87" height="7.87" fill="#f0e0e1"/>
<rect x="239.58" y="343.36" width="7.87" height="7.87" fill="#f2eded"/>
<rect x="247.46" y="343.36" width="7.87" height="7.87" fill="#f0e0e1"/>
<rect x="255.33" y="343.36" width="7.87" height="7.87" fill="#f2efef"/>
<rect x="263.2" y="343.36" width="7.87" height="7.87" fill="#ebbbbe"/>
<rect x="271.08" y="343.36" width="7.87" height="7.87" fill="#ecc3c6"/>
<rect x="160.85" y="351.24" width="7.87" height="7.87" fill="#edc9cb"/>
<rect x="168.72" y="351.24" width="7.87" height="7.87" fill="#f0e3e3"/>
<rect x="176.6" y="351.24" width="7.87" height="7.87" fill="#f2eded"/>
<rect x="184.47" y="351.24" width="7.87" height="7.87" fill="#ebbbbe"/>
<rect x="192.34" y="351.24" width="7.87" height="7.87" fill="#f2eeee"/>
<rect x="200.22" y="351.24" width="7.87" height="7.87" fill="#efd9da"/>
<rect x="208.09" y="351.24" width="7.87" height="7.87" fill="#f2eeee"/>
<rect x="215.96" y="351.24" width="7.87" height="7.87" fill="#f2efef"/>
<rect x="223.84" y="351.24" width="7.87" height="7.87" fill="#f2f1f1"/>
<rect x="231.71" y="351.24" width="7.87" height="7.87" fill="#f2eded"/>
<rect x="239.58" y="351.24" width="7.87" height="7.87" fill="#f1eaea"/>
<rect x="247.46" y="351.24" width="7.87" height="7.87" fill="#f0e3e3"/>
<rect x="255.33" y="351.24" width="7.87" height="7.87" fill="#efd9da"/>
<rect x="263.2" y="351.24" width="7.87" height="7.87" fill="#f0e0e1"/>
<rect x="271.08" y="351.24" width="7.87" height="7.87" fill="#efd9da"/>
<rect x="160.85" y="359.11" width="7.87" height="7.87" fill="#edc6c9"/>
<rect x="168.72" y="359.11" width="7.87" height="7.87" fill="#ecc0c3"/>
<rect x="176.6" y="359.11" width="7.87" height="7.87" fill="#f2eeee"/>
<rect x="184.47" y="359.11" width="7.87" height="7.87" fill="#edc9cb"/>
<rect x="192.34" y="359.11" width="7.87" height="7.87" fill="#f0e3e3"/>
<rect x="200.22" y="359.11" width="7.87" height="7.87" fill="#ecc3c6"/>
<rect x="208.09" y="359.11" width="7.87" height="7.87" fill="#ecbfc2"/>
<rect x="215.96" y="359.11" width="7.87" height="7.87" fill="#efdbdd"/>
<rect x="223.84" y="359.11" width="7.87" height="7.87" fill="#f0e3e3"/>
<rect x="231.71" y="359.11" width="7.87" height="7.87" fill="#f2f1f1"/>
<rect x="239.58" y="359.11" width="7.87" height="7.87" fill="#f0e0e1"/>
<rect x="247.46" y="359.11" width="7.87" height="7.87" fill="#eecdcf"/>
<rect x="255.33" y="359.11" width="7.87" height="7.87" fill="#eed0d2"/>
<rect x="263.2" y="359.11" width="7.87" height="7.87" fill="#edc6c9"/>
<rect x="271.08" y="359.11" width="7.87" height="7.87" fill="#f2eded"/>
<rect x="160.85" y="366.98" width="7.87" height="7.87" fill="#edc6c9"/>
<rect x="168.72" y="366.98" width="7.87" height="7.87" fill="#ecc2c5"/>
<rect x="176.6" y="366.98" width="7.87" height="7.87" fill="#f2eeee"/>
<rect x="184.47" y="366.98" width="7.87" height="7.87" fill="#ebb8bb"/>
<rect x="192.34" y="366.98" width="7.87" height="7.87" fill="#f2eeee"/>
<rect x="200.22" y="366.98" width="7.87" height="7.87" fill="#efd9da"/>
<rect x="208.09" y="366.98" width="7.87" height="7.87" fill="#f2eded"/>
<rect x="215.96" y="366.98" width="7.87" height="7.87" fill="#f2eded"/>
<rect x="223.84" y="366.98" width="7.87" height="7.87" fill="#efdbdd"/>
<rect x="231.71" y="366.98" width="7.87" height="7.87" fill="#f0e3e3"/>
<rect x="239.58" y="366.98" width="7.87" height="7.87" fill="#f2f1f1"/>
<rect x="247.46" y="366.98" width="7.87" height="7.87" fill="#efdbdd"/>
<rect x="255.33" y="366.98" width="7.87" height="7.87" fill="#f0e3e3"/>
<rect x="263.2" y="366.98" width="7.87" height="7.87" fill="#eed3d5"/>
<rect x="271.08" y="366.98" width="7.87" height="7.87" fill="#eed0d2"/>
<rect x="160.85" y="374.86" width="7.87" height="7.87" fill="#efd6d7"/>
<rect x="168.72" y="374.86" width="7.87" height="7.87" fill="#f2efef"/>
<rect x="176.6" y="374.86" width="7.87" height="7.87" fill="#f0e3e3"/>
<rect x="184.47" y="374.86" width="7.87" height="7.87" fill="#f0e3e3"/>
<rect x="192.34" y="374.86" width="7.87" height="7.87" fill="#f2efef"/>
<rect x="200.22" y="374.86" width="7.87" height="7.87" fill="#efdadb"/>
<rect x="208.09" y="374.86" width="7.87" height="7.87" fill="#f2efef"/>
<rect x="215.96" y="374.86" width="7.87" height="7.87" fill="#f2efef"/>
<rect x="223.84" y="374.86" width="7.87" height="7.87" fill="#f2efef"/>
<rect x="231.71" y="374.86" width="7.87" height="7.87" fill="#f2efef"/>
<rect x="239.58" y="374.86" width="7.87" height="7.87" fill="#f2efef"/>
<rect x="247.46" y="374.86" width="7.87" height="7.87" fill="#f2f1f1"/>
<rect x="255.33" y="374.86" width="7.87" height="7.87" fill="#f2efef"/>
<rect x="263.2" y="374.86" width="7.87" height="7.87" fill="#e9acb1"/>
<rect x="271.08" y="374.86" width="7.87" height="7.87" fill="#f1e7e7"/>
<rect x="160.85" y="382.73" width="7.87" height="7.87" fill="#f0e0e1"/>
<rect x="168.72" y="382.73" width="7.87" height="7.87" fill="#f0e0e1"/>
<rect x="176.6" y="382.73" width="7.87" height="7.87" fill="#f2eeee"/>
<rect x="184.47" y="382.73" width="7.87" height="7.87" fill="#f1e8e9"/>
<rect x="192.34" y="382.73" width="7.87" height="7.87" fill="#efd6d7"/>
<rect x="200.22" y="382.73" width="7.87" height="7.87" fill="#f0e0e1"/>
<rect x="208.09" y="382.73" width="7.87" height="7.87" fill="#f2efef"/>
<rect x="215.96" y="382.73" width="7.87" height="7.87" fill="#f2efef"/>
<rect x="223.84" y="382.73" width="7.87" height="7.87" fill="#f1e8e9"/>
<rect x="231.71" y="382.73" width="7.87" height="7.87" fill="#f1e7e7"/>
<rect x="239.58" y="382.73" width="7.87" height="7.87" fill="#f2efef"/>
<rect x="247.46" y="382.73" width="7.87" height="7.87" fill="#f2eded"/>
<rect x="255.33" y="382.73" width="7.87" height="7.87" fill="#f2f1f1"/>
<rect x="263.2" y="382.73" width="7.87" height="7.87" fill="#f2eeee"/>
<rect x="271.08" y="382.73" width="7.87" height="7.87" fill="#f1e8e9"/>
<rect x="160.85" y="390.6" width="7.87" height="7.87" fill="#f0e3e3"/>
<rect x="168.72" y="390.6" width="7.87" height="7.87" fill="#efdadb"/>
<rect x="176.6" y="390.6" width="7.87" height="7.87" fill="#f0e3e3"/>
<rect x="184.47" y="390.6" width="7.87" height="7.87" fill="#f2efef"/>
<rect x="192.34" y="390.6" width="7.87" height="7.87" fill="#f1e7e7"/>
<rect x="200.22" y="390.6" width="7.87" height="7.87" fill="#f0e3e3"/>
<rect x="208.09" y="390.6" width="7.87" height="7.87" fill="#f2eded"/>
<rect x="215.96" y="390.6" width="7.87" height="7.87" fill="#f1eaea"/>
<rect x="223.84" y="390.6" width="7.87" height="7.87" fill="#f2eeee"/>
<rect x="231.71" y="390.6" width="7.87" height="7.87" fill="#f2efef"/>
<rect x="239.58" y="390.6" width="7.87" height="7.87" fill="#f2efef"/>
<rect x="247.46" y="390.6" width="7.87" height="7.87" fill="#f2efef"/>
<rect x="255.33" y="390.6" width="7.87" height="7.87" fill="#f2efef"/>
<rect x="263.2" y="390.6" width="7.87" height="7.87" fill="#f2f1f1"/>
<rect x="271.08" y="390.6" width="7.87" height="7.87" fill="#f0e3e3"/>
<rect x="160.85" y="398.48" width="7.87" height="7.87" fill="#eed3d5"/>
<rect x="168.72" y="398.48" width="7.87" height="7.87" fill="#f2eded"/>
<rect x="176.6" y="398.48" width="7.87" height="7.87" fill="#edc9cb"/>
<rect x="184.47" y="398.48" width="7.87" height="7.87" fill="#e9a8ad"/>
<rect x="192.34" y="398.48" width="7.87" height="7.87" fill="#f0e3e3"/>
<rect x="200.22" y="398.48" width="7.87" height="7.87" fill="#f2eeee"/>
<rect x="208.09" y="398.48" width="7.87" height="7.87" fill="#f1eaea"/>
<rect x="215.96" y="398.48" width="7.87" height="7.87" fill="#ecc3c6"/>
<rect x="223.84" y="398.48" width="7.87" height="7.87" fill="#efd9da"/>
<rect x="231.71" y="398.48" width="7.87" height="7.87" fill="#f1e7e7"/>
<rect x="239.58" y="398.48" width="7.87" height="7.87" fill="#eed0d2"/>
<rect x="247.46" y="398.48" width="7.87" height="7.87" fill="#f1e7e7"/>
<rect x="255.33" y="398.48" width="7.87" height="7.87" fill="#f1e8e9"/>
<rect x="263.2" y="398.48" width="7.87" height="7.87" fill="#f0e3e3"/>
<rect x="271.08" y="398.48" width="7.87" height="7.87" fill="#f2f1f1"/>
<rect x="160.85" y="288.25" width="118.1" height="118.1" fill="none" stroke="#262626" stroke-width="2.5"/>
</g>
<g>
<rect x="293.45" y="288.25" width="11.81" height="11.81" fill="#f2f1f1"/>
<rect x="305.26" y="288.25" width="11.81" height="11.81" fill="#f1e7e7"/>
<rect x="317.07" y="288.25" width="11.81" height="11.81" fill="#f1eaea"/>
<rect x="328.88" y="288.25" width="11.81" height="11.81" fill="#f2efef"/>
<rect x="340.69" y="288.25" width="11.81" height="11.81" fill="#ecbfc2"/>
<rect x="352.5" y="288.25" width="11.81" height="11.81" fill="#ecc3c6"/>
<rect x="364.31" y="288.25" width="11.81" height="11.81" fill="#eed3d5"/>
<rect x="376.12" y="288.25" width="11.81" height="11.81" fill="#f1e7e7"/>
<rect x="387.93" y="288.25" width="11.81" height="11.81" fill="#eecdcf"/>
<rect x="399.74" y="288.25" width="11.81" height="11.81" fill="#f2eeee"/>
<rect x="293.45" y="300.06" width="11.81" height="11.81" fill="#f1e7e7"/>
<rect x="305.26" y="300.06" width="11.81" height="11.81" fill="#f2f1f1"/>
<rect x="317.07" y="300.06" width="11.81" height="11.81" fill="#efdadb"/>
<rect x="328.88" y="300.06" width="11.81" height="11.81" fill="#ebbbbe"/>
<rect x="340.69" y="300.06" width="11.81" height="11.81" fill="#e79a9f"/>
<rect x="352.5" y="300.06" width="11.81" height="11.81" fill="#eab2b6"/>
<rect x="364.31" y="300.06" width="11.81" height="11.81" fill="#efdbdd"/>
<rect x="376.12" y="300.06" width="11.81" height="11.81" fill="#ecc3c6"/>
<rect x="387.93" y="300.06" width="11.81" height="11.81" fill="#edc9cb"/>
<rect x="399.74" y="300.06" width="11.81" height="11.81" fill="#e8a5aa"/>
<rect x="293.45" y="311.87" width="11.81" height="11.81" fill="#f1eaea"/>
<rect x="305.26" y="311.87" width="11.81" height="11.81" fill="#efdadb"/>
<rect x="317.07" y="311.87" width="11.81" height="11.81" fill="#f2f1f1"/>
<rect x="328.88" y="311.87" width="11.81" height="11.81" fill="#f2f1f1"/>
<rect x="340.69" y="311.87" width="11.81" height="11.81" fill="#eed0d2"/>
<rect x="352.5" y="311.87" width="11.81" height="11.81" fill="#e8a5aa"/>
<rect x="364.31" y="311.87" width="11.81" height="11.81" fill="#eecdcf"/>
<rect x="376.12" y="311.87" width="11.81" height="11.81" fill="#ecbfc2"/>
<rect x="387.93" y="311.87" width="11.81" height="11.81" fill="#efd6d7"/>
<rect x="399.74" y="311.87" width="11.81" height="11.81" fill="#f0e0e1"/>
<rect x="293.45" y="323.68" width="11.81" height="11.81" fill="#f2efef"/>
<rect x="305.26" y="323.68" width="11.81" height="11.81" fill="#ebbbbe"/>
<rect x="317.07" y="323.68" width="11.81" height="11.81" fill="#f2f1f1"/>
<rect x="328.88" y="323.68" width="11.81" height="11.81" fill="#f2f1f1"/>
<rect x="340.69" y="323.68" width="11.81" height="11.81" fill="#efdbdd"/>
<rect x="352.5" y="323.68" width="11.81" height="11.81" fill="#ebb8bb"/>
<rect x="364.31" y="323.68" width="11.81" height="11.81" fill="#ebbbbe"/>
<rect x="376.12" y="323.68" width="11.81" height="11.81" fill="#ebbbbe"/>
<rect x="387.93" y="323.68" width="11.81" height="11.81" fill="#f1e7e7"/>
<rect x="399.74" y="323.68" width="11.81" height="11.81" fill="#f1eaea"/>
<rect x="293.45" y="335.49" width="11.81" height="11.81" fill="#ecbfc2"/>
<rect x="305.26" y="335.49" width="11.81" height="11.81" fill="#e79a9f"/>
<rect x="317.07" y="335.49" width="11.81" height="11.81" fill="#eed0d2"/>
<rect x="328.88" y="335.49" width="11.81" height="11.81" fill="#efdbdd"/>
<rect x="340.69" y="335.49" width="11.81" height="11.81" fill="#f2f1f1"/>
<rect x="352.5" y="335.49" width="11.81" height="11.81" fill="#f2eeee"/>
<rect x="364.31" y="335.49" width="11.81" height="11.81" fill="#f2eded"/>
<rect x="376.12" y="335.49" width="11.81" height="11.81" fill="#f1e5e6"/>
<rect x="387.93" y="335.49" width="11.81" height="11.81" fill="#f1e7e7"/>
<rect x="399.74" y="335.49" width="11.81" height="11.81" fill="#f1eaea"/>
<rect x="293.45" y="347.3" width="11.81" height="11.81" fill="#ecc3c6"/>
<rect x="305.26" y="347.3" width="11.81" height="11.81" fill="#eab5b9"/>
<rect x="317.07" y="347.3" width="11.81" height="11.81" fill="#e8a5aa"/>
<rect x="328.88" y="347.3" width="11.81" height="11.81" fill="#ebbbbe"/>
<rect x="340.69" y="347.3" width="11.81" height="11.81" fill="#f1e7e7"/>
<rect x="352.5" y="347.3" width="11.81" height="11.81" fill="#f2f1f1"/>
<rect x="364.31" y="347.3" width="11.81" height="11.81" fill="#f2eeee"/>
<rect x="376.12" y="347.3" width="11.81" height="11.81" fill="#f2eded"/>
<rect x="387.93" y="347.3" width="11.81" height="11.81" fill="#f2eded"/>
<rect x="399.74" y="347.3" width="11.81" height="11.81" fill="#f2efef"/>
<rect x="293.45" y="359.11" width="11.81" height="11.81" fill="#eed3d5"/>
<rect x="305.26" y="359.11" width="11.81" height="11.81" fill="#efdbdd"/>
<rect x="317.07" y="359.11" width="11.81" height="11.81" fill="#eecdcf"/>
<rect x="328.88" y="359.11" width="11.81" height="11.81" fill="#ebbbbe"/>
<rect x="340.69" y="359.11" width="11.81" height="11.81" fill="#f1e8e9"/>
<rect x="352.5" y="359.11" width="11.81" height="11.81" fill="#f2eded"/>
<rect x="364.31" y="359.11" width="11.81" height="11.81" fill="#f2f1f1"/>
<rect x="376.12" y="359.11" width="11.81" height="11.81" fill="#eecdcf"/>
<rect x="387.93" y="359.11" width="11.81" height="11.81" fill="#ecc3c6"/>
<rect x="399.74" y="359.11" width="11.81" height="11.81" fill="#e79fa5"/>
<rect x="293.45" y="370.92" width="11.81" height="11.81" fill="#f1e7e7"/>
<rect x="305.26" y="370.92" width="11.81" height="11.81" fill="#ecc3c6"/>
<rect x="317.07" y="370.92" width="11.81" height="11.81" fill="#ecbfc2"/>
<rect x="328.88" y="370.92" width="11.81" height="11.81" fill="#ebbbbe"/>
<rect x="340.69" y="370.92" width="11.81" height="11.81" fill="#f0e3e3"/>
<rect x="352.5" y="370.92" width="11.81" height="11.81" fill="#f2eeee"/>
<rect x="364.31" y="370.92" width="11.81" height="11.81" fill="#eecdcf"/>
<rect x="376.12" y="370.92" width="11.81" height="11.81" fill="#f2f1f1"/>
<rect x="387.93" y="370.92" width="11.81" height="11.81" fill="#edc9cb"/>
<rect x="399.74" y="370.92" width="11.81" height="11.81" fill="#e79a9f"/>
<rect x="293.45" y="382.73" width="11.81" height="11.81" fill="#eecdcf"/>
<rect x="305.26" y="382.73" width="11.81" height="11.81" fill="#edc9cb"/>
<rect x="317.07" y="382.73" width="11.81" height="11.81" fill="#efd6d7"/>
<rect x="328.88" y="382.73" width="11.81" height="11.81" fill="#f1e7e7"/>
<rect x="340.69" y="382.73" width="11.81" height="11.81" fill="#f1e7e7"/>
<rect x="352.5" y="382.73" width="11.81" height="11.81" fill="#f2eded"/>
<rect x="364.31" y="382.73" width="11.81" height="11.81" fill="#eed0d2"/>
<rect x="376.12" y="382.73" width="11.81" height="11.81" fill="#efd4d6"/>
<rect x="387.93" y="382.73" width="11.81" height="11.81" fill="#f2f1f1"/>
<rect x="399.74" y="382.73" width="11.81" height="11.81" fill="#e58c93"/>
<rect x="293.45" y="394.54" width="11.81" height="11.81" fill="#f2eeee"/>
<rect x="305.26" y="394.54" width="11.81" height="11.81" fill="#e8a5aa"/>
<rect x="317.07" y="394.54" width="11.81" height="11.81" fill="#f0e0e1"/>
<rect x="328.88" y="394.54" width="11.81" height="11.81" fill="#f1eaea"/>
<rect x="340.69" y="394.54" width="11.81" height="11.81" fill="#f1eaea"/>
<rect x="352.5" y="394.54" width="11.81" height="11.81" fill="#f2efef"/>
<rect x="364.31" y="394.54" width="11.81" height="11.81" fill="#e79fa5"/>
<rect x="376.12" y="394.54" width="11.81" height="11.81" fill="#e79ba1"/>
<rect x="387.93" y="394.54" width="11.81" height="11.81" fill="#e58c93"/>
<rect x="399.74" y="394.54" width="11.81" height="11.81" fill="#f2f1f1"/>
<rect x="293.45" y="288.25" width="118.1" height="118.1" fill="none" stroke="#262626" stroke-width="2.5"/>
</g>
<g>
<rect x="426.05" y="288.25" width="13.12" height="13.12" fill="#f2f1f1"/>
<rect x="439.17" y="288.25" width="13.12" height="13.12" fill="#eed0d2"/>
<rect x="452.29" y="288.25" width="13.12" height="13.12" fill="#efd6d7"/>
<rect x="465.42" y="288.25" width="13.12" height="13.12" fill="#eed3d5"/>
<rect x="478.54" y="288.25" width="13.12" height="13.12" fill="#f1eaea"/>
<rect x="491.66" y="288.25" width="13.12" height="13.12" fill="#f0ddde"/>
<rect x="504.78" y="288.25" width="13.12" height="13.12" fill="#f2eded"/>
<rect x="517.91" y="288.25" width="13.12" height="13.12" fill="#f2eded"/>
<rect x="531.03" y="288.25" width="13.12" height="13.12" fill="#f1e5e6"/>
<rect x="426.05" y="301.37" width="13.12" height="13.12" fill="#eed0d2"/>
<rect x="439.17" y="301.37" width="13.12" height="13.12" fill="#f2f1f1"/>
<rect x="452.29" y="301.37" width="13.12" height="13.12" fill="#f1e7e7"/>
<rect x="465.42" y="301.37" width="13.12" height="13.12" fill="#f1e8e9"/>
<rect x="478.54" y="301.37" width="13.12" height="13.12" fill="#eecdcf"/>
<rect x="491.66" y="301.37" width="13.12" height="13.12" fill="#f2eded"/>
<rect x="504.78" y="301.37" width="13.12" height="13.12" fill="#efd9da"/>
<rect x="517.91" y="301.37" width="13.12" height="13.12" fill="#efdadb"/>
<rect x="531.03" y="301.37" width="13.12" height="13.12" fill="#eed3d5"/>
<rect x="426.05" y="314.49" width="13.12" height="13.12" fill="#efd6d7"/>
<rect x="439.17" y="314.49" width="13.12" height="13.12" fill="#f1e7e7"/>
<rect x="452.29" y="314.49" width="13.12" height="13.12" fill="#f2f1f1"/>
<rect x="465.42" y="314.49" width="13.12" height="13.12" fill="#da3b46"/>
<rect x="478.54" y="314.49" width="13.12" height="13.12" fill="#f2efef"/>
<rect x="491.66" y="314.49" width="13.12" height="13.12" fill="#f0e1e2"/>
<rect x="504.78" y="314.49" width="13.12" height="13.12" fill="#efd4d6"/>
<rect x="517.91" y="314.49" width="13.12" height="13.12" fill="#f1eaea"/>
<rect x="531.03" y="314.49" width="13.12" height="13.12" fill="#edc9cb"/>
<rect x="426.05" y="327.62" width="13.12" height="13.12" fill="#eed3d5"/>
<rect x="439.17" y="327.62" width="13.12" height="13.12" fill="#f1e8e9"/>
<rect x="452.29" y="327.62" width="13.12" height="13.12" fill="#da3b46"/>
<rect x="465.42" y="327.62" width="13.12" height="13.12" fill="#f2f1f1"/>
<rect x="478.54" y="327.62" width="13.12" height="13.12" fill="#f2f1f1"/>
<rect x="491.66" y="327.62" width="13.12" height="13.12" fill="#ebbbbe"/>
<rect x="504.78" y="327.62" width="13.12" height="13.12" fill="#edc9cb"/>
<rect x="517.91" y="327.62" width="13.12" height="13.12" fill="#efdbdd"/>
<rect x="531.03" y="327.62" width="13.12" height="13.12" fill="#ecc3c6"/>
<rect x="426.05" y="340.74" width="13.12" height="13.12" fill="#f1eaea"/>
<rect x="439.17" y="340.74" width="13.12" height="13.12" fill="#eed0d2"/>
<rect x="452.29" y="340.74" width="13.12" height="13.12" fill="#f2efef"/>
<rect x="465.42" y="340.74" width="13.12" height="13.12" fill="#f2f1f1"/>
<rect x="478.54" y="340.74" width="13.12" height="13.12" fill="#f2f1f1"/>
<rect x="491.66" y="340.74" width="13.12" height="13.12" fill="#e6959b"/>
<rect x="504.78" y="340.74" width="13.12" height="13.12" fill="#eed3d5"/>
<rect x="517.91" y="340.74" width="13.12" height="13.12" fill="#eed3d5"/>
<rect x="531.03" y="340.74" width="13.12" height="13.12" fill="#f1e5e6"/>
<rect x="426.05" y="353.86" width="13.12" height="13.12" fill="#f0ddde"/>
<rect x="439.17" y="353.86" width="13.12" height="13.12" fill="#f2eded"/>
<rect x="452.29" y="353.86" width="13.12" height="13.12" fill="#f0e1e2"/>
<rect x="465.42" y="353.86" width="13.12" height="13.12" fill="#ebbbbe"/>
<rect x="478.54" y="353.86" width="13.12" height="13.12" fill="#e69298"/>
<rect x="491.66" y="353.86" width="13.12" height="13.12" fill="#f2f1f1"/>
<rect x="504.78" y="353.86" width="13.12" height="13.12" fill="#e48990"/>
<rect x="517.91" y="353.86" width="13.12" height="13.12" fill="#e58c93"/>
<rect x="531.03" y="353.86" width="13.12" height="13.12" fill="#e06770"/>
<rect x="426.05" y="366.98" width="13.12" height="13.12" fill="#f2eded"/>
<rect x="439.17" y="366.98" width="13.12" height="13.12" fill="#efdadb"/>
<rect x="452.29" y="366.98" width="13.12" height="13.12" fill="#efd4d6"/>
<rect x="465.42" y="366.98" width="13.12" height="13.12" fill="#edc9cb"/>
<rect x="478.54" y="366.98" width="13.12" height="13.12" fill="#eed0d2"/>
<rect x="491.66" y="366.98" width="13.12" height="13.12" fill="#e48990"/>
<rect x="504.78" y="366.98" width="13.12" height="13.12" fill="#f2f1f1"/>
<rect x="517.91" y="366.98" width="13.12" height="13.12" fill="#f1e5e6"/>
<rect x="531.03" y="366.98" width="13.12" height="13.12" fill="#f1eaea"/>
<rect x="426.05" y="380.11" width="13.12" height="13.12" fill="#f2eded"/>
<rect x="439.17" y="380.11" width="13.12" height="13.12" fill="#efdadb"/>
<rect x="452.29" y="380.11" width="13.12" height="13.12" fill="#f1eaea"/>
<rect x="465.42" y="380.11" width="13.12" height="13.12" fill="#efdbdd"/>
<rect x="478.54" y="380.11" width="13.12" height="13.12" fill="#eed0d2"/>
<rect x="491.66" y="380.11" width="13.12" height="13.12" fill="#e48990"/>
<rect x="504.78" y="380.11" width="13.12" height="13.12" fill="#f0e3e3"/>
<rect x="517.91" y="380.11" width="13.12" height="13.12" fill="#f2f1f1"/>
<rect x="531.03" y="380.11" width="13.12" height="13.12" fill="#f2eeee"/>
<rect x="426.05" y="393.23" width="13.12" height="13.12" fill="#f1e5e6"/>
<rect x="439.17" y="393.23" width="13.12" height="13.12" fill="#efd4d6"/>
<rect x="452.29" y="393.23" width="13.12" height="13.12" fill="#edc9cb"/>
<rect x="465.42" y="393.23" width="13.12" height="13.12" fill="#ecc3c6"/>
<rect x="478.54" y="393.23" width="13.12" height="13.12" fill="#f1e5e6"/>
<rect x="491.66" y="393.23" width="13.12" height="13.12" fill="#e0656f"/>
<rect x="504.78" y="393.23" width="13.12" height="13.12" fill="#f2eeee"/>
<rect x="517.91" y="393.23" width="13.12" height="13.12" fill="#f2eeee"/>
<rect x="531.03" y="393.23" width="13.12" height="13.12" fill="#f2f1f1"/>
<rect x="426.05" y="288.25" width="118.1" height="118.1" fill="none" stroke="#262626" stroke-width="2.5"/>
</g>
<g>
<rect x="558.65" y="288.25" width="9.84" height="9.84" fill="#f2f1f1"/>
<rect x="568.49" y="288.25" width="9.84" height="9.84" fill="#f2eded"/>
<rect x="578.33" y="288.25" width="9.84" height="9.84" fill="#f2eeee"/>
<rect x="588.17" y="288.25" width="9.84" height="9.84" fill="#f2efef"/>
<rect x="598.02" y="288.25" width="9.84" height="9.84" fill="#efdbdd"/>
<rect x="607.86" y="288.25" width="9.84" height="9.84" fill="#f2efef"/>
<rect x="617.7" y="288.25" width="9.84" height="9.84" fill="#f2efef"/>
<rect x="627.54" y="288.25" width="9.84" height="9.84" fill="#f0e3e3"/>
<rect x="637.38" y="288.25" width="9.84" height="9.84" fill="#f1e8e9"/>
<rect x="647.23" y="288.25" width="9.84" height="9.84" fill="#f2eded"/>
<rect x="657.07" y="288.25" width="9.84" height="9.84" fill="#f2eeee"/>
<rect x="666.91" y="288.25" width="9.84" height="9.84" fill="#f1e8e9"/>
<rect x="558.65" y="298.09" width="9.84" height="9.84" fill="#f2eded"/>
<rect x="568.49" y="298.09" width="9.84" height="9.84" fill="#f2f1f1"/>
<rect x="578.33" y="298.09" width="9.84" height="9.84" fill="#f1e7e7"/>
<rect x="588.17" y="298.09" width="9.84" height="9.84" fill="#f0e3e3"/>
<rect x="598.02" y="298.09" width="9.84" height="9.84" fill="#ebbbbe"/>
<rect x="607.86" y="298.09" width="9.84" height="9.84" fill="#f2eded"/>
<rect x="617.7" y="298.09" width="9.84" height="9.84" fill="#f1e8e9"/>
<rect x="627.54" y="298.09" width="9.84" height="9.84" fill="#eed3d5"/>
<rect x="637.38" y="298.09" width="9.84" height="9.84" fill="#f2eeee"/>
<rect x="647.23" y="298.09" width="9.84" height="9.84" fill="#f2eeee"/>
<rect x="657.07" y="298.09" width="9.84" height="9.84" fill="#f1eaea"/>
<rect x="666.91" y="298.09" width="9.84" height="9.84" fill="#f1e5e6"/>
<rect x="558.65" y="307.93" width="9.84" height="9.84" fill="#f2eeee"/>
<rect x="568.49" y="307.93" width="9.84" height="9.84" fill="#f1e8e9"/>
<rect x="578.33" y="307.93" width="9.84" height="9.84" fill="#f2f1f1"/>
<rect x="588.17" y="307.93" width="9.84" height="9.84" fill="#efdbdd"/>
<rect x="598.02" y="307.93" width="9.84" height="9.84" fill="#f1e5e6"/>
<rect x="607.86" y="307.93" width="9.84" height="9.84" fill="#f1eaea"/>
<rect x="617.7" y="307.93" width="9.84" height="9.84" fill="#f2eeee"/>
<rect x="627.54" y="307.93" width="9.84" height="9.84" fill="#e38188"/>
<rect x="637.38" y="307.93" width="9.84" height="9.84" fill="#f1e8e9"/>
<rect x="647.23" y="307.93" width="9.84" height="9.84" fill="#f0e0e1"/>
<rect x="657.07" y="307.93" width="9.84" height="9.84" fill="#f1e8e9"/>
<rect x="666.91" y="307.93" width="9.84" height="9.84" fill="#f2eded"/>
<rect x="558.65" y="317.77" width="9.84" height="9.84" fill="#f2efef"/>
<rect x="568.49" y="317.77" width="9.84" height="9.84" fill="#f0e1e2"/>
<rect x="578.33" y="317.77" width="9.84" height="9.84" fill="#efdbdd"/>
<rect x="588.17" y="317.77" width="9.84" height="9.84" fill="#f2f1f1"/>
<rect x="598.02" y="317.77" width="9.84" height="9.84" fill="#e2747c"/>
<rect x="607.86" y="317.77" width="9.84" height="9.84" fill="#f2eded"/>
<rect x="617.7" y="317.77" width="9.84" height="9.84" fill="#f2eded"/>
<rect x="627.54" y="317.77" width="9.84" height="9.84" fill="#de5660"/>
<rect x="637.38" y="317.77" width="9.84" height="9.84" fill="#f2efef"/>
<rect x="647.23" y="317.77" width="9.84" height="9.84" fill="#f2efef"/>
<rect x="657.07" y="317.77" width="9.84" height="9.84" fill="#f1eaea"/>
<rect x="666.91" y="317.77" width="9.84" height="9.84" fill="#ecbfc2"/>
<rect x="558.65" y="327.62" width="9.84" height="9.84" fill="#efdbdd"/>
<rect x="568.49" y="327.62" width="9.84" height="9.84" fill="#ebbbbe"/>
<rect x="578.33" y="327.62" width="9.84" height="9.84" fill="#f0e3e3"/>
<rect x="588.17" y="327.62" width="9.84" height="9.84" fill="#e2747c"/>
<rect x="598.02" y="327.62" width="9.84" height="9.84" fill="#f2f1f1"/>
<rect x="607.86" y="327.62" width="9.84" height="9.84" fill="#f2eded"/>
<rect x="617.7" y="327.62" width="9.84" height="9.84" fill="#f1eaea"/>
<rect x="627.54" y="327.62" width="9.84" height="9.84" fill="#efd6d7"/>
<rect x="637.38" y="327.62" width="9.84" height="9.84" fill="#f1e5e6"/>
<rect x="647.23" y="327.62" width="9.84" height="9.84" fill="#f1eaea"/>
<rect x="657.07" y="327.62" width="9.84" height="9.84" fill="#f2eeee"/>
<rect x="666.91" y="327.62" width="9.84" height="9.84" fill="#f2eded"/>
<rect x="558.65" y="337.46" width="9.84" height="9.84" fill="#f2efef"/>
<rect x="568.49" y="337.46" width="9.84" height="9.84" fill="#f1eaea"/>
<rect x="578.33" y="337.46" width="9.84" height="9.84" fill="#f1eaea"/>
<rect x="588.17" y="337.46" width="9.84" height="9.84" fill="#f1eaea"/>
<rect x="598.02" y="337.46" width="9.84" height="9.84" fill="#f2eded"/>
<rect x="607.86" y="337.46" width="9.84" height="9.84" fill="#f2f1f1"/>
<rect x="617.7" y="337.46" width="9.84" height="9.84" fill="#edc9cb"/>
<rect x="627.54" y="337.46" width="9.84" height="9.84" fill="#f2efef"/>
<rect x="637.38" y="337.46" width="9.84" height="9.84" fill="#f2efef"/>
<rect x="647.23" y="337.46" width="9.84" height="9.84" fill="#f0e3e3"/>
<rect x="657.07" y="337.46" width="9.84" height="9.84" fill="#f2efef"/>
<rect x="666.91" y="337.46" width="9.84" height="9.84" fill="#f2eeee"/>
<rect x="558.65" y="347.3" width="9.84" height="9.84" fill="#f2efef"/>
<rect x="568.49" y="347.3" width="9.84" height="9.84" fill="#f1e8e9"/>
<rect x="578.33" y="347.3" width="9.84" height="9.84" fill="#f2eeee"/>
<rect x="588.17" y="347.3" width="9.84" height="9.84" fill="#f2eded"/>
<rect x="598.02" y="347.3" width="9.84" height="9.84" fill="#f1eaea"/>
<rect x="607.86" y="347.3" width="9.84" height="9.84" fill="#edc9cb"/>
<rect x="617.7" y="347.3" width="9.84" height="9.84" fill="#f2f1f1"/>
<rect x="627.54" y="347.3" width="9.84" height="9.84" fill="#f2eeee"/>
<rect x="637.38" y="347.3" width="9.84" height="9.84" fill="#f2f1f1"/>
<rect x="647.23" y="347.3" width="9.84" height="9.84" fill="#f1e7e7"/>
<rect x="657.07" y="347.3" width="9.84" height="9.84" fill="#f2efef"/>
<rect x="666.91" y="347.3" width="9.84" height="9.84" fill="#f2efef"/>
<rect x="558.65" y="357.14" width="9.84" height="9.84" fill="#f0e3e3"/>
<rect x="568.49" y="357.14" width="9.84" height="9.84" fill="#eed3d5"/>
<rect x="578.33" y="357.14" width="9.84" height="9.84" fill="#e38188"/>
<rect x="588.17" y="357.14" width="9.84" height="9.84" fill="#de5660"/>
<rect x="598.02" y="357.14" width="9.84" height="9.84" fill="#efd6d7"/>
<rect x="607.86" y="357.14" width="9.84" height="9.84" fill="#f2efef"/>
<rect x="617.7" y="357.14" width="9.84" height="9.84" fill="#f2eeee"/>
<rect x="627.54" y="357.14" width="9.84" height="9.84" fill="#f2f1f1"/>
<rect x="637.38" y="357.14" width="9.84" height="9.84" fill="#f2f1f1"/>
<rect x="647.23" y="357.14" width="9.84" height="9.84" fill="#f2f1f1"/>
<rect x="657.07" y="357.14" width="9.84" height="9.84" fill="#f2f1f1"/>
<rect x="666.91" y="357.14" width="9.84" height="9.84" fill="#eecdcf"/>
<rect x="558.65" y="366.98" width="9.84" height="9.84" fill="#f1e8e9"/>
<rect x="568.49" y="366.98" width="9.84" height="9.84" fill="#f2eeee"/>
<rect x="578.33" y="366.98" width="9.84" height="9.84" fill="#f1e8e9"/>
<rect x="588.17" y="366.98" width="9.84" height="9.84" fill="#f2efef"/>
<rect x="598.02" y="366.98" width="9.84" height="9.84" fill="#f0e3e3"/>
<rect x="607.86" y="366.98" width="9.84" height="9.84" fill="#f2efef"/>
<rect x="617.7" y="366.98" width="9.84" height="9.84" fill="#f2f1f1"/>
<rect x="627.54" y="366.98" width="9.84" height="9.84" fill="#f2f1f1"/>
<rect x="637.38" y="366.98" width="9.84" height="9.84" fill="#f2f1f1"/>
<rect x="647.23" y="366.98" width="9.84" height="9.84" fill="#f2f1f1"/>
<rect x="657.07" y="366.98" width="9.84" height="9.84" fill="#f2f1f1"/>
<rect x="666.91" y="366.98" width="9.84" height="9.84" fill="#f2efef"/>
<rect x="558.65" y="376.82" width="9.84" height="9.84" fill="#f2eded"/>
<rect x="568.49" y="376.82" width="9.84" height="9.84" fill="#f2eeee"/>
<rect x="578.33" y="376.82" width="9.84" height="9.84" fill="#f0e0e1"/>
<rect x="588.17" y="376.82" width="9.84" height="9.84" fill="#f2efef"/>
<rect x="598.02" y="376.82" width="9.84" height="9.84" fill="#f1eaea"/>
<rect x="607.86" y="376.82" width="9.84" height="9.84" fill="#f1e5e6"/>
<rect x="617.7" y="376.82" width="9.84" height="9.84" fill="#f1e7e7"/>
<rect x="627.54" y="376.82" width="9.84" height="9.84" fill="#f2f1f1"/>
<rect x="637.38" y="376.82" width="9.84" height="9.84" fill="#f2f1f1"/>
<rect x="647.23" y="376.82" width="9.84" height="9.84" fill="#f2f1f1"/>
<rect x="657.07" y="376.82" width="9.84" height="9.84" fill="#f2f1f1"/>
<rect x="666.91" y="376.82" width="9.84" height="9.84" fill="#f2efef"/>
<rect x="558.65" y="386.67" width="9.84" height="9.84" fill="#f2eeee"/>
<rect x="568.49" y="386.67" width="9.84" height="9.84" fill="#f1eaea"/>
<rect x="578.33" y="386.67" width="9.84" height="9.84" fill="#f1e8e9"/>
<rect x="588.17" y="386.67" width="9.84" height="9.84" fill="#f1eaea"/>
<rect x="598.02" y="386.67" width="9.84" height="9.84" fill="#f2efef"/>
<rect x="607.86" y="386.67" width="9.84" height="9.84" fill="#f2efef"/>
<rect x="617.7" y="386.67" width="9.84" height="9.84" fill="#f2efef"/>
<rect x="627.54" y="386.67" width="9.84" height="9.84" fill="#f2f1f1"/>
<rect x="637.38" y="386.67" width="9.84" height="9.84" fill="#f2f1f1"/>
<rect x="647.23" y="386.67" width="9.84" height="9.84" fill="#f2f1f1"/>
<rect x="657.07" y="386.67" width="9.84" height="9.84" fill="#f2f1f1"/>
<rect x="666.91" y="386.67" width="9.84" height="9.84" fill="#edc9cb"/>
<rect x="558.65" y="396.51" width="9.84" height="9.84" fill="#f1e8e9"/>
<rect x="568.49" y="396.51" width="9.84" height="9.84" fill="#f0e3e3"/>
<rect x="578.33" y="396.51" width="9.84" height="9.84" fill="#f2eeee"/>
<rect x="588.17" y="396.51" width="9.84" height="9.84" fill="#ecbfc2"/>
<rect x="598.02" y="396.51" width="9.84" height="9.84" fill="#f2eded"/>
<rect x="607.86" y="396.51" width="9.84" height="9.84" fill="#f2eeee"/>
<rect x="617.7" y="396.51" width="9.84" height="9.84" fill="#f2efef"/>
<rect x="627.54" y="396.51" width="9.84" height="9.84" fill="#edc9cb"/>
<rect x="637.38" y="396.51" width="9.84" height="9.84" fill="#f2efef"/>
<rect x="647.23" y="396.51" width="9.84" height="9.84" fill="#f2eeee"/>
<rect x="657.07" y="396.51" width="9.84" height="9.84" fill="#ecc3c6"/>
<rect x="666.91" y="396.51" width="9.84" height="9.84" fill="#f2f1f1"/>
<rect x="558.65" y="288.25" width="118.1" height="118.1" fill="none" stroke="#262626" stroke-width="2.5"/>
</g>
<g>
<rect x="691.25" y="288.25" width="6.95" height="6.95" fill="#f2f1f1"/>
<rect x="698.2" y="288.25" width="6.95" height="6.95" fill="#f2eded"/>
<rect x="705.14" y="288.25" width="6.95" height="6.95" fill="#edc9cb"/>
<rect x="712.09" y="288.25" width="6.95" height="6.95" fill="#ebbbbe"/>
<rect x="719.04" y="288.25" width="6.95" height="6.95" fill="#ecbfc2"/>
<rect x="725.99" y="288.25" width="6.95" height="6.95" fill="#efd6d7"/>
<rect x="732.93" y="288.25" width="6.95" height="6.95" fill="#efd6d7"/>
<rect x="739.88" y="288.25" width="6.95" height="6.95" fill="#f0e3e3"/>
<rect x="746.83" y="288.25" width="6.95" height="6.95" fill="#efd6d7"/>
<rect x="753.77" y="288.25" width="6.95" height="6.95" fill="#e37f87"/>
<rect x="760.72" y="288.25" width="6.95" height="6.95" fill="#ecc3c6"/>
<rect x="767.67" y="288.25" width="6.95" height="6.95" fill="#efdbdd"/>
<rect x="774.61" y="288.25" width="6.95" height="6.95" fill="#efd9da"/>
<rect x="781.56" y="288.25" width="6.95" height="6.95" fill="#f0e0e1"/>
<rect x="788.51" y="288.25" width="6.95" height="6.95" fill="#f2eeee"/>
<rect x="795.46" y="288.25" width="6.95" height="6.95" fill="#eed0d2"/>
<rect x="802.4" y="288.25" width="6.95" height="6.95" fill="#e58c93"/>
<rect x="691.25" y="295.2" width="6.95" height="6.95" fill="#f2eded"/>
<rect x="698.2" y="295.2" width="6.95" height="6.95" fill="#f2f1f1"/>
<rect x="705.14" y="295.2" width="6.95" height="6.95" fill="#f1eaea"/>
<rect x="712.09" y="295.2" width="6.95" height="6.95" fill="#f2eeee"/>
<rect x="719.04" y="295.2" width="6.95" height="6.95" fill="#f0e3e3"/>
<rect x="725.99" y="295.2" width="6.95" height="6.95" fill="#e9a8ad"/>
<rect x="732.93" y="295.2" width="6.95" height="6.95" fill="#e9a8ad"/>
<rect x="739.88" y="295.2" width="6.95" height="6.95" fill="#f1e8e9"/>
<rect x="746.83" y="295.2" width="6.95" height="6.95" fill="#f0e0e1"/>
<rect x="753.77" y="295.2" width="6.95" height="6.95" fill="#f0e3e3"/>
<rect x="760.72" y="295.2" width="6.95" height="6.95" fill="#f1e8e9"/>
<rect x="767.67" y="295.2" width="6.95" height="6.95" fill="#f2eded"/>
<rect x="774.61" y="295.2" width="6.95" height="6.95" fill="#f2eded"/>
<rect x="781.56" y="295.2" width="6.95" height="6.95" fill="#f1eaea"/>
<rect x="788.51" y="295.2" width="6.95" height="6.95" fill="#f0e0e1"/>
<rect x="795.46" y="295.2" width="6.95" height="6.95" fill="#ecbfc2"/>
<rect x="802.4" y="295.2" width="6.95" height="6.95" fill="#f1e8e9"/>
<rect x="691.25" y="302.14" width="6.95" height="6.95" fill="#edc9cb"/>
<rect x="698.2" y="302.14" width="6.95" height="6.95" fill="#f1eaea"/>
<rect x="705.14" y="302.14" width="6.95" height="6.95" fill="#f2f1f1"/>
<rect x="712.09" y="302.14" width="6.95" height="6.95" fill="#f2eeee"/>
<rect x="719.04" y="302.14" width="6.95" height="6.95" fill="#f2eded"/>
<rect x="725.99" y="302.14" width="6.95" height="6.95" fill="#f0e3e3"/>
<rect x="732.93" y="302.14" width="6.95" height="6.95" fill="#f1eaea"/>
<rect x="739.88" y="302.14" width="6.95" height="6.95" fill="#f1eaea"/>
<rect x="746.83" y="302.14" width="6.95" height="6.95" fill="#f1eaea"/>
<rect x="753.77" y="302.14" width="6.95" height="6.95" fill="#f1eaea"/>
<rect x="760.72" y="302.14" width="6.95" height="6.95" fill="#f2eded"/>
<rect x="767.67" y="302.14" width="6.95" height="6.95" fill="#e9a8ad"/>
<rect x="774.61" y="302.14" width="6.95" height="6.95" fill="#f2eded"/>
<rect x="781.56" y="302.14" width="6.95" height="6.95" fill="#f1e5e6"/>
<rect x="788.51" y="302.14" width="6.95" height="6.95" fill="#efdbdd"/>
<rect x="795.46" y="302.14" width="6.95" height="6.95" fill="#f1e7e7"/>
<rect x="802.4" y="302.14" width="6.95" height="6.95" fill="#f2eded"/>
<rect x="691.25" y="309.09" width="6.95" height="6.95" fill="#ebbbbe"/>
<rect x="698.2" y="309.09" width="6.95" height="6.95" fill="#f2eeee"/>
<rect x="705.14" y="309.09" width="6.95" height="6.95" fill="#f2eeee"/>
<rect x="712.09" y="309.09" width="6.95" height="6.95" fill="#f2f1f1"/>
<rect x="719.04" y="309.09" width="6.95" height="6.95" fill="#ecc3c6"/>
<rect x="725.99" y="309.09" width="6.95" height="6.95" fill="#ecbfc2"/>
<rect x="732.93" y="309.09" width="6.95" height="6.95" fill="#ecc3c6"/>
<rect x="739.88" y="309.09" width="6.95" height="6.95" fill="#f2eded"/>
<rect x="746.83" y="309.09" width="6.95" height="6.95" fill="#f0e3e3"/>
<rect x="753.77" y="309.09" width="6.95" height="6.95" fill="#f1e7e7"/>
<rect x="760.72" y="309.09" width="6.95" height="6.95" fill="#f0e0e1"/>
<rect x="767.67" y="309.09" width="6.95" height="6.95" fill="#f2eded"/>
<rect x="774.61" y="309.09" width="6.95" height="6.95" fill="#f2efef"/>
<rect x="781.56" y="309.09" width="6.95" height="6.95" fill="#f0e3e3"/>
<rect x="788.51" y="309.09" width="6.95" height="6.95" fill="#f0e0e1"/>
<rect x="795.46" y="309.09" width="6.95" height="6.95" fill="#e8a5aa"/>
<rect x="802.4" y="309.09" width="6.95" height="6.95" fill="#f0e3e3"/>
<rect x="691.25" y="316.04" width="6.95" height="6.95" fill="#ecbfc2"/>
<rect x="698.2" y="316.04" width="6.95" height="6.95" fill="#f0e3e3"/>
<rect x="705.14" y="316.04" width="6.95" height="6.95" fill="#f2eded"/>
<rect x="712.09" y="316.04" width="6.95" height="6.95" fill="#ecc3c6"/>
<rect x="719.04" y="316.04" width="6.95" height="6.95" fill="#f2f1f1"/>
<rect x="725.99" y="316.04" width="6.95" height="6.95" fill="#eed0d2"/>
<rect x="732.93" y="316.04" width="6.95" height="6.95" fill="#eecdcf"/>
<rect x="739.88" y="316.04" width="6.95" height="6.95" fill="#efd6d7"/>
<rect x="746.83" y="316.04" width="6.95" height="6.95" fill="#f0e0e1"/>
<rect x="753.77" y="316.04" width="6.95" height="6.95" fill="#f0e3e3"/>
<rect x="760.72" y="316.04" width="6.95" height="6.95" fill="#f0e0e1"/>
<rect x="767.67" y="316.04" width="6.95" height="6.95" fill="#f2eeee"/>
<rect x="774.61" y="316.04" width="6.95" height="6.95" fill="#f2eeee"/>
<rect x="781.56" y="316.04" width="6.95" height="6.95" fill="#f2eded"/>
<rect x="788.51" y="316.04" width="6.95" height="6.95" fill="#f0e0e1"/>
<rect x="795.46" y="316.04" width="6.95" height="6.95" fill="#e79fa5"/>
<rect x="802.4" y="316.04" width="6.95" height="6.95" fill="#f1e8e9"/>
<rect x="691.25" y="322.99" width="6.95" height="6.95" fill="#efd6d7"/>
<rect x="698.2" y="322.99" width="6.95" height="6.95" fill="#e9a8ad"/>
<rect x="705.14" y="322.99" width="6.95" height="6.95" fill="#f0e3e3"/>
<rect x="712.09" y="322.99" width="6.95" height="6.95" fill="#ecbfc2"/>
<rect x="719.04" y="322.99" width="6.95" height="6.95" fill="#eed0d2"/>
<rect x="725.99" y="322.99" width="6.95" height="6.95" fill="#f2f1f1"/>
<rect x="732.93" y="322.99" width="6.95" height="6.95" fill="#e4868d"/>
<rect x="739.88" y="322.99" width="6.95" height="6.95" fill="#e9a8ad"/>
<rect x="746.83" y="322.99" width="6.95" height="6.95" fill="#efdbdd"/>
<rect x="753.77" y="322.99" width="6.95" height="6.95" fill="#e4838b"/>
<rect x="760.72" y="322.99" width="6.95" height="6.95" fill="#efdbdd"/>
<rect x="767.67" y="322.99" width="6.95" height="6.95" fill="#f0e3e3"/>
<rect x="774.61" y="322.99" width="6.95" height="6.95" fill="#f1e8e9"/>
<rect x="781.56" y="322.99" width="6.95" height="6.95" fill="#efdbdd"/>
<rect x="788.51" y="322.99" width="6.95" height="6.95" fill="#f0e3e3"/>
<rect x="795.46" y="322.99" width="6.95" height="6.95" fill="#eecdcf"/>
<rect x="802.4" y="322.99" width="6.95" height="6.95" fill="#f0e3e3"/>
<rect x="691.25" y="329.93" width="6.95" height="6.95" fill="#efd6d7"/>
<rect x="698.2" y="329.93" width="6.95" height="6.95" fill="#e8a5aa"/>
<rect x="705.14" y="329.93" width="6.95" height="6.95" fill="#f1eaea"/>
<rect x="712.09" y="329.93" width="6.95" height="6.95" fill="#ecc3c6"/>
<rect x="719.04" y="329.93" width="6.95" height="6.95" fill="#eecdcf"/>
<rect x="725.99" y="329.93" width="6.95" height="6.95" fill="#e58c93"/>
<rect x="732.93" y="329.93" width="6.95" height="6.95" fill="#f2f1f1"/>
<rect x="739.88" y="329.93" width="6.95" height="6.95" fill="#ecbfc2"/>
<rect x="746.83" y="329.93" width="6.95" height="6.95" fill="#f1e8e9"/>
<rect x="753.77" y="329.93" width="6.95" height="6.95" fill="#f1e8e9"/>
<rect x="760.72" y="329.93" width="6.95" height="6.95" fill="#f0e0e1"/>
<rect x="767.67" y="329.93" width="6.95" height="6.95" fill="#f2eeee"/>
<rect x="774.61" y="329.93" width="6.95" height="6.95" fill="#f2eded"/>
<rect x="781.56" y="329.93" width="6.95" height="6.95" fill="#f1e8e9"/>
<rect x="788.51" y="329.93" width="6.95" height="6.95" fill="#f1e8e9"/>
<rect x="795.46" y="329.93" width="6.95" height="6.95" fill="#eed0d2"/>
<rect x="802.4" y="329.93" width="6.95" height="6.95" fill="#f2eded"/>
<rect x="691.25" y="336.88" width="6.95" height="6.95" fill="#f0e3e3"/>
<rect x="698.2" y="336.88" width="6.95" height="6.95" fill="#f1e8e9"/>
<rect x="705.14" y="336.88" width="6.95" height="6.95" fill="#f1eaea"/>
<rect x="712.09" y="336.88" width="6.95" height="6.95" fill="#f2eded"/>
<rect x="719.04" y="336.88" width="6.95" height="6.95" fill="#efd6d7"/>
<rect x="725.99" y="336.88" width="6.95" height="6.95" fill="#e8a5aa"/>
<rect x="732.93" y="336.88" width="6.95" height="6.95" fill="#ecbfc2"/>
<rect x="739.88" y="336.88" width="6.95" height="6.95" fill="#f2f1f1"/>
<rect x="746.83" y="336.88" width="6.95" height="6.95" fill="#f0e0e1"/>
<rect x="753.77" y="336.88" width="6.95" height="6.95" fill="#edc9cb"/>
<rect x="760.72" y="336.88" width="6.95" height="6.95" fill="#efdbdd"/>
<rect x="767.67" y="336.88" width="6.95" height="6.95" fill="#f0e3e3"/>
<rect x="774.61" y="336.88" width="6.95" height="6.95" fill="#f1e5e6"/>
<rect x="781.56" y="336.88" width="6.95" height="6.95" fill="#f0e0e1"/>
<rect x="788.51" y="336.88" width="6.95" height="6.95" fill="#f0e0e1"/>
<rect x="795.46" y="336.88" width="6.95" height="6.95" fill="#eecdcf"/>
<rect x="802.4" y="336.88" width="6.95" height="6.95" fill="#efd6d7"/>
<rect x="691.25" y="343.83" width="6.95" height="6.95" fill="#efd6d7"/>
<rect x="698.2" y="343.83" width="6.95" height="6.95" fill="#f0e0e1"/>
<rect x="705.14" y="343.83" width="6.95" height="6.95" fill="#f1eaea"/>
<rect x="712.09" y="343.83" width="6.95" height="6.95" fill="#f0e3e3"/>
<rect x="719.04" y="343.83" width="6.95" height="6.95" fill="#f0e0e1"/>
<rect x="725.99" y="343.83" width="6.95" height="6.95" fill="#efdbdd"/>
<rect x="732.93" y="343.83" width="6.95" height="6.95" fill="#f1e8e9"/>
<rect x="739.88" y="343.83" width="6.95" height="6.95" fill="#f0e0e1"/>
<rect x="746.83" y="343.83" width="6.95" height="6.95" fill="#f2f1f1"/>
<rect x="753.77" y="343.83" width="6.95" height="6.95" fill="#f2eeee"/>
<rect x="760.72" y="343.83" width="6.95" height="6.95" fill="#f1e8e9"/>
<rect x="767.67" y="343.83" width="6.95" height="6.95" fill="#f1e8e9"/>
<rect x="774.61" y="343.83" width="6.95" height="6.95" fill="#f0e3e3"/>
<rect x="781.56" y="343.83" width="6.95" height="6.95" fill="#f1e8e9"/>
<rect x="788.51" y="343.83" width="6.95" height="6.95" fill="#f1e8e9"/>
<rect x="795.46" y="343.83" width="6.95" height="6.95" fill="#f0e3e3"/>
<rect x="802.4" y="343.83" width="6.95" height="6.95" fill="#eed0d2"/>
<rect x="691.25" y="350.77" width="6.95" height="6.95" fill="#e37f87"/>
<rect x="698.2" y="350.77" width="6.95" height="6.95" fill="#f0e3e3"/>
<rect x="705.14" y="350.77" width="6.95" height="6.95" fill="#f1eaea"/>
<rect x="712.09" y="350.77" width="6.95" height="6.95" fill="#f1e7e7"/>
<rect x="719.04" y="350.77" width="6.95" height="6.95" fill="#f0e3e3"/>
<rect x="725.99" y="350.77" width="6.95" height="6.95" fill="#e4838b"/>
<rect x="732.93" y="350.77" width="6.95" height="6.95" fill="#f1e8e9"/>
<rect x="739.88" y="350.77" width="6.95" height="6.95" fill="#edc9cb"/>
<rect x="746.83" y="350.77" width="6.95" height="6.95" fill="#f2eeee"/>
<rect x="753.77" y="350.77" width="6.95" height="6.95" fill="#f2f1f1"/>
<rect x="760.72" y="350.77" width="6.95" height="6.95" fill="#f2efef"/>
<rect x="767.67" y="350.77" width="6.95" height="6.95" fill="#f2eeee"/>
<rect x="774.61" y="350.77" width="6.95" height="6.95" fill="#f1e8e9"/>
<rect x="781.56" y="350.77" width="6.95" height="6.95" fill="#f0e3e3"/>
<rect x="788.51" y="350.77" width="6.95" height="6.95" fill="#f0e3e3"/>
<rect x="795.46" y="350.77" width="6.95" height="6.95" fill="#f0e0e1"/>
<rect x="802.4" y="350.77" width="6.95" height="6.95" fill="#f1e8e9"/>
<rect x="691.25" y="357.72" width="6.95" height="6.95" fill="#ecc3c6"/>
<rect x="698.2" y="357.72" width="6.95" height="6.95" fill="#f1e8e9"/>
<rect x="705.14" y="357.72" width="6.95" height="6.95" fill="#f2eded"/>
<rect x="712.09" y="357.72" width="6.95" height="6.95" fill="#f0e0e1"/>
<rect x="719.04" y="357.72" width="6.95" height="6.95" fill="#f0e0e1"/>
<rect x="725.99" y="357.72" width="6.95" height="6.95" fill="#efdbdd"/>
<rect x="732.93" y="357.72" width="6.95" height="6.95" fill="#f0e0e1"/>
<rect x="739.88" y="357.72" width="6.95" height="6.95" fill="#efdbdd"/>
<rect x="746.83" y="357.72" width="6.95" height="6.95" fill="#f1e8e9"/>
<rect x="753.77" y="357.72" width="6.95" height="6.95" fill="#f2efef"/>
<rect x="760.72" y="357.72" width="6.95" height="6.95" fill="#f2f1f1"/>
<rect x="767.67" y="357.72" width="6.95" height="6.95" fill="#f0e0e1"/>
<rect x="774.61" y="357.72" width="6.95" height="6.95" fill="#f0e0e1"/>
<rect x="781.56" y="357.72" width="6.95" height="6.95" fill="#efdbdd"/>
<rect x="788.51" y="357.72" width="6.95" height="6.95" fill="#f2eded"/>
<rect x="795.46" y="357.72" width="6.95" height="6.95" fill="#eed0d2"/>
<rect x="802.4" y="357.72" width="6.95" height="6.95" fill="#f0e0e1"/>
<rect x="691.25" y="364.67" width="6.95" height="6.95" fill="#efdbdd"/>
<rect x="698.2" y="364.67" width="6.95" height="6.95" fill="#f2eded"/>
<rect x="705.14" y="364.67" width="6.95" height="6.95" fill="#e9a8ad"/>
<rect x="712.09" y="364.67" width="6.95" height="6.95" fill="#f2eded"/>
<rect x="719.04" y="364.67" width="6.95" height="6.95" fill="#f2eeee"/>
<rect x="725.99" y="364.67" width="6.95" height="6.95" fill="#f0e3e3"/>
<rect x="732.93" y="364.67" width="6.95" height="6.95" fill="#f2eeee"/>
<rect x="739.88" y="364.67" width="6.95" height="6.95" fill="#f0e3e3"/>
<rect x="746.83" y="364.67" width="6.95" height="6.95" fill="#f1e8e9"/>
<rect x="753.77" y="364.67" width="6.95" height="6.95" fill="#f2eeee"/>
<rect x="760.72" y="364.67" width="6.95" height="6.95" fill="#f0e0e1"/>
<rect x="767.67" y="364.67" width="6.95" height="6.95" fill="#f2f1f1"/>
<rect x="774.61" y="364.67" width="6.95" height="6.95" fill="#f2eeee"/>
<rect x="781.56" y="364.67" width="6.95" height="6.95" fill="#f0e3e3"/>
<rect x="788.51" y="364.67" width="6.95" height="6.95" fill="#f0e0e1"/>
<rect x="795.46" y="364.67" width="6.95" height="6.95" fill="#f0e3e3"/>
<rect x="802.4" y="364.67" width="6.95" height="6.95" fill="#f1e8e9"/>
<rect x="691.25" y="371.61" width="6.95" height="6.95" fill="#efd9da"/>
<rect x="698.2" y="371.61" width="6.95" height="6.95" fill="#f2eded"/>
<rect x="705.14" y="371.61" width="6.95" height="6.95" fill="#f2eded"/>
<rect x="712.09" y="371.61" width="6.95" height="6.95" fill="#f2efef"/>
<rect x="719.04" y="371.61" width="6.95" height="6.95" fill="#f2eeee"/>
<rect x="725.99" y="371.61" width="6.95" height="6.95" fill="#f1e8e9"/>
<rect x="732.93" y="371.61" width="6.95" height="6.95" fill="#f2eded"/>
<rect x="739.88" y="371.61" width="6.95" height="6.95" fill="#f1e5e6"/>
<rect x="746.83" y="371.61" width="6.95" height="6.95" fill="#f0e3e3"/>
<rect x="753.77" y="371.61" width="6.95" height="6.95" fill="#f1e8e9"/>
<rect x="760.72" y="371.61" width="6.95" height="6.95" fill="#f0e0e1"/>
<rect x="767.67" y="371.61" width="6.95" height="6.95" fill="#f2eeee"/>
<rect x="774.61" y="371.61" width="6.95" height="6.95" fill="#f2f1f1"/>
<rect x="781.56" y="371.61" width="6.95" height="6.95" fill="#efd6d7"/>
<rect x="788.51" y="371.61" width="6.95" height="6.95" fill="#f1e8e9"/>
<rect x="795.46" y="371.61" width="6.95" height="6.95" fill="#f0e0e1"/>
<rect x="802.4" y="371.61" width="6.95" height="6.95" fill="#f0e3e3"/>
<rect x="691.25" y="378.56" width="6.95" height="6.95" fill="#f0e0e1"/>
<rect x="698.2" y="378.56" width="6.95" height="6.95" fill="#f1eaea"/>
<rect x="705.14" y="378.56" width="6.95" height="6.95" fill="#f1e5e6"/>
<rect x="712.09" y="378.56" width="6.95" height="6.95" fill="#f0e3e3"/>
<rect x="719.04" y="378.56" width="6.95" height="6.95" fill="#f2eded"/>
<rect x="725.99" y="378.56" width="6.95" height="6.95" fill="#efdbdd"/>
<rect x="732.93" y="378.56" width="6.95" height="6.95" fill="#f1e8e9"/>
<rect x="739.88" y="378.56" width="6.95" height="6.95" fill="#f0e0e1"/>
<rect x="746.83" y="378.56" width="6.95" height="6.95" fill="#f1e8e9"/>
<rect x="753.77" y="378.56" width="6.95" height="6.95" fill="#f0e3e3"/>
<rect x="760.72" y="378.56" width="6.95" height="6.95" fill="#efdbdd"/>
<rect x="767.67" y="378.56" width="6.95" height="6.95" fill="#f0e3e3"/>
<rect x="774.61" y="378.56" width="6.95" height="6.95" fill="#efd6d7"/>
<rect x="781.56" y="378.56" width="6.95" height="6.95" fill="#f2f1f1"/>
<rect x="788.51" y="378.56" width="6.95" height="6.95" fill="#f0e3e3"/>
<rect x="795.46" y="378.56" width="6.95" height="6.95" fill="#e6959b"/>
<rect x="802.4" y="378.56" width="6.95" height="6.95" fill="#efdbdd"/>
<rect x="691.25" y="385.51" width="6.95" height="6.95" fill="#f2eeee"/>
<rect x="698.2" y="385.51" width="6.95" height="6.95" fill="#f0e0e1"/>
<rect x="705.14" y="385.51" width="6.95" height="6.95" fill="#efdbdd"/>
<rect x="712.09" y="385.51" width="6.95" height="6.95" fill="#f0e0e1"/>
<rect x="719.04" y="385.51" width="6.95" height="6.95" fill="#f0e0e1"/>
<rect x="725.99" y="385.51" width="6.95" height="6.95" fill="#f0e3e3"/>
<rect x="732.93" y="385.51" width="6.95" height="6.95" fill="#f1e8e9"/>
<rect x="739.88" y="385.51" width="6.95" height="6.95" fill="#f0e0e1"/>
<rect x="746.83" y="385.51" width="6.95" height="6.95" fill="#f1e8e9"/>
<rect x="753.77" y="385.51" width="6.95" height="6.95" fill="#f0e3e3"/>
<rect x="760.72" y="385.51" width="6.95" height="6.95" fill="#f2eded"/>
<rect x="767.67" y="385.51" width="6.95" height="6.95" fill="#f0e0e1"/>
<rect x="774.61" y="385.51" width="6.95" height="6.95" fill="#f1e8e9"/>
<rect x="781.56" y="385.51" width="6.95" height="6.95" fill="#f0e3e3"/>
<rect x="788.51" y="385.51" width="6.95" height="6.95" fill="#f2f1f1"/>
<rect x="795.46" y="385.51" width="6.95" height="6.95" fill="#ecc3c6"/>
<rect x="802.4" y="385.51" width="6.95" height="6.95" fill="#f0e0e1"/>
<rect x="691.25" y="392.46" width="6.95" height="6.95" fill="#eed0d2"/>
<rect x="698.2" y="392.46" width="6.95" height="6.95" fill="#ecbfc2"/>
<rect x="705.14" y="392.46" width="6.95" height="6.95" fill="#f1e7e7"/>
<rect x="712.09" y="392.46" width="6.95" height="6.95" fill="#e8a5aa"/>
<rect x="719.04" y="392.46" width="6.95" height="6.95" fill="#e79fa5"/>
<rect x="725.99" y="392.46" width="6.95" height="6.95" fill="#eecdcf"/>
<rect x="732.93" y="392.46" width="6.95" height="6.95" fill="#eed0d2"/>
<rect x="739.88" y="392.46" width="6.95" height="6.95" fill="#eecdcf"/>
<rect x="746.83" y="392.46" width="6.95" height="6.95" fill="#f1e8e9"/>
<rect x="753.77" y="392.46" width="6.95" height="6.95" fill="#f0e0e1"/>
<rect x="760.72" y="392.46" width="6.95" height="6.95" fill="#eed0d2"/>
<rect x="767.67" y="392.46" width="6.95" height="6.95" fill="#f0e3e3"/>
<rect x="774.61" y="392.46" width="6.95" height="6.95" fill="#f0e0e1"/>
<rect x="781.56" y="392.46" width="6.95" height="6.95" fill="#e6959b"/>
<rect x="788.51" y="392.46" width="6.95" height="6.95" fill="#ecc3c6"/>
<rect x="795.46" y="392.46" width="6.95" height="6.95" fill="#f2f1f1"/>
<rect x="802.4" y="392.46" width="6.95" height="6.95" fill="#efd6d7"/>
<rect x="691.25" y="399.4" width="6.95" height="6.95" fill="#e58c93"/>
<rect x="698.2" y="399.4" width="6.95" height="6.95" fill="#f1e8e9"/>
<rect x="705.14" y="399.4" width="6.95" height="6.95" fill="#f2eded"/>
<rect x="712.09" y="399.4" width="6.95" height="6.95" fill="#f0e3e3"/>
<rect x="719.04" y="399.4" width="6.95" height="6.95" fill="#f1e8e9"/>
<rect x="725.99" y="399.4" width="6.95" height="6.95" fill="#f0e3e3"/>
<rect x="732.93" y="399.4" width="6.95" height="6.95" fill="#f2eded"/>
<rect x="739.88" y="399.4" width="6.95" height="6.95" fill="#efd6d7"/>
<rect x="746.83" y="399.4" width="6.95" height="6.95" fill="#eed0d2"/>
<rect x="753.77" y="399.4" width="6.95" height="6.95" fill="#f1e8e9"/>
<rect x="760.72" y="399.4" width="6.95" height="6.95" fill="#f0e0e1"/>
<rect x="767.67" y="399.4" width="6.95" height="6.95" fill="#f1e8e9"/>
<rect x="774.61" y="399.4" width="6.95" height="6.95" fill="#f0e3e3"/>
<rect x="781.56" y="399.4" width="6.95" height="6.95" fill="#efdbdd"/>
<rect x="788.51" y="399.4" width="6.95" height="6.95" fill="#f0e0e1"/>
<rect x="795.46" y="399.4" width="6.95" height="6.95" fill="#efd6d7"/>
<rect x="802.4" y="399.4" width="6.95" height="6.95" fill="#f2f1f1"/>
<rect x="691.25" y="288.25" width="118.1" height="118.1" fill="none" stroke="#262626" stroke-width="2.5"/>
</g>
</svg></body></html>
